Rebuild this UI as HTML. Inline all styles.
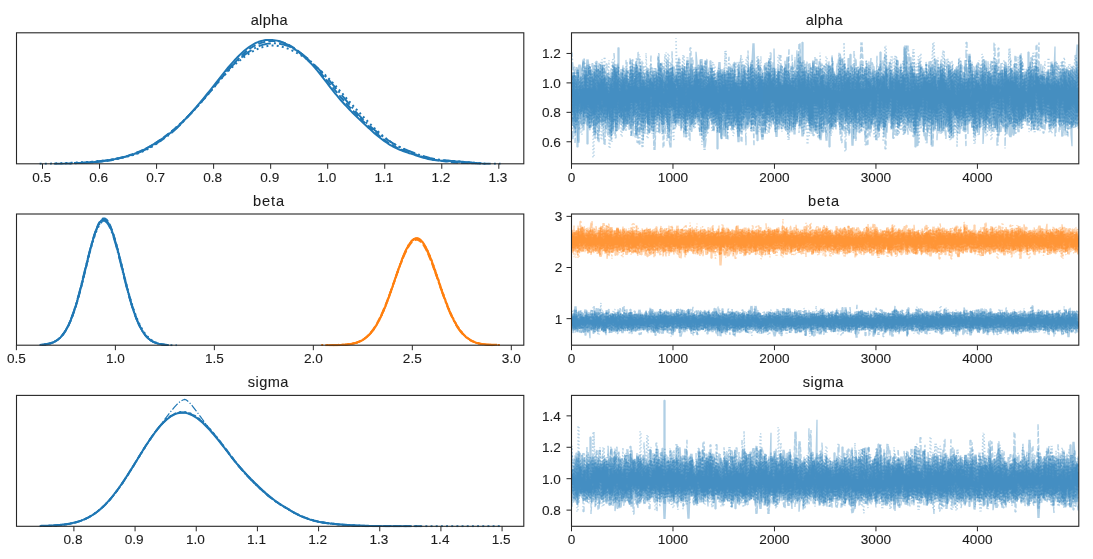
<!DOCTYPE html>
<html><head><meta charset="utf-8"><title>trace</title>
<style>html,body{margin:0;padding:0;background:#fff;}svg{display:block;}text{font-family:"Liberation Sans",sans-serif;font-size:13.6px;fill:#1c1c1c;stroke:#1c1c1c;stroke-width:0.1px;}</style></head><body>
<svg width="1093" height="559" viewBox="0 0 1093 559">
<rect width="1093" height="559" fill="#fff"/>
<defs>
<clipPath id="cl0"><rect x="16.5" y="32.8" width="507.3" height="132"/></clipPath>
<clipPath id="cr0"><rect x="571.5" y="32.8" width="507.9" height="131"/></clipPath>
<clipPath id="cl1"><rect x="16.5" y="214" width="507.3" height="132.2"/></clipPath>
<clipPath id="cr1"><rect x="571.5" y="214" width="507.9" height="131.2"/></clipPath>
<clipPath id="cl2"><rect x="16.5" y="395.4" width="507.3" height="131.9"/></clipPath>
<clipPath id="cr2"><rect x="571.5" y="395.4" width="507.9" height="130.9"/></clipPath>
</defs>
<polyline points="39.65,163.8 41.43,163.8 43.21,163.8 44.99,163.8 46.77,163.8 48.55,163.78 50.32,163.68 52.1,163.55 53.88,163.47 55.66,163.42 57.44,163.33 59.22,163.23 61,163.16 62.78,163.07 64.56,162.97 66.34,162.9 68.12,162.82 69.9,162.73 71.68,162.69 73.46,162.61 75.24,162.52 77.02,162.44 78.8,162.34 80.58,162.28 82.36,162.17 84.13,162.09 85.91,162 87.69,161.91 89.47,161.79 91.25,161.65 93.03,161.53 94.81,161.37 96.59,161.23 98.37,161.03 100.15,160.82 101.93,160.64 103.71,160.47 105.49,160.3 107.27,160.1 109.05,159.87 110.83,159.61 112.61,159.36 114.39,159.1 116.17,158.81 117.94,158.52 119.72,158.23 121.5,157.89 123.28,157.54 125.06,157.13 126.84,156.71 128.62,156.22 130.4,155.75 132.18,155.22 133.96,154.69 135.74,154.13 137.52,153.56 139.3,152.9 141.08,152.22 142.86,151.47 144.64,150.68 146.42,149.82 148.2,148.91 149.98,147.92 151.75,146.89 153.53,145.79 155.31,144.62 157.09,143.36 158.87,142.05 160.65,140.68 162.43,139.24 164.21,137.77 165.99,136.28 167.77,134.78 169.55,133.25 171.33,131.7 173.11,130.11 174.89,128.54 176.67,126.94 178.45,125.34 180.23,123.69 182.01,122.02 183.79,120.4 185.56,118.7 187.34,116.99 189.12,115.21 190.9,113.42 192.68,111.6 194.46,109.74 196.24,107.81 198.02,105.84 199.8,103.82 201.58,101.78 203.36,99.73 205.14,97.68 206.92,95.61 208.7,93.51 210.48,91.38 212.26,89.25 214.04,87.13 215.82,85.04 217.6,82.99 219.37,80.92 221.15,78.91 222.93,76.89 224.71,75 226.49,73.11 228.27,71.18 230.05,69.35 231.83,67.58 233.61,65.89 235.39,64.17 237.17,62.59 238.95,61.07 240.73,59.64 242.51,58.24 244.29,56.89 246.07,55.59 247.85,54.38 249.63,53.24 251.41,52.16 253.18,51.14 254.96,50.21 256.74,49.38 258.52,48.62 260.3,47.91 262.08,47.3 263.86,46.78 265.64,46.33 267.42,45.99 269.2,45.73 270.98,45.53 272.76,45.51 274.54,45.5 276.32,45.7 278.1,45.92 279.88,46.31 281.66,46.7 283.44,47.17 285.22,47.71 286.99,48.37 288.77,49.03 290.55,49.78 292.33,50.64 294.11,51.47 295.89,52.37 297.67,53.32 299.45,54.37 301.23,55.43 303.01,56.55 304.79,57.72 306.57,58.98 308.35,60.28 310.13,61.71 311.91,63.17 313.69,64.62 315.47,66.14 317.25,67.69 319.03,69.28 320.8,70.86 322.58,72.52 324.36,74.2 326.14,75.93 327.92,77.74 329.7,79.55 331.48,81.39 333.26,83.32 335.04,85.25 336.82,87.23 338.6,89.21 340.38,91.26 342.16,93.32 343.94,95.36 345.72,97.43 347.5,99.49 349.28,101.51 351.06,103.47 352.84,105.46 354.61,107.41 356.39,109.33 358.17,111.29 359.95,113.2 361.73,115.11 363.51,117 365.29,118.88 367.07,120.7 368.85,122.53 370.63,124.33 372.41,126.11 374.19,127.89 375.97,129.63 377.75,131.31 379.53,132.92 381.31,134.49 383.09,136.03 384.87,137.5 386.65,138.86 388.42,140.16 390.2,141.43 391.98,142.65 393.76,143.78 395.54,144.86 397.32,145.9 399.1,146.89 400.88,147.83 402.66,148.73 404.44,149.6 406.22,150.45 408,151.28 409.78,152.06 411.56,152.85 413.34,153.6 415.12,154.28 416.9,154.95 418.68,155.6 420.45,156.22 422.23,156.81 424.01,157.35 425.79,157.82 427.57,158.29 429.35,158.74 431.13,159.13 432.91,159.48 434.69,159.81 436.47,160.08 438.25,160.38 440.03,160.61 441.81,160.77 443.59,160.95 445.37,161.13 447.15,161.26 448.93,161.32 450.71,161.43 452.49,161.49 454.26,161.54 456.04,161.58 457.82,161.66 459.6,161.75 461.38,161.84 463.16,161.93 464.94,162.01 466.72,162.14 468.5,162.3 470.28,162.49 472.06,162.68 473.84,162.83 475.62,163.02 477.4,163.21 479.18,163.34 480.96,163.48 482.74,163.58 484.52,163.66 486.3,163.75 488.07,163.75 489.85,163.78 491.63,163.8 493.41,163.8 495.19,163.8 496.97,163.79 498.75,163.76 500.53,163.74" fill="none" stroke="#1f77b4" stroke-width="1.95" stroke-linejoin="round" stroke-dasharray="1.95 3.22" clip-path="url(#cl0)"/>
<polyline points="53.91,163.75 55.57,163.73 57.23,163.72 58.9,163.71 60.56,163.69 62.22,163.67 63.88,163.64 65.55,163.58 67.21,163.58 68.87,163.5 70.54,163.46 72.2,163.37 73.86,163.31 75.52,163.16 77.19,163.08 78.85,163.01 80.51,162.91 82.17,162.8 83.84,162.67 85.5,162.5 87.16,162.33 88.83,162.19 90.49,162.05 92.15,161.91 93.81,161.75 95.48,161.61 97.14,161.43 98.8,161.25 100.46,161.06 102.13,160.89 103.79,160.66 105.45,160.42 107.12,160.18 108.78,159.9 110.44,159.66 112.1,159.41 113.77,159.14 115.43,158.8 117.09,158.49 118.76,158.14 120.42,157.76 122.08,157.39 123.74,156.99 125.41,156.59 127.07,156.22 128.73,155.82 130.39,155.39 132.06,154.89 133.72,154.35 135.38,153.83 137.05,153.23 138.71,152.64 140.37,151.96 142.03,151.26 143.7,150.47 145.36,149.69 147.02,148.88 148.68,148.06 150.35,147.11 152.01,146.1 153.67,145.13 155.34,144.09 157,143.09 158.66,142.02 160.32,140.98 161.99,139.88 163.65,138.77 165.31,137.61 166.97,136.41 168.64,135.13 170.3,133.79 171.96,132.41 173.63,131.02 175.29,129.54 176.95,127.97 178.61,126.35 180.28,124.7 181.94,122.96 183.6,121.18 185.27,119.42 186.93,117.64 188.59,115.81 190.25,114 191.92,112.22 193.58,110.41 195.24,108.57 196.9,106.75 198.57,104.89 200.23,103.02 201.89,101.09 203.56,99.18 205.22,97.2 206.88,95.21 208.54,93.16 210.21,91.08 211.87,89 213.53,86.89 215.19,84.8 216.86,82.73 218.52,80.67 220.18,78.65 221.85,76.67 223.51,74.8 225.17,72.95 226.83,71.1 228.5,69.35 230.16,67.67 231.82,66.02 233.48,64.45 235.15,62.93 236.81,61.44 238.47,59.98 240.14,58.57 241.8,57.16 243.46,55.85 245.12,54.59 246.79,53.31 248.45,52.08 250.11,50.96 251.78,49.94 253.44,48.92 255.1,47.98 256.76,47.11 258.43,46.34 260.09,45.7 261.75,45.14 263.41,44.58 265.08,44.19 266.74,43.86 268.4,43.62 270.07,43.46 271.73,43.31 273.39,43.25 275.05,43.32 276.72,43.4 278.38,43.61 280.04,43.89 281.7,44.18 283.37,44.55 285.03,45.01 286.69,45.57 288.36,46.15 290.02,46.86 291.68,47.64 293.34,48.48 295.01,49.44 296.67,50.46 298.33,51.53 299.99,52.64 301.66,53.8 303.32,55.1 304.98,56.39 306.65,57.76 308.31,59.19 309.97,60.66 311.63,62.16 313.3,63.76 314.96,65.35 316.62,66.95 318.29,68.59 319.95,70.33 321.61,72.05 323.27,73.81 324.94,75.62 326.6,77.46 328.26,79.34 329.92,81.22 331.59,83.13 333.25,85.06 334.91,87.01 336.58,88.97 338.24,90.99 339.9,92.94 341.56,94.94 343.23,96.94 344.89,98.9 346.55,100.89 348.21,102.87 349.88,104.87 351.54,106.8 353.2,108.78 354.87,110.66 356.53,112.53 358.19,114.36 359.85,116.12 361.52,117.86 363.18,119.54 364.84,121.22 366.5,122.83 368.17,124.42 369.83,125.93 371.49,127.4 373.16,128.84 374.82,130.21 376.48,131.56 378.14,132.88 379.81,134.17 381.47,135.5 383.13,136.74 384.8,137.95 386.46,139.12 388.12,140.23 389.78,141.3 391.45,142.36 393.11,143.36 394.77,144.3 396.43,145.25 398.1,146.12 399.76,146.95 401.42,147.73 403.09,148.47 404.75,149.22 406.41,149.9 408.07,150.54 409.74,151.17 411.4,151.83 413.06,152.5 414.72,153.12 416.39,153.75 418.05,154.32 419.71,154.89 421.38,155.46 423.04,155.95 424.7,156.48 426.36,156.95 428.03,157.41 429.69,157.86 431.35,158.26 433.01,158.59 434.68,158.93 436.34,159.24 438,159.45 439.67,159.69 441.33,159.91 442.99,160.1 444.65,160.28 446.32,160.45 447.98,160.59 449.64,160.75 451.31,160.88 452.97,161.03 454.63,161.16 456.29,161.34 457.96,161.48 459.62,161.65 461.28,161.81 462.94,161.98 464.61,162.19 466.27,162.35 467.93,162.53 469.6,162.68 471.26,162.82 472.92,162.97 474.58,163.11 476.25,163.22 477.91,163.31 479.57,163.42 481.23,163.48 482.9,163.53 484.56,163.54" fill="none" stroke="#1f77b4" stroke-width="1.95" stroke-linejoin="round" stroke-dasharray="12.48 3.12 1.95 3.12" clip-path="url(#cl0)"/>
<polyline points="65.32,163.51 66.96,163.49 68.6,163.44 70.24,163.44 71.88,163.37 73.52,163.28 75.16,163.21 76.8,163.12 78.44,163.03 80.08,162.93 81.72,162.84 83.36,162.77 85,162.68 86.65,162.56 88.29,162.51 89.93,162.42 91.57,162.3 93.21,162.18 94.85,162.09 96.49,161.95 98.13,161.8 99.77,161.65 101.41,161.53 103.05,161.36 104.69,161.21 106.33,160.99 107.97,160.74 109.62,160.49 111.26,160.17 112.9,159.87 114.54,159.55 116.18,159.2 117.82,158.8 119.46,158.37 121.1,157.88 122.74,157.4 124.38,156.91 126.02,156.39 127.66,155.85 129.3,155.29 130.95,154.71 132.59,154.14 134.23,153.56 135.87,152.89 137.51,152.27 139.15,151.62 140.79,150.95 142.43,150.22 144.07,149.51 145.71,148.7 147.35,147.89 148.99,146.99 150.63,146.05 152.27,145.11 153.92,144.13 155.56,143.08 157.2,141.97 158.84,140.89 160.48,139.75 162.12,138.62 163.76,137.4 165.4,136.12 167.04,134.9 168.68,133.65 170.32,132.39 171.96,131.09 173.6,129.75 175.24,128.35 176.89,126.97 178.53,125.51 180.17,124.02 181.81,122.5 183.45,120.95 185.09,119.34 186.73,117.68 188.37,115.98 190.01,114.26 191.65,112.53 193.29,110.79 194.93,109.01 196.57,107.2 198.21,105.42 199.86,103.58 201.5,101.72 203.14,99.9 204.78,98.03 206.42,96.16 208.06,94.21 209.7,92.31 211.34,90.34 212.98,88.41 214.62,86.43 216.26,84.47 217.9,82.5 219.54,80.53 221.18,78.59 222.83,76.56 224.47,74.58 226.11,72.64 227.75,70.7 229.39,68.78 231.03,66.91 232.67,65 234.31,63.14 235.95,61.35 237.59,59.66 239.23,57.92 240.87,56.25 242.51,54.68 244.16,53.19 245.8,51.76 247.44,50.42 249.08,49.11 250.72,47.98 252.36,46.97 254,46.01 255.64,45.17 257.28,44.41 258.92,43.73 260.56,43.1 262.2,42.58 263.84,42.17 265.48,41.76 267.13,41.45 268.77,41.24 270.41,41.05 272.05,40.97 273.69,40.96 275.33,41.04 276.97,41.16 278.61,41.32 280.25,41.63 281.89,42.07 283.53,42.59 285.17,43.15 286.81,43.86 288.45,44.71 290.1,45.59 291.74,46.54 293.38,47.57 295.02,48.71 296.66,49.86 298.3,51.1 299.94,52.4 301.58,53.73 303.22,55.08 304.86,56.49 306.5,57.98 308.14,59.55 309.78,61.19 311.42,62.87 313.07,64.5 314.71,66.24 316.35,68.05 317.99,69.85 319.63,71.73 321.27,73.69 322.91,75.63 324.55,77.58 326.19,79.58 327.83,81.56 329.47,83.56 331.11,85.55 332.75,87.51 334.4,89.44 336.04,91.42 337.68,93.4 339.32,95.33 340.96,97.27 342.6,99.17 344.24,101.06 345.88,102.93 347.52,104.75 349.16,106.58 350.8,108.38 352.44,110.15 354.08,111.95 355.72,113.69 357.37,115.4 359.01,117.1 360.65,118.74 362.29,120.34 363.93,121.97 365.57,123.56 367.21,125.12 368.85,126.65 370.49,128.17 372.13,129.64 373.77,131.14 375.41,132.58 377.05,133.98 378.69,135.35 380.34,136.7 381.98,138.05 383.62,139.29 385.26,140.54 386.9,141.71 388.54,142.84 390.18,143.89 391.82,144.92 393.46,145.85 395.1,146.74 396.74,147.56 398.38,148.35 400.02,149.07 401.66,149.78 403.31,150.42 404.95,150.98 406.59,151.56 408.23,152.15 409.87,152.65 411.51,153.18 413.15,153.73 414.79,154.27 416.43,154.79 418.07,155.32 419.71,155.86 421.35,156.39 422.99,156.86 424.63,157.4 426.28,157.86 427.92,158.28 429.56,158.71 431.2,159.09 432.84,159.43 434.48,159.76 436.12,160.04 437.76,160.32 439.4,160.57 441.04,160.81 442.68,161.01 444.32,161.23 445.96,161.43 447.61,161.65 449.25,161.83 450.89,162.04 452.53,162.23 454.17,162.41 455.81,162.56 457.45,162.7 459.09,162.81 460.73,162.9 462.37,162.96 464.01,163.04 465.65,163.08 467.29,163.13 468.93,163.18 470.58,163.19 472.22,163.26 473.86,163.3 475.5,163.36 477.14,163.42 478.78,163.47 480.42,163.55 482.06,163.62 483.7,163.72 485.34,163.8 486.98,163.8 488.62,163.8 490.26,163.8" fill="none" stroke="#1f77b4" stroke-width="1.95" stroke-linejoin="round" stroke-dasharray="7.21 3.12" clip-path="url(#cl0)"/>
<polyline points="73.87,163.05 75.45,163.03 77.02,162.99 78.6,163 80.17,162.93 81.75,162.87 83.32,162.81 84.89,162.72 86.47,162.6 88.04,162.52 89.62,162.4 91.19,162.3 92.77,162.2 94.34,162.08 95.92,161.95 97.49,161.79 99.07,161.62 100.64,161.41 102.22,161.26 103.79,161.04 105.37,160.83 106.94,160.57 108.51,160.31 110.09,160.05 111.66,159.76 113.24,159.45 114.81,159.12 116.39,158.79 117.96,158.42 119.54,158.12 121.11,157.74 122.69,157.37 124.26,157 125.84,156.59 127.41,156.12 128.98,155.67 130.56,155.16 132.13,154.66 133.71,154.11 135.28,153.49 136.86,152.9 138.43,152.2 140.01,151.54 141.58,150.83 143.16,150.04 144.73,149.25 146.31,148.42 147.88,147.55 149.46,146.67 151.03,145.78 152.6,144.85 154.18,143.9 155.75,142.92 157.33,141.93 158.9,140.9 160.48,139.87 162.05,138.82 163.63,137.73 165.2,136.65 166.78,135.54 168.35,134.38 169.93,133.15 171.5,131.89 173.08,130.59 174.65,129.29 176.22,127.9 177.8,126.51 179.37,125.02 180.95,123.49 182.52,121.97 184.1,120.37 185.67,118.76 187.25,117.08 188.82,115.4 190.4,113.66 191.97,111.9 193.55,110.14 195.12,108.35 196.7,106.52 198.27,104.7 199.84,102.84 201.42,100.95 202.99,99.05 204.57,97.11 206.14,95.16 207.72,93.19 209.29,91.24 210.87,89.27 212.44,87.28 214.02,85.29 215.59,83.27 217.17,81.24 218.74,79.27 220.32,77.25 221.89,75.23 223.46,73.29 225.04,71.33 226.61,69.43 228.19,67.49 229.76,65.69 231.34,63.85 232.91,62.05 234.49,60.28 236.06,58.61 237.64,57.02 239.21,55.46 240.79,53.9 242.36,52.44 243.93,51.07 245.51,49.75 247.08,48.51 248.66,47.36 250.23,46.28 251.81,45.24 253.38,44.3 254.96,43.47 256.53,42.68 258.11,42.03 259.68,41.48 261.26,41.01 262.83,40.61 264.41,40.31 265.98,40.08 267.55,39.98 269.13,39.9 270.7,39.92 272.28,40.02 273.85,40.16 275.43,40.35 277,40.65 278.58,41.05 280.15,41.53 281.73,42.04 283.3,42.66 284.88,43.33 286.45,44.05 288.03,44.88 289.6,45.75 291.17,46.73 292.75,47.73 294.32,48.86 295.9,49.97 297.47,51.17 299.05,52.4 300.62,53.68 302.2,55.01 303.77,56.45 305.35,57.87 306.92,59.38 308.5,60.93 310.07,62.52 311.65,64.16 313.22,65.91 314.79,67.66 316.37,69.49 317.94,71.43 319.52,73.38 321.09,75.34 322.67,77.36 324.24,79.42 325.82,81.47 327.39,83.51 328.97,85.58 330.54,87.61 332.12,89.64 333.69,91.6 335.26,93.56 336.84,95.47 338.41,97.41 339.99,99.24 341.56,101.01 343.14,102.75 344.71,104.5 346.29,106.19 347.86,107.86 349.44,109.52 351.01,111.13 352.59,112.7 354.16,114.21 355.74,115.77 357.31,117.3 358.88,118.85 360.46,120.37 362.03,121.88 363.61,123.36 365.18,124.83 366.76,126.28 368.33,127.73 369.91,129.14 371.48,130.6 373.06,132.02 374.63,133.42 376.21,134.72 377.78,136.02 379.36,137.3 380.93,138.53 382.5,139.71 384.08,140.86 385.65,141.98 387.23,143.05 388.8,144.08 390.38,145.05 391.95,145.96 393.53,146.86 395.1,147.68 396.68,148.42 398.25,149.09 399.83,149.77 401.4,150.38 402.98,150.98 404.55,151.52 406.12,152.11 407.7,152.69 409.27,153.2 410.85,153.68 412.42,154.18 414,154.67 415.57,155.23 417.15,155.74 418.72,156.26 420.3,156.77 421.87,157.29 423.45,157.73 425.02,158.18 426.6,158.59 428.17,158.93 429.74,159.29 431.32,159.58 432.89,159.8 434.47,160 436.04,160.21 437.62,160.37 439.19,160.48 440.77,160.62 442.34,160.68 443.92,160.77 445.49,160.81 447.07,160.85 448.64,160.95 450.21,161.01 451.79,161.11 453.36,161.21 454.94,161.33 456.51,161.4 458.09,161.49 459.66,161.59 461.24,161.7 462.81,161.83 464.39,161.97 465.96,162.1 467.54,162.23 469.11,162.36 470.69,162.53 472.26,162.71 473.83,162.83 475.41,162.93 476.98,163.08 478.56,163.17 480.13,163.28 481.71,163.4" fill="none" stroke="#1f77b4" stroke-width="1.95" stroke-linejoin="round" clip-path="url(#cl0)"/>
<g opacity="0.35" fill="none" stroke="#1f77b4" stroke-linejoin="bevel" clip-path="url(#cr0)"><g transform="scale(0.1)"><path d="M5720 1190v-381l10-90v529l10 23v-552l10 57v495l10 56v-517l10 117v542l10 0v-777l10-46v448l10 49v-497l10 51v544l10 0v-543l10-85v686l10 0v-686l10 100v500l10-74v-419l10-126v845l10 0v-845l10 78v603l10 28v-631l10 92v502l10-109v-393l10 46v398l10 147v-553l10-102v655l10-152v-590l10 0v590l10 24v-530l10 0v530l10-123v-302l10-160v585l10 0v-585l10 183v392l10 0v-419l10-33v471l10-107v-310l10-82v463l10-113v-350l10-16v362l10 138v-441l10 24v602l10-205v-471l10 0v484l10-2v-539l10 0v520l10 117v-586l10 0v586l10-17v-815l10 0v815l10-123v-377l10-70v458l10-28v-430l10 55v524l10 0v-485l10-42v431l10 0v-499l10 3v525l10 0v-367l10-39v466l10-8v-524l10-70v506l10 53v-559l10-51v518l10-34v-450l10 0v432l10 249v-700l10 0v700l10-172v-442l10-54v477l10-2v-475l10 23v587l10-96v-357l10-57v619l10-128v-491l10-52v543l10-112v-449l10-9v446l10 88v-496l10 36v542l10 0v-542l10 33v384l10 103v-487l10 31v406l10 66v-540l10 39v343l10 43v-489l10 47v442l10-94v-534l10 0v747l10 6v-690l10 0v574l10 35v-512l10-6v516l10-8v-540l10 126v346l10 0v-448l10-128v651l10 0v-651l10 186v545l10-216v-382l10 0v500l10 0v-480l10-83v540l10 2v-542l10 40v502l10 66v-491l10-155v568l10 34v-602l10-52v587l10-18v-461l10 157v467l10-82v-543l10 0v543l10-15v-525l10 27v606l10 0v-489l10-221v536l10 54v-590l10 99v475l10-13v-333l10-151v629l10 0v-514l10-107v561l10 11v-546l10 24v445l10-38v-632l10 107v538l10 0v-369l10 2v412l10-123v-358l10-137v531l10 242v-773l10 150v658l10 0v-626l10-1v520l10 5v-527l10 0v527l10-166v-367l10 96v304l10 25v-579l10 0v579l10 41v-461l10 0v431l10 0v-457l10 68v307l10 94v-405l10-3v685l10 0v-773l10-95v609l10 98v-707l10 183v584l10 0v-628l10-46v550l10 102v-652l10 20v632l10-195v-437l10-29v480l10 0v-449l10 0v517l10 0v-444l10-125v562l10 39v-601l10 36v565l10-29v-442l10-178v583l10 34v-418l10 0v407l10 181v-563l10-240v803l10-218v-393l10 0v393l10 93v-468l10-42v510l10-2v-645l10 3v642l10-74v-437l10-50v546l10 0v-628l10 85v529l10-195v-334l10-118v609l10 28v-637l10-187v824l10-87v-737l10 316v512l10-124v-450l10 75v645l10 0v-808l10 0v660l10-109v-385l10 6v551l10 75v-640l10 79v561l10-226v-333l10-207v709l10-125v-584l10-1v596l10 0v-584l10-38v570l10-101v-304l10-141v515l10 32v-375l10-176v551l10 71v-760l10 353v407l10 125v-559l10-59v618l10-203v-451l10 0v528l10 0v-427l10 35v433l10 0v-426l10-10v419l10-44v-541l10 0v605l10 17v-636l10-102v520l10 76v-596l10 185v417l10 156v-522l10 0v504l10-44v-497l10 56v441l10 29v-581l10 61v520l10-75v-496l10-217v687l10 26v-678l10 32v693l10 0v-693l10 128v501l10 164v-940l10 0v940l10-41v-721l10 217v303l10-26v-292l10-5v409l10 0v-475l10 102v357l10 81v-429l10-63v516l10-53v-467l10-174v641l10 39v-547l10 13v557l10 0v-544l10-83v508l10 0v-508l10 31v548l10 144v-719l10 10v709l10-91v-618l10 41v585l10 0v-471l10 0v306l10 33v-372l10-77v503l10-24v-538l10-66v855l10 0v-600l10-216v612l10 0v-710l10 231v467l10 0v-507l10 0v475l10 75v-538l10 0v457l10 0v-454l10-77v566l10 0v-566l10 134v349l10 128v-702l10 0v702l10-157v-493l10 3v530l10 38v-490l10 61v365l10 106v-671l10 0v602l10-21v-623l10 0v625l10 288v-787l10 75v712l10-295v-392l10-104v558l10 0v-398l10-90v478l10 38v-516l10-31v547l10-32v-559l10 198v449l10-129v-423l10-18v488l10 0v-488l10-4v496l10 0v-443l10-92v481l10 13v-420l10-155v678l10 0v-482l10-22v538l10-165v-373l10-92v552l10 8v-474l10-10v484l10-43v-479l10 0v465l10 119v-580l10-60v640l10-139v-657l10 0v759l10 0v-513l10-14v509l10 0v-509l10 172v350l10-108v-494l10 27v626l10-172v-481l10 0v508l10-47v-429l10 0v568l10 11v-413l10-139v552l10-38v-514l10-70v583l10-66v-531l10-55v586l10 101v-457l10-23v480l10-58v-546l10-40v586l10-6v-434l10-34v468l10 21v-569l10-215v876l10-33v-843l10 377v421l10 0v-504l10 5v474l10 0v-652l10 0v711l10-156v-438l10 0v481l10 94v-526l10 0v728l10 0v-732l10 109v610l10 0v-687l10-1v435l10 3v-535l10 0v499l10 0v-391l10-58v528l10 69v-597l10 127v389l10-27v-431l10-67v604l10 0v-575l10 83v464l10-71v-492l10-62v789l10-331v-458l10 59v532l10 50v-539l10 2v537l10-177v-526l10 0v562l10 147v-664l10 209v455l10-163v-295l10-212v447l10 226v-666l10 0v666l10-37v-536l10 0v506l10 20v-488l10 6v377l10 158v-504l10-159v663l10-39v-624l10 63v561l10 103v-615l10-26v641l10-124v-529l10-30v448l10 0v-469l10-14v511l10 63v-523l10-122v739l10 0v-601l10-123v559l10 27v-415l10 96v319l10 108v-471l10-232v703l10-153v-550l10 203v358l10 89v-421l10-47v423l10 0v-567l10 0v567l10-49v-457l10 107v422l10 135v-559l10-54v613l10-90v-613l10 0v657l10-223v-264l10-43v421l10 72v-603l10 0v496l10 0v-453l10 0v720l10-165v-493l10-177v722l10-146v-576l10 120v474l10-56v-423l10 0v584l10 0v-567l10 0v545l10-116v-319l10 7v335l10 90v-491l10-136v627l10-43v-413l10 39v294l10 200v-546l10-82v628l10-240v-368l10-115v583l10 27v-547l10 158v405l10 9v-432l10-172v604l10 74v-678l10 120v558l10-109v-444l10 47v508l10 27v-546l10-140v686l10-67v-619l10 67v599l10 0v-626l10 106v399l10-36v-436l10 0v470l10 29v-568l10 19v554l10-78v-625l10 0v723l10 0v-536l10 86v362l10-12v-362l10-97v404l10 93v-502l10 70v462l10 0v-728l10 0v618l10 0v-519l10 80v485l10 51v-489l10 0v516l10 35v-595l10-48v609l10-52v-557l10 105v452l10 18v-470l10 30v461l10 5v-492l10-126v618l10-72v-466l10 155v277l10-46v-338l10 0v338l10 136v-515l10-9v373l10 74v-447l10 52v397l10 4v-324l10-205v642l10-52v-590l10 64v574l10 0v-564l10-249v796l10 0v-501l10 136v283l10-19v-352l10 18v399l10 45v-491l10 0v327l10 68v-480l10 0v489l10 49v-530l10 40v490l10-11v-479l10-71v550l10 9v-509l10 62v447l10-108v-375l10-62v654l10 123v-777l10 30v535l10-2v-490l10-66v543l10 34v-681l10-143v824l10-186v-638" stroke-width="13"/></g></g>
<g opacity="0.35" fill="none" stroke="#1f77b4" stroke-linejoin="bevel" clip-path="url(#cr0)"><g transform="scale(0.1)"><path d="M5720 1130v-386l10 4v526l10 0v-567l10 85v407l10 34v-441l10-94v546l10 0v-546l10 101v330l10 0v-330l10-38v583l10 0v-562l10-27v509l10-35v-474l10-75v477l10-2v-475l10 81v419l10 0v-382l10-158v597l10-127v-470l10 146v418l10 0v-453l10-43v864l10 0v-871l10-76v723l10 0v-723l10 104v464l10 204v-750l10 39v625l10-175v-512l10 0v774l10 0v-805l10 190v561l10-166v-589l10-21v638l10-46v-370l10-13v442l10 6v-468l10-155v881l10 0v-717l10-2v486l10 169v-823l10 0v695l10-156v-448l10-42v686l10 0v-678l10-20v675l10-123v-552l10 152v357l10 52v-419l10 7v583l10 0v-583l10-107v630l10 0v-630l10 53v514l10-115v-466l10 0v610l10-36v-526l10 88v438l10-120v-318l10-142v443l10-57v-386l10-69v631l10 20v-478l10-44v408l10 221v-694l10 0v694l10-137v-411l10-70v481l10-64v-581l10 159v457l10 300v-673l10-49v722l10-217v-604l10 0v484l10 92v-701l10 178v673l10 0v-666l10 86v358l10 58v-579l10 0v406l10 292v-664l10 0v664l10-80v-540l10-35v582l10-55v-461l10-28v607l10 0v-607l10 37v394l10 0v-450l10 0v476l10 65v-545l10-40v500l10 36v-536l10-117v653l10 29v-699l10 246v643l10-299v-576l10 0v610l10 47v-515l10 0v433l10 0v-450l10 50v647l10 51v-674l10 29v533l10-116v-800l10 227v541l10 60v-563l10-54v617l10-22v-595l10 208v424l10-80v-473l10-122v595l10 189v-784l10 237v547l10 31v-595l10-198v793l10-192v-601l10 151v450l10 27v-439l10 65v265l10 90v-395l10 3v444l10 55v-598l10 13v585l10-94v-498l10 0v521l10 0v-566l10 0v467l10-47v-352l10-44v485l10 288v-773l10-18v538l10 99v-658l10 0v658l10 74v-686l10 0v539l10-40v-420l10-23v381l10-21v-362l10-84v561l10 97v-665l10-28v519l10 95v-584l10 0v584l10 39v-504l10 0v564l10-89v-444l10-65v545l10-104v-422l10-2v409l10 78v-487l10 29v429l10 0v-404l10-296v735l10 41v-776l10 202v528l10 61v-589l10 53v444l10-28v-499l10 0v451l10 132v-573l10 22v644l10 0v-585l10-33v498l10 17v-630l10 0v688l10 0v-593l10 0v550l10-104v-334l10-26v525l10 0v-736l10 0v666l10-66v-541l10 83v401l10-28v-533l10 0v551l10-25v-407l10 74v372l10-29v-308l10-167v678l10-62v-616l10 63v529l10 81v-610l10 43v501l10-50v-451l10-182v608l10 0v-608l10 219v536l10 0v-581l10-172v594l10 23v-458l10 38v504l10-90v-396l10-10v461l10 0v-559l10 58v607l10 0v-683l10-79v674l10 53v-727l10 50v595l10-100v-400l10 0v496l10-98v-437l10 0v510l10 15v-518l10 106v473l10 0v-712l10 0v631l10 2v-490l10 0v525l10 97v-664l10 71v514l10 48v-612l10 0v612l10-96v-469l10-20v436l10 264v-700l10 59v641l10-243v-478l10 0v478l10 3v-456l10 0v592l10 0v-553l10-20v476l10 0v-476l10-71v552l10-86v-507l10 0v722l10-209v-519l10 62v621l10 0v-634l10 37v641l10 0v-669l10-18v605l10-10v-521l10-1v722l10 0v-731l10 0v647l10 0v-558l10-134v645l10-30v-498l10-150v575l10-136v-314l10-12v562l10 0v-530l10-118v621l10 100v-721l10 30v691l10-197v-656l10 164v463l10 175v-582l10-96v678l10-119v-559l10 11v448l10 25v-568l10 0v568l10-85v-351l10 0v444l10 194v-515l10-81v621l10-49v-427l10-134v422l10 102v-488l10 14v421l10-65v-399l10 1v417l10 26v-398l10-203v551l10 146v-697l10 82v615l10-177v-363l10-95v458l10-7v-691l10 320v399l10 73v-453l10-32v595l10 0v-678l10 68v389l10 136v-525l10 84v441l10-93v-365l10-152v513l10 153v-666l10 149v517l10-2v-515l10-90v605l10-64v-558l10 0v567l10-152v-319l10-47v542l10 0v-508l10-109v602l10 56v-502l10-111v548l10-71v-557l10 0v621l10-11v-442l10-128v570l10-83v-487l10 76v428l10 99v-527l10 5v441l10 198v-639l10 29v610l10 23v-566l10-64v339l10-20v-315l10-92v573l10-57v-516l10-12v528l10-107v-358l10-4v694l10-144v-585l10-231v815l10 0v-815l10 190v531l10-63v-341l10-153v532l10 0v-532l10-57v544l10 130v-674l10 14v660l10-8v-470l10-205v646l10-62v-584l10 31v606l10 146v-646l10-16v662l10-49v-613l10 1v625l10 0v-625l10-70v639l10 88v-727l10 143v584l10-174v-410l10-18v397l10 76v-473l10 13v477l10 0v-503l10 21v416l10 4v-348l10-320v712l10 101v-813l10 220v593l10-97v-568l10 0v710l10 0v-783l10 0v869l10-167v-732l10 0v545l10 84v-463l10-19v414l10 152v-566l10 28v538l10-54v-578l10 107v485l10 0v-488l10 54v580l10 0v-580l10-87v608l10-60v-667l10-147v710l10 35v-745l10 226v538l10 16v-504l10 18v471l10 25v-639l10 135v387l10 62v-517l10 0v573l10 0v-652l10-59v647l10 51v-698l10 217v426l10-51v-375l10-135v681l10 0v-681l10 89v620l10 107v-679l10-18v697l10-212v-485l10-69v724l10 0v-636l10 16v584l10 0v-584l10-38v770l10-332v-456l10-106v624l10-6v-618l10 50v529l10 105v-473l10 0v427l10 0v-455l10 40v420l10 0v-430l10-14v399l10 44v-473l10-150v623l10-55v-568l10 18v550l10 119v-669l10 110v559l10 153v-662l10 0v662l10-122v-604l10 0v404l10 22v-317l10-215v643l10-82v-525l10 0v525l10-15v-608l10 0v753l10 0v-534l10-26v474l10 153v-627l10-55v682l10-75v-554l10 25v377l10 0v-494l10 27v728l10 0v-786l10 0v509l10 87v-649l10 0v560l10 0v-485l10 0v457l10 60v-475l10 0v477l10 0v-444l10 2v555l10 0v-646l10 52v508l10 28v-603l10 0v612l10 0v-507l10 51v528l10 0v-528l10-276v727l10 0v-727l10 227v520l10 32v-582l10 0v606l10 0v-575l10-78v660l10-62v-598l10 1v597l10-31v-635l10 226v429l10-27v-578l10-42v711l10-7v-704l10 123v581l10-100v-487l10 0v473l10-76v-336l10 105v351l10-45v-490l10 0v648l10-201v-463l10 0v519l10 59v-559l10-148v685l10 110v-795l10 29v766l10-248v-518l10 138v350l10 269v-640l10 0v632l10 0v-551l10-2v525l10 0v-573l10 0v389l10 32v-409l10-104v619l10-6v-500l10 0v500l10-2v-642l10 0v509l10 212v-550l10-141v691l10 33v-724l10 173v362l10 141v-516l10 0v480l10 0v-575l10-46v525l10-99v-382l10 0v546l10 39v-468l10-168v636l10-65v-571l10 31v617l10 0v-700l10 40v654l10 0v-508l10 4v592l10-61v-608l10-44v518l10 109v-627l10 24v572l10-15v-557l10 18v578l10-183v-395l10-134v603l10 81v-684l10 100v584l10 13v-597" stroke-width="13" stroke-dasharray="13 21.45"/><path d="M5720 971v-219m10 381v-380m10 380v-328m10 367v-267m10 154v-168m10 239v-354m10 354v-218m10 149v-172m10 149v-184m10 264v-228m10 374v-380m10 285v-310m10 256v-228m10 202v-334m10 333v-327m10 341v-217m10 168v-172m10 197v-203m10 205v-279m10 309v-220m10 261v-261m10 252v-378m10 378v-408m10 518v-419m10 419v-373m10 224v-201m10 145v-248m10 313v-288m10 271v-255m10 255v-295m10 417v-421m10 421v-399m10 251v-294m10 358v-358m10 289v-232m10 319v-311m10 328v-266m10 266v-239m10 255v-334m10 235v-259m10 423v-485m10 371v-255m10 242v-303m10 263v-389m10 455v-455m10 392v-343m10 400v-357m10 339v-240m10 245v-220m10 261v-346m10 353v-335m10 266v-315m10 452v-457m10 329v-314m10 311v-220m10 220v-318m10 362v-345m10 302v-302m10 285v-240m10 173v-173m10 173v-298m10 352v-352m10 431v-345m10 209v-248m10 248v-267m10 277v-178m10 203v-193m10 225v-204m10 113v-278m10 401v-304m10 304v-266m10 248v-304m10 319v-327m10 227v-167m10 284v-284m10 376v-388m10 382v-355m10 241v-241m10 218v-312m10 190v-181m10 385v-343m10 238v-315m10 446v-446m10 346v-198m10 172v-234m10 232v-321m10 407v-283m10 225v-245m10 173v-260m10 370v-344m10 386v-438m10 316v-316m10 371v-273m10 238v-302m10 306v-306m10 391v-325m10 191v-278m10 321v-321m10 322v-273m10 279v-307m10 311v-372m10 361v-331m10 358v-328m10 410v-394m10 306v-325m10 198v-223m10 389v-339m10 385v-332m10 224v-224m10 224v-265m10 279v-215m10 179v-326m10 375v-314m10 460v-414m10 319v-355m10 328v-297m10 304v-249m10 249v-335m10 334v-312m10 174v-143m10 250v-236m10 284v-289m10 330v-403m10 403v-387m10 340v-416m10 416v-403m10 382v-348m10 252v-303m10 336v-243m10 259v-298m10 398v-293m10 291v-380m10 349v-432m10 487v-315m10 315v-341m10 263v-267m10 271v-283m10 258v-331m10 310v-284m10 323v-376m10 376v-432m10 412v-350m10 394v-309m10 314v-319m10 324v-342m10 342v-291m10 280v-210m10 308v-412m10 275v-248m10 177v-153m10 238v-299m10 325v-290m10 280v-280m10 178v-252m10 273v-299m10 387v-263m10 336v-410m10 303v-191m10 228v-309m10 229v-220m10 227v-226m10 281v-304m10 414v-406m10 292v-323m10 323v-309m10 414v-454m10 454v-358m10 283v-315m10 296v-244m10 226v-247m10 365v-519m10 518v-440m10 334v-266m10 148v-175m10 273v-305m10 277v-210m10 201v-240m10 254v-279m10 279v-236m10 241v-278m10 379v-392m10 304v-299m10 358v-311m10 219v-181m10 181v-199m10 246v-191m10 239v-333m10 339v-339m10 333v-379m10 324v-343m10 325v-295m10 295v-259m10 212v-212m10 318v-317m10 317v-375m10 384v-355m10 355v-424m10 347v-359m10 502v-502m10 290v-198m10 218v-223m10 223v-256m10 255v-285m10 380v-430m10 454v-296m10 296v-272m10 220v-448m10 499v-371m10 389v-328m10 353v-384m10 419v-387m10 287v-287m10 215v-317m10 400v-360m10 314v-288m10 266v-264m10 338v-299m10 281v-274m10 266v-351m10 375v-284m10 234v-237m10 266v-315m10 379v-369m10 354v-377m10 307v-265m10 258v-188m10 130v-239m10 308v-299m10 277v-407m10 407v-237m10 404v-463m10 268v-234m10 289v-314m10 402v-470m10 440v-293m10 190v-218m10 289v-387m10 490v-447m10 421v-314m10 298v-390m10 390v-366m10 357v-319m10 181v-257m10 259v-271m10 286v-262m10 249v-265m10 296v-221m10 287v-287m10 230v-479m10 479v-329m10 397v-382m10 369v-398m10 241v-266m10 369v-349m10 349v-349m10 304v-258m10 215v-179m10 251v-249m10 321v-265m10 435v-434m10 280v-261m10 242v-316m10 316v-335m10 353v-338m10 258v-312m10 358v-220m10 180v-233m10 184v-205m10 247v-164m10 180v-354m10 354v-273m10 287v-262m10 240v-341m10 382v-297m10 325v-334m10 335v-354m10 264v-298m10 289v-280m10 310v-267m10 323v-254m10 229v-296m10 265v-351m10 415v-365m10 394v-288m10 288v-357m10 303v-314m10 313v-413m10 413v-355m10 278v-217m10 258v-202m10 264v-264m10 228v-285m10 271v-215m10 284v-284m10 198v-335m10 366v-334m10 280v-256m10 265v-260m10 211v-200m10 182v-158m10 312v-287m10 235v-252m10 296v-386m10 432v-333m10 243v-230m10 155v-251m10 162v-148m10 292v-269m10 315v-351m10 286v-286m10 234v-198m10 264v-264m10 269v-335m10 326v-326m10 286v-382m10 431v-344m10 350v-220m10 171v-232m10 211v-243m10 205v-226m10 432v-432m10 405v-361m10 361v-259m10 230v-364m10 348v-295m10 184v-273m10 441v-424m10 424v-422m10 312v-229m10 304v-304m10 265v-272m10 231v-309m10 341v-311m10 324v-324m10 324v-194m10 163v-199m10 185v-279m10 350v-255m10 212v-244m10 259v-288m10 229v-186m10 228v-362m10 364v-364m10 487v-370m10 320v-384m10 410v-328m10 257v-279m10 410v-398m10 380v-338m10 176v-229m10 247v-251m10 154v-156m10 280v-334m10 346v-361m10 329v-285m10 205v-239m10 335v-335m10 349v-293m10 257v-259m10 307v-307m10 307v-351m10 319v-283m10 317v-375m10 410v-410m10 379v-412m10 412v-338m10 338v-333m10 236v-241m10 281v-403m10 403v-366m10 320v-306m10 301v-242m10 294v-294m10 282v-248m10 234v-234m10 311v-241m10 241v-285m10 361v-324m10 329v-317m10 265v-393m10 327v-297m10 334v-320m10 390v-390m10 364v-293m10 291v-225m10 207v-303m10 268v-289m10 344v-344m10 326v-509m10 442v-256m10 231v-237m10 354v-354m10 350v-354m10 330v-330m10 232v-165m10 157v-225m10 291v-336m10 364v-364m10 316v-205m10 205v-280m10 359v-450m10 450v-356m10 302v-243m10 321v-337m10 253v-305m10 218v-208m10 296v-294m10 327v-327m10 264v-305m10 314v-346m10 346v-353m10 373v-368m10 306v-242m10 317v-316m10 390v-408m10 393v-393m10 299v-334m10 353v-286m10 286v-339m10 218v-215m10 302v-261m10 140v-237m10 344v-202m10 154v-193m10 210v-349m10 349v-275m10 274v-254m10 316v-300m10 193v-203m10 358v-275m10 248v-333m10 193v-269m10 324v-357m10 462v-422m10 422v-390m10 296v-236m10 267v-299m10 283v-290m10 196v-185m10 298v-271m10 309v-309m10 342v-328m10 350v-350m10 350v-472m10 388v-409m10 389v-217m10 275v-280m10 346v-312m10 218v-351m10 420v-493m10 554v-359m10 323v-337m10 313v-430m10 327v-251m10 221v-121m10 194v-178m10 210v-279m10 263v-307m10 258v-308m10 308v-372m10 477v-307m10 286v-384m10 349v-412m10 470v-473m10 229v-229m10 284v-251m10 307v-281m10 337v-303m10 303v-263m10 336v-336m10 336v-415m10 217v-217m10 280v-191m10 224v-278m10 280v-262m10 234v-268m10 268v-340m10 329v-282m10 338v-279m10 386v-405m10 349v-318m10 318v-292m10 291v-309m10 304v-324m10 327v-314m10 228v-264m10 199v-199m10 377v-374m10 401v-327m10 196v-287m10 269v-324m10 295v-295m10 384v-331m10 373v-369m10 353v-331m10 319v-308m10 288v-285m10 285v-342m10 340v-286m10 286v-281m10 239v-182m10 200v-294m10 266v-181m10 215v-276m10 407v-390m10 381v-322m10 269v-269" stroke-width="13"/></g></g>
<g opacity="0.35" fill="none" stroke="#1f77b4" stroke-linejoin="bevel" clip-path="url(#cr0)"><g transform="scale(0.1)"><path d="M5720 1213v-326l10-144v470l10-16v-525l10 0v766l10-190v-498l10-35v498l10-20v-478l10 122v459l10-72v-426l10 0v339l10-16v-307l10 45v217l10 166v-405l10-98v503l10-97v-422l10 0v422l10 79v-396l10-168v553l10 65v-618l10 131v487l10-135v-507l10 0v507l10 152v-649l10 72v663l10 0v-663l10-20v541l10-6v-450l10-155v605l10-22v-583l10 105v529l10 0v-529l10-85v457l10 68v-525l10 68v457l10 116v-445l10-21v379l10 73v-452l10-54v329l10 233v-539l10-9v548l10-29v-470l10-177v659l10-171v-488l10 60v664l10 0v-642l10-81v567l10 0v-567l10 139v339l10 114v-451l10 16v435l10-16v-428l10-151v579l10-32v-440l10-13v461l10 101v-706l10 0v643l10-91v-378l10 6v474l10 0v-630l10-30v770l10-102v-668l10 175v493l10-52v-380l10-94v631l10 0v-781l10 0v836l10 0v-713l10 130v484l10 0v-714l10 114v522l10 69v-589l10-8v597l10-129v-468l10 81v539l10-179v-317l10-164v419l10 240v-659l10 75v584l10-46v-588l10 112v476l10-6v-559l10 0v559l10 212v-766l10 3v763l10-252v-490l10-3v493l10-97v-613l10 0v778l10-232v-400l10-50v518l10 77v-452l10 52v646l10 0v-810l10 71v405l10 11v-416l10-29v529l10 67v-596l10-9v697l10 81v-790l10 2v788l10-341v-621l10 207v564l10 0v-538l10 45v434l10 0v-469l10 27v388l10-28v-420l10 0v459l10 0v-516l10 76v444l10-2v-525l10-8v564l10 158v-680l10-29v620l10 29v-572l10 59v414l10-81v-376l10-38v430l10 145v-814l10 0v772l10-28v-645l10 0v645l10-7v-370l10-105v494l10 0v-543l10 0v454l10 49v-549l10 0v631l10 79v-661l10 44v617l10-88v-615l10 0v615l10-126v-290l10-206v496l10-14v-534l10 0v561l10 131v-566l10 30v536l10-130v-378l10 4v374l10-3v-470l10 8v625l10 0v-578l10 0v482l10 0v-499l10 0v544l10 64v-607l10 57v550l10-35v-590l10-20v610l10-158v-443l10 11v369l10 53v-446l10 144v374l10 190v-584l10 0v584l10-140v-523l10-61v566l10-66v-443l10 8v565l10 8v-424l10-241v665l10-129v-536l10 216v423l10-63v-404l10 0v416l10 140v-678l10 149v529l10-98v-626l10-92v870l10 0v-678l10 0v409l10 33v-498l10 0v480l10 18v-359l10 0v416l10 0v-736l10 281v401l10-32v-299l10-211v674l10 0v-717l10 80v517l10 263v-780l10 32v562l10-124v-365l10-36v347l10 23v-477l10 9v467l10 14v-481l10 157v411l10 149v-580l10-73v653l10-88v-637l10 34v603l10 19v-622l10 17v452l10-13v-315l10-91v600l10-170v-430l10 32v518l10-103v-462l10-36v570l10-139v-431l10 96v518l10 0v-475l10-81v505l10-153v-352l10-21v523l10-44v-455l10-90v452l10 47v-360l10-71v376l10 138v-446l10-177v623l10 9v-528l10 0v454l10 132v-564l10-248v812l10-112v-400l10 6v394l10 136v-665l10 0v614l10 0v-485l10 0v442l10 12v-493l10 0v493l10-109v-466l10-233v699l10-39v-660l10 226v501l10 7v-465l10 0v465l10 22v-462l10 3v566l10 0v-675l10 0v532l10 13v-489l10-46v614l10 70v-684l10 74v610l10 25v-635l10-90v743l10 0v-743l10 67v535l10 66v-601l10 95v506l10-205v-301l10-164v604l10 72v-578l10-75v653l10-91v-562l10 83v479l10 50v-529l10 22v485l10 183v-769l10 0v769l10-175v-572l10 1v571l10-49v-522l10 80v529l10 0v-526l10-143v598l10-53v-427l10 149v393l10 0v-495l10 0v362l10 36v-432l10 12v442l10 0v-614l10 127v727l10 0v-663l10 0v439l10-81v-458l10 0v622l10 0v-582l10 0v529l10 81v-557l10-35v634l10-234v-400l10 31v466l10-29v-408l10 0v465l10 141v-697l10 0v700l10 16v-655l10-87v469l10-19v-450l10 146v516l10 0v-651l10-252v886l10 0v-886l10 176v575l10 6v-505l10-3v775l10 0v-840l10 68v779l10 0v-670l10-99v677l10 0v-670l10 61v531l10-74v-447l10 0v434l10-23v-462l10 0v449l10 0v-297l10-307v623l10 122v-634l10 0v634l10-74v-490l10 26v455l10-29v-454l10-133v572l10 198v-770l10-56v941l10 0v-941l10 128v490l10 39v-466l10 20v472l10-127v-485l10 1v676l10-50v-481l10 0v429l10 0v-423l10-34v452l10 0v-480l10-117v656l10-57v-599l10 189v472l10-94v-378l10-79v502l10-39v-449l10 0v627l10 0v-582l10 3v383l10 10v-482l10-58v617l10 114v-687l10 0v434l10 84v-450l10-106v570l10 35v-605l10 174v431l10 114v-604l10 0v611l10 0v-598l10 89v382l10 46v-525l10-33v558l10-123v-413l10-78v509l10-49v-460l10 112v549l10 0v-556l10 0v438l10-28v-525l10 0v515l10 61v-423l10-146v569l10-29v-514l10 98v453l10 240v-721l10 0v721l10-312v-516l10-61v519l10 140v-476l10-42v683l10-332v-396l10 0v545l10 85v-607l10 80v563l10 0v-599l10-58v614l10-236v-378l10 100v422l10 59v-461l10-5v466l10-28v-462l10-76v675l10 0v-675l10 99v549l10-242v-496l10 170v305l10 24v-393l10-31v584l10 0v-584l10 12v634l10 0v-615l10-6v478l10 0v-435l10-101v587l10 19v-606l10 186v484l10 0v-608l10 63v477l10 216v-655l10-23v418l10-54v-364l10-254v700l10 0v-700l10 421v249l10 69v-531l10 2v529l10 6v-482l10-91v573l10 2v-575l10-74v649l10-61v-613l10 223v435l10 0v-473l10 87v313l10-36v-511l10-57v618l10 0v-618l10 82v528l10 15v-543l10 40v530l10 0v-517l10-10v560l10-69v-491l10-107v598l10 102v-700l10 52v648l10 19v-667l10 0v630l10 6v-705l10 65v640l10-137v-678l10 0v645l10 197v-487l10-140v627l10-163v-464l10 43v347l10 21v-310l10-174v484l10 174v-658l10 122v536l10-30v-508l10 0v508l10-22v-562l10 0v560l10-117v-409l10 78v506l10 0v-544l10-188v720l10 0v-720l10 204v433l10 132v-601l10 132v469l10-121v-667l10 0v667l10-51v-543l10 198v332l10 74v-406l10-19v425l10-28v-494l10 9v375l10 95v-435l10-61v496l10 37v-474l10-30v609l10-130v-479l10-4v433l10-46v-275l10 0v380l10 0v-744l10 0v606l10 49v-415l10-262v690l10 4v-372l10 4v532l10 9v-541l10 14v567l10 0v-609l10 120v465l10-181v-331l10-21v365l10 6v-365l10 27v456l10 0v-431l10 39v342l10-136v-444l10 24v555l10 0v-555l10-41v591l10 0v-591l10 23v455l10 138v-587l10 0v670l10 0v-634l10 53v449l10 186v-574l10 78v489l10-215v-483l10 0v642l10-97v-516l10 1v669l10 0v-669l10 87v506l10-1v-565l10 50v515l10-24v-505l10 0v472l10 6v-433l10 8v425l10-117v-374l10-52v481l10-94v-387" stroke-width="13" stroke-dasharray="48.1 20.8"/><path d="M5720 1191v-274m10 228v-292m10 226v-249m10 380v-460m10 463v-458m10 440v-440m10 401v-392m10 429v-334m10 333v-377m10 306v-307m10 268v-245m10 225v-194m10 269v-260m10 241v-357m10 357v-341m10 333v-333m10 421v-357m10 357v-420m10 435v-452m10 450v-405m10 286v-392m10 439v-493m10 521v-313m10 441v-528m10 425v-442m10 360v-360m10 424v-357m10 361v-367m10 367v-375m10 408v-447m10 391v-391m10 299v-252m10 306v-401m10 401v-317m10 323v-254m10 329v-354m10 394v-402m10 256v-300m10 378v-335m10 345v-337m10 403v-403m10 459v-610m10 366v-366m10 506v-461m10 461v-379m10 385v-426m10 426v-409m10 325v-323m10 337v-321m10 388v-335m10 335v-380m10 379v-440m10 396v-392m10 297v-297m10 476v-521m10 521v-521m10 406v-342m10 361v-346m10 386v-456m10 466v-466m10 497v-458m10 458v-361m10 279v-294m10 294v-321m10 398v-531m10 531v-531m10 501v-442m10 460v-318m10 390v-554m10 468v-427m10 427v-442m10 436v-452m10 428v-363m10 360v-317m10 278v-236m10 171v-262m10 509v-498m10 397v-407m10 407v-382m10 413v-352m10 321v-434m10 366v-402m10 633v-630m10 567v-524m10 466v-459m10 434v-433m10 347v-330m10 403v-501m10 368v-368m10 439v-393m10 399v-358m10 529v-466m10 292v-212m10 188v-316m10 336v-367m10 445v-328m10 328v-463m10 501v-501m10 501v-500m10 374v-374m10 320v-393m10 403v-344m10 348v-313m10 313v-301m10 378v-388m10 383v-370m10 333v-347m10 400v-413m10 413v-440m10 401v-372m10 372v-428m10 469v-525m10 556v-463m10 483v-457m10 457v-411m10 342v-342m10 239v-263m10 278v-321m10 473v-653m10 653v-653m10 580v-456m10 516v-370m10 294v-294m10 294v-317m10 323v-430m10 408v-413m10 409v-409m10 484v-346m10 428v-538m10 370v-283m10 337v-365m10 403v-403m10 332v-224m10 222v-330m10 326v-519m10 513v-513m10 550v-411m10 340v-306m10 307v-298m10 350v-279m10 280v-391m10 406v-345m10 320v-332m10 396v-335m10 284v-280m10 328v-467m10 543v-468m10 319v-322m10 446v-430m10 430v-536m10 416v-406m10 356v-237m10 216v-345m10 422v-299m10 449v-449m10 421v-403m10 372v-459m10 459v-496m10 411v-403m10 503v-466m10 528v-415m10 357v-556m10 447v-392m10 450v-330m10 331v-370m10 276v-266m10 515v-514m10 514v-474m10 300v-481m10 402v-447m10 461v-299m10 275v-336m10 408v-376m10 301v-344m10 434v-286m10 278v-310m10 336v-336m10 336v-292m10 240v-240m10 209v-378m10 432v-449m10 376v-376m10 471v-463m10 438v-386m10 353v-267m10 225v-315m10 348v-357m10 357v-357m10 367v-373m10 387v-312m10 386v-398m10 302v-257m10 215v-353m10 401v-380m10 410v-330m10 329v-359m10 339v-258m10 287v-339m10 331v-403m10 440v-413m10 403v-438m10 322v-362m10 402v-402m10 432v-345m10 457v-365m10 338v-417m10 283v-283m10 339v-397m10 397v-396m10 318v-309m10 352v-295m10 255v-289m10 345v-297m10 359v-359m10 359v-349m10 249v-345m10 529v-488m10 488v-521m10 426v-338m10 341v-359m10 342v-402m10 438v-438m10 438v-342m10 253v-227m10 354v-428m10 363v-396m10 359v-359m10 359v-461m10 424v-339m10 319v-256m10 346v-419m10 360v-332m10 399v-418m10 491v-491m10 491v-493m10 355v-333m10 383v-455m10 512v-553m10 592v-506m10 474v-474m10 474v-495m10 618v-705m10 590v-303m10 244v-410m10 431v-431m10 431v-360m10 224v-236m10 338v-442m10 506v-495m10 426v-335m10 335v-368m10 358v-337m10 371v-371m10 325v-242m10 342v-383m10 341v-522m10 525v-459m10 411v-413m10 413v-413m10 430v-409m10 523v-523m10 350v-375m10 382v-382m10 426v-246m10 228v-333m10 321v-341m10 266v-297m10 434v-352m10 352v-393m10 474v-474m10 462v-479m10 352v-356m10 345v-345m10 331v-360m10 497v-497m10 487v-414m10 474v-474m10 505v-525m10 326v-353m10 353v-353m10 404v-357m10 432v-433m10 439v-371m10 512v-665m10 668v-631m10 365v-393m10 340v-340m10 397v-301m10 354v-328m10 283v-283m10 321v-312m10 282v-282m10 303v-361m10 376v-476m10 560v-589m10 589v-480m10 487v-475m10 349v-375m10 514v-531m10 380v-346m10 363v-317m10 341v-316m10 261v-367m10 408v-408m10 408v-259m10 272v-415m10 415v-428m10 421v-428m10 481v-415m10 386v-329m10 329v-431m10 345v-431m10 658v-528m10 540v-581m10 581v-668m10 470v-352m10 372v-370m10 409v-434m10 319v-470m10 604v-417m10 352v-352m10 385v-417m10 404v-404m10 404v-427m10 390v-433m10 482v-482m10 382v-479m10 479v-298m10 297v-297m10 366v-326m10 305v-388m10 332v-332m10 300v-275m10 343v-272m10 301v-383m10 393v-482m10 559v-462m10 314v-295m10 352v-379m10 415v-450m10 464v-461m10 417v-295m10 350v-420m10 558v-527m10 453v-418m10 296v-296m10 306v-373m10 373v-424m10 339v-290m10 290v-290m10 299v-314m10 397v-364m10 383v-414m10 421v-426m10 396v-396m10 358v-303m10 330v-336m10 379v-394m10 368v-398m10 437v-409m10 409v-435m10 471v-471m10 373v-284m10 225v-468m10 530v-380m10 473v-420m10 232v-354m10 519v-433m10 438v-518m10 603v-524m10 517v-520m10 311v-381m10 348v-311m10 431v-369m10 340v-329m10 419v-419m10 401v-399m10 438v-547m10 636v-636m10 394v-304m10 276v-279m10 282v-230m10 241v-287m10 317v-406m10 406v-425m10 592v-565m10 456v-368m10 374v-470m10 440v-380m10 380v-380m10 450v-388m10 420v-393m10 336v-424m10 424v-386m10 268v-225m10 245v-265m10 271v-271m10 318v-396m10 414v-414m10 414v-191m10 173v-382m10 352v-352m10 415v-310m10 340v-503m10 503v-482m10 467v-509m10 319v-378m10 604v-369m10 369v-406m10 326v-273m10 182v-376m10 493v-537m10 537v-420m10 372v-414m10 478v-488m10 472v-462m10 459v-431m10 335v-360m10 432v-331m10 376v-440m10 468v-475m10 443v-503m10 334v-334m10 477v-426m10 544v-423m10 357v-357m10 289v-372m10 337v-337m10 300v-159m10 235v-409m10 380v-392m10 347v-329m10 329v-257m10 275v-460m10 522v-522m10 522v-406m10 391v-406m10 484v-448m10 322v-367m10 374v-322m10 314v-314m10 340v-338m10 473v-496m10 496v-523m10 450v-450m10 369v-347m10 373v-373m10 425v-305m10 298v-341m10 305v-537m10 537v-394m10 347v-282m10 281v-281m10 368v-390m10 233v-267m10 300v-294m10 364v-353m10 353v-396m10 394v-361m10 414v-449m10 399v-343m10 337v-407m10 349v-219m10 237v-238m10 204v-315m10 295v-295m10 316v-284m10 340v-487m10 487v-330m10 472v-426m10 458v-458m10 467v-465m10 334v-396m10 362v-276m10 275v-277m10 256v-325m10 365v-314m10 396v-394m10 305v-236m10 222v-251m10 190v-235m10 244v-355m10 476v-420m10 432v-432m10 432v-565m10 436v-359m10 454v-454m10 518v-518m10 461v-443m10 382v-263m10 509v-509m10 239v-219m10 215v-368m10 427v-454m10 493v-398m10 421v-370m10 448v-407m10 285v-278m10 278v-397m10 483v-460m10 460v-460m10 326v-315m10 427v-398m10 296v-304m10 277v-309m10 327v-402m10 363v-363" stroke-width="13"/></g></g>
<g opacity="0.35" fill="none" stroke="#1f77b4" stroke-linejoin="bevel" clip-path="url(#cr0)"><g transform="scale(0.1)"><path d="M5720 1392v-867l10 137v730l10-45v-591l10 0v574l10-84v-570l10 0v460l10 292v-733l10 249v484l10-207v-450l10 5v365l10-21v-392l10-143v502l10 84v-586l10 30v500l10 20v-461l10-26v603l10 0v-603l10 127v498l10 0v-606l10 18v494l10 56v-499l10 37v485l10-83v-457l10 0v431l10-34v-459l10 38v567l10 161v-728l10 42v686l10-287v-427l10 0v445l10-104v-372l10-3v599l10 177v-776l10 180v596l10-262v-548l10 0v675l10 40v-492l10-98v590l10 11v-481l10-205v686l10-27v-659l10-43v702l10-160v-648l10 142v506l10 88v-594l10 101v493l10-198v-372l10-24v459l10 53v-400l10-94v410l10 94v-504l10 10v381l10 202v-583l10 47v536l10-28v-514l10 43v443l10-47v-475l10 5v495l10-64v-560l10 148v629l10-52v-570l10-31v656l10-211v-360l10-155v450l10 69v-539l10 0v488l10 150v-729l10 0v916l10 0v-736l10-51v561l10 0v-603l10 0v619l10-14v-386l10-15v379l10-103v-309l10 0v389l10 72v-547l10 61v488l10 0v-477l10-213v599l10 36v-519l10 24v544l10 0v-508l10-49v486l10-68v-418l10 88v395l10 0v-395l10-123v503l10 48v-551l10-23v574l10 143v-717l10 217v500l10-136v-383l10 0v526l10-134v-419l10-98v386l10 297v-683l10 77v606l10-153v-604l10 22v441l10 11v-452l10 166v296l10 98v-362l10-37v434l10 0v-505l10 0v502l10 0v-550l10 0v580l10-91v-344l10-86v532l10 0v-567l10 25v446l10 1v-443l10-82v510l10 209v-602l10-157v510l10 133v-501l10-23v669l10 0v-675l10-99v612l10-6v-606l10 149v397l10-26v-371l10-113v484l10 14v-498l10 120v371l10 95v-554l10 0v554l10 65v-721l10 0v721l10-82v-498l10-80v515l10 324v-839l10-56v895l10-103v-792l10 162v576l10 0v-579l10-87v500l10 3v-366l10-146v542l10 28v-570l10 131v511l10 0v-600l10 68v455l10 22v-477l10 80v319l10 34v-527l10 0v471l10 173v-603l10 0v663l10-10v-631l10 0v406l10 149v-502l10-64v486l10 53v-539l10 7v479l10 174v-711l10-117v688l10 0v-614l10 0v609l10-88v-392l10 0v439l10 4v-589l10 0v544l10 44v-384l10-70v458l10 68v-636l10 0v636l10 26v-431l10-159v574l10-289v-356l10 0v572l10 0v-501l10 0v436l10 302v-665l10-77v529l10 0v-529l10-44v545l10 0v-545l10 17v609l10-120v-489l10 84v407l10-1v-418l10-17v445l10 156v-624l10 84v540l10-140v-466l10 0v466l10 70v-586l10-12v468l10 0v-450l10 136v369l10 0v-433l10 0v559l10-63v-534l10 31v456l10-84v-403l10-126v623l10 0v-697l10 0v702l10-29v-410l10 0v410l10-97v-393l10 0v605l10 0v-533l10 0v440l10 70v-603l10 0v603l10-57v-681l10 0v651l10 0v-550l10 148v433l10-146v-303l10-108v459l10 166v-668l10 128v576l10 0v-609l10-13v427l10 109v-449l10-159v608l10-130v-578l10 176v336l10 284v-645l10-127v772l10-171v-353l10-108v512l10-96v-416l10 13v339l10 199v-472l10-31v503l10-102v-536l10 0v579l10-26v-453l10-61v511l10-118v-393l10 104v434l10 11v-446l10-23v510l10 0v-570l10 0v578l10-84v-464l10 0v568l10 0v-611l10-100v639l10 129v-746l10 0v746l10-68v-560l10 37v634l10 0v-522l10-96v546l10-35v-543l10 20v368l10 158v-618l10 0v618l10 53v-505l10 27v405l10-27v-415l10-160v575l10 57v-632l10 51v581l10-52v-662l10 79v639l10 0v-581l10 67v455l10 0v-452l10-145v492l10 0v-492l10-108v572l10 248v-820l10 58v586l10 24v-610l10 250v469l10 0v-671l10 0v879l10 0v-804l10-27v513l10 0v-513l10 80v569l10 0v-601l10-75v570l10 0v-570l10 124v422l10-31v-659l10 83v607l10 83v-690l10 186v542l10-142v-442l10-43v626l10-94v-532l10-52v621l10 0v-621l10 114v525l10-110v-402l10-82v681l10 0v-672l10-77v673l10 0v-430l10-105v444l10 0v-444l10-186v679l10 0v-629l10 25v527l10 0v-511l10 131v493l10 115v-696l10 0v696l10-29v-653l10 126v527l10-90v-644l10-34v628l10 0v-417l10-79v506l10 55v-551l10-29v551l10-72v-512l10 51v461l10-49v-284l10 28v231l10 0v-344l10-83v469l10 123v-592l10 72v615l10 0v-607l10 19v520l10 40v-640l10 24v616l10-10v-636l10 0v547l10 0v-464l10-125v468l10 83v-492l10 0v435l10 13v-704l10 0v718l10 0v-577l10-155v756l10 13v-769l10 92v733l10 35v-458l10-197v655l10-2v-653l10 219v485l10 0v-753l10 157v555l10 0v-484l10-102v458l10 0v-455l10-135v525l10 0v-525l10 78v600l10-36v-444l10-109v401l10 267v-668l10 62v606l10 69v-806l10 165v641l10-208v-433l10-175v608l10-42v-566l10 0v561l10 79v-608l10 0v608l10-70v-510l10 41v566l10 0v-442l10 37v323l10 68v-466l10-30v559l10 0v-633l10-104v688l10-159v-436l10 36v400l10 187v-587l10-131v718l10 87v-677l10-73v565l10-33v-532l10-30v657l10 0v-657l10 70v670l10-72v-598l10 39v451l10-25v-426l10 33v401l10 36v-463l10 10v453l10-21v-418l10 61v460l10-6v-501l10-59v579l10-124v-307l10-138v453l10 0v-511l10 22v573l10 34v-870l10 0v764l10 156v-587l10-200v537l10 68v-605l10 166v439l10-25v-496l10 0v576l10 92v-643l10 64v508l10 0v-456l10-64v559l10 75v-634l10 147v487l10-87v-566l10 145v436l10-61v-435l10-146v605l10-26v-579l10 59v579l10 11v-444l10 0v293l10 85v-609l10 124v499l10 0v-499l10 27v281l10 28v-323l10 0v323l10 129v-772l10 0v843l10 0v-643l10 0v833l10 0v-662l10-74v493l10-77v-416l10 55v452l10-88v-416l10 93v458l10 0v-596l10 42v759l10-344v-415l10-68v446l10 84v-530l10 37v493l10 54v-535l10-109v644l10-180v-312l10 57v395l10 25v-586l10 32v661l10 0v-616l10 0v540l10-114v-378l10 105v344l10 25v-430l10-179v609l10-41v-566l10 0v566l10-33v-418l10 33v413l10-84v-329l10-79v454l10 69v-523l10-12v535l10-25v-531l10-104v635l10 99v-734l10 184v496l10 48v-614l10 54v477l10 7v-601l10 60v625l10 0v-625l10 72v481l10-42v-400l10-52v418l10-4v-414l10-79v493l10 21v-428l10 79v349l10 50v-375l10-81v456l10-4v-509l10 0v620l10 0v-597l10 0v522l10-16v-486l10-54v561l10-33v-556l10 142v564l10-63v-499l10-4v368l10-4v-408l10 55v353l10 51v-499l10-24v523l10 37v-644l10 0v615l10 7v-449l10-87v657l10-173v-476l10 0v533l10 0v-431l10-111v542l10 0v-542l10 132v365l10 74v-614l10 0v614l10 4v-558l10-34v592l10-56v-368l10-239v607l10 64v-572" stroke-width="13" stroke-dasharray="83.2 20.8 13 20.8"/><path d="M5720 1094v-214m10 216v-318m10 552v-552m10 468v-488m10 318v-317m10 377v-441m10 710v-591m10 591v-450m10 212v-358m10 311v-311m10 268v-301m10 304v-322m10 396v-402m10 353v-353m10 363v-343m10 465v-563m10 511v-410m10 410v-404m10 362v-362m10 362v-407m10 443v-326m10 234v-268m10 302v-348m10 348v-391m10 344v-346m10 519v-538m10 552v-491m10 434v-434m10 331v-365m10 399v-377m10 244v-244m10 373v-435m10 577v-577m10 490v-305m10 305v-467m10 584v-557m10 569v-445m10 463v-446m10 330v-328m10 282v-382m10 542v-577m10 516v-440m10 272v-465m10 461v-418m10 502v-439m10 439v-354m10 177v-219m10 283v-293m10 356v-337m10 303v-404m10 388v-348m10 342v-293m10 466v-411m10 411v-430m10 409v-480m10 418v-262m10 269v-382m10 382v-356m10 322v-360m10 514v-515m10 418v-418m10 529v-477m10 297v-297m10 237v-280m10 317v-468m10 464v-363m10 356v-356m10 366v-318m10 335v-345m10 337v-449m10 504v-504m10 548v-380m10 380v-352m10 303v-333m10 249v-273m10 328v-327m10 410v-506m10 534v-465m10 315v-315m10 354v-374m10 396v-459m10 531v-435m10 403v-381m10 321v-321m10 269v-327m10 388v-369m10 369v-360m10 357v-370m10 327v-325m10 375v-348m10 377v-377m10 402v-316m10 316v-374m10 387v-387m10 370v-354m10 237v-361m10 431v-438m10 515v-422m10 211v-282m10 313v-296m10 310v-291m10 333v-246m10 347v-347m10 364v-378m10 378v-340m10 315v-297m10 297v-408m10 452v-452m10 376v-324m10 416v-464m10 344v-400m10 430v-391m10 407v-305m10 176v-313m10 428v-194m10 119v-318m10 422v-422m10 476v-491m10 437v-460m10 501v-538m10 532v-532m10 456v-330m10 278v-271m10 234v-320m10 268v-256m10 292v-254m10 362v-374m10 323v-323m10 373v-500m10 500v-500m10 512v-313m10 203v-367m10 481v-337m10 558v-618m10 336v-348m10 495v-436m10 436v-446m10 324v-376m10 413v-346m10 349v-422m10 422v-418m10 476v-409m10 390v-420m10 420v-389m10 403v-403m10 303v-250m10 272v-412m10 394v-392m10 421v-421m10 633v-586m10 389v-414m10 370v-370m10 495v-410m10 286v-338m10 398v-392m10 392v-405m10 357v-407m10 451v-476m10 533v-503m10 415v-415m10 386v-359m10 412v-412m10 351v-362m10 338v-279m10 346v-274m10 318v-370m10 386v-386m10 413v-550m10 559v-335m10 335v-506m10 215v-276m10 326v-326m10 474v-449m10 417v-417m10 443v-301m10 370v-370m10 370v-465m10 442v-471m10 471v-496m10 391v-391m10 425v-369m10 408v-389m10 328v-343m10 343v-343m10 414v-365m10 374v-337m10 183v-278m10 388v-403m10 403v-403m10 367v-312m10 321v-383m10 441v-340m10 340v-394m10 472v-478m10 431v-343m10 270v-312m10 291v-378m10 392v-370m10 400v-543m10 553v-369m10 369v-369m10 393v-361m10 259v-259m10 302v-268m10 351v-424m10 268v-268m10 361v-428m10 504v-504m10 453v-397m10 399v-531m10 531v-484m10 395v-267m10 245v-272m10 294v-310m10 351v-459m10 625v-508m10 415v-368m10 224v-336m10 438v-307m10 337v-419m10 332v-390m10 295v-278m10 462v-332m10 332v-504m10 458v-321m10 272v-257m10 255v-381m10 301v-280m10 480v-429m10 337v-336m10 347v-385m10 418v-447m10 444v-405m10 323v-415m10 367v-325m10 420v-366m10 337v-343m10 445v-341m10 364v-499m10 499v-499m10 422v-382m10 484v-506m10 506v-506m10 377v-461m10 464v-322m10 458v-560m10 447v-410m10 344v-238m10 424v-396m10 368v-472m10 391v-417m10 358v-344m10 426v-437m10 479v-408m10 408v-348m10 337v-344m10 344v-403m10 376v-384m10 301v-340m10 340v-340m10 328v-448m10 583v-479m10 460v-460m10 460v-385m10 375v-418m10 238v-351m10 424v-352m10 287v-275m10 336v-311m10 311v-357m10 447v-447m10 465v-297m10 297v-420m10 457v-532m10 469v-405m10 405v-493m10 493v-394m10 388v-388m10 424v-446m10 380v-412m10 471v-388m10 383v-383m10 332v-386m10 411v-394m10 425v-429m10 512v-470m10 301v-335m10 431v-473m10 473v-436m10 337v-337m10 351v-427m10 340v-269m10 346v-332m10 388v-385m10 378v-375m10 501v-501m10 501v-410m10 284v-382m10 382v-332m10 412v-455m10 455v-349m10 268v-501m10 509v-397m10 405v-316m10 316v-468m10 594v-594m10 594v-583m10 589v-464m10 273v-234m10 325v-392m10 392v-392m10 413v-466m10 476v-485m10 367v-367m10 363v-403m10 408v-262m10 262v-234m10 181v-158m10 162v-280m10 221v-251m10 404v-363m10 574v-574m10 543v-535m10 423v-410m10 410v-444m10 444v-467m10 305v-338m10 497v-452m10 452v-360m10 252v-380m10 387v-387m10 395v-405m10 392v-643m10 687v-687m10 680v-504m10 504v-409m10 454v-438m10 451v-327m10 383v-368m10 257v-447m10 446v-446m10 591v-422m10 233v-400m10 551v-497m10 497v-422m10 339v-436m10 375v-375m10 307v-327m10 329v-329m10 511v-466m10 445v-366m10 203v-297m10 456v-456m10 456v-403m10 401v-541m10 519v-376m10 376v-398m10 381v-382m10 294v-478m10 551v-496m10 543v-477m10 457v-518m10 438v-402m10 509v-470m10 470v-377m10 353v-282m10 262v-262m10 354v-472m10 486v-510m10 483v-568m10 419v-396m10 356v-335m10 505v-490m10 533v-533m10 466v-436m10 403v-459m10 427v-436m10 528v-528m10 508v-471m10 537v-595m10 538v-473m10 397v-354m10 334v-309m10 318v-351m10 303v-350m10 397v-383m10 329v-268m10 454v-366m10 217v-297m10 335v-390m10 390v-268m10 241v-365m10 372v-419m10 436v-423m10 524v-414m10 267v-444m10 444v-345m10 273v-257m10 323v-292m10 322v-358m10 311v-367m10 482v-444m10 471v-502m10 490v-476m10 428v-370m10 391v-356m10 351v-351m10 376v-326m10 366v-379m10 391v-391m10 323v-353m10 375v-471m10 453v-366m10 318v-414m10 537v-369m10 229v-272m10 272v-354m10 444v-489m10 306v-226m10 209v-252m10 274v-274m10 293v-285m10 361v-356m10 356v-281m10 396v-582m10 582v-574m10 535v-357m10 247v-253m10 262v-272m10 367v-426m10 319v-325m10 452v-361m10 361v-421m10 390v-390m10 292v-358m10 347v-347m10 347v-326m10 292v-352m10 412v-401m10 371v-396m10 357v-294m10 408v-333m10 371v-381m10 291v-291m10 437v-504m10 359v-359m10 388v-303m10 374v-340m10 340v-391m10 329v-345m10 359v-359m10 359v-357m10 233v-233m10 358v-385m10 297v-237m10 219v-267m10 273v-273m10 361v-442m10 442v-317m10 272v-339m10 475v-574m10 532v-405m10 350v-415m10 415v-392m10 313v-336m10 566v-521m10 521v-551m10 462v-451m10 394v-343m10 315v-368m10 361v-325m10 344v-395m10 404v-328m10 328v-295m10 328v-305m10 305v-381m10 396v-460m10 460v-460m10 518v-486m10 391v-358m10 404v-404m10 415v-390m10 390v-518m10 540v-424m10 424v-339m10 247v-299m10 234v-271m10 273v-232m10 316v-278m10 196v-359m10 507v-404m10 335v-365m10 368v-368m10 441v-517m10 437v-437m10 465v-359m10 314v-247m10 301v-455m10 455v-473m10 419v-261m10 318v-472m10 383v-391m10 511v-496m10 405v-405m10 405v-270m10 345v-461m10 502v-502" stroke-width="13"/></g></g>
<polyline points="39.56,344.92 40.25,344.89 40.94,344.84 41.63,344.8 42.32,344.74 43.01,344.68 43.7,344.61 44.39,344.53 45.08,344.44 45.77,344.34 46.46,344.23 47.14,344.1 47.83,343.96 48.52,343.81 49.21,343.64 49.9,343.46 50.59,343.25 51.28,343.03 51.97,342.79 52.66,342.52 53.35,342.23 54.04,341.92 54.73,341.57 55.42,341.2 56.11,340.81 56.8,340.37 57.49,339.88 58.17,339.35 58.86,338.79 59.55,338.19 60.24,337.53 60.93,336.84 61.62,336.08 62.31,335.28 63,334.43 63.69,333.51 64.38,332.53 65.07,331.48 65.76,330.36 66.45,329.19 67.14,327.93 67.83,326.61 68.52,325.21 69.2,323.74 69.89,322.2 70.58,320.59 71.27,318.88 71.96,317.11 72.65,315.24 73.34,313.3 74.03,311.3 74.72,309.21 75.41,307.05 76.1,304.83 76.79,302.53 77.48,300.16 78.17,297.73 78.86,295.23 79.55,292.69 80.23,290.1 80.92,287.48 81.61,284.79 82.3,282.1 82.99,279.38 83.68,276.63 84.37,273.87 85.06,271.09 85.75,268.29 86.44,265.51 87.13,262.76 87.82,260.03 88.51,257.35 89.2,254.67 89.89,252.08 90.58,249.53 91.26,247.05 91.95,244.62 92.64,242.25 93.33,240 94.02,237.87 94.71,235.8 95.4,233.85 96.09,232 96.78,230.26 97.47,228.68 98.16,227.22 98.85,225.87 99.54,224.71 100.23,223.69 100.92,222.82 101.61,222.12 102.29,221.52 102.98,221.11 103.67,220.87 104.36,220.78 105.05,220.89 105.74,221.15 106.43,221.59 107.12,222.2 107.81,222.99 108.5,223.95 109.19,225.03 109.88,226.27 110.57,227.67 111.26,229.25 111.95,230.96 112.64,232.81 113.32,234.74 114.01,236.81 114.7,238.99 115.39,241.29 116.08,243.65 116.77,246.11 117.46,248.66 118.15,251.28 118.84,253.96 119.53,256.69 120.22,259.46 120.91,262.24 121.6,265.03 122.29,267.84 122.98,270.66 123.67,273.46 124.35,276.23 125.04,279 125.73,281.73 126.42,284.43 127.11,287.08 127.8,289.7 128.49,292.27 129.18,294.78 129.87,297.23 130.56,299.61 131.25,301.91 131.94,304.18 132.63,306.37 133.32,308.48 134.01,310.52 134.7,312.5 135.38,314.39 136.07,316.22 136.76,317.96 137.45,319.64 138.14,321.24 138.83,322.77 139.52,324.22 140.21,325.62 140.9,326.95 141.59,328.2 142.28,329.39 142.97,330.51 143.66,331.58 144.35,332.59 145.04,333.54 145.73,334.43 146.41,335.26 147.1,336.06 147.79,336.8 148.48,337.49 149.17,338.14 149.86,338.74 150.55,339.3 151.24,339.82 151.93,340.3 152.62,340.75 153.31,341.16 154,341.55 154.69,341.91 155.38,342.23 156.07,342.53 156.76,342.82 157.45,343.08 158.13,343.32 158.82,343.53 159.51,343.73 160.2,343.91 160.89,344.08 161.58,344.22 162.27,344.34 162.96,344.46 163.65,344.58 164.34,344.68 165.03,344.77 165.72,344.85 166.41,344.93 167.1,344.99 167.79,345.05 168.48,345.1 169.16,345.15 169.85,345.19 170.54,345.2 171.23,345.2 171.92,345.2 172.61,345.2 173.3,345.2 173.99,345.2 174.68,345.2 175.37,345.2 176.06,345.2 176.75,345.2" fill="none" stroke="#1f77b4" stroke-width="1.95" stroke-linejoin="round" stroke-dasharray="1.95 3.22" clip-path="url(#cl1)"/>
<polyline points="42.13,344.83 42.77,344.77 43.41,344.71 44.04,344.64 44.68,344.56 45.32,344.48 45.95,344.39 46.59,344.29 47.23,344.18 47.86,344.06 48.5,343.92 49.14,343.77 49.77,343.6 50.41,343.42 51.05,343.22 51.68,343.01 52.32,342.77 52.96,342.52 53.59,342.24 54.23,341.93 54.87,341.59 55.5,341.23 56.14,340.85 56.78,340.43 57.41,339.97 58.05,339.49 58.69,338.96 59.32,338.39 59.96,337.78 60.6,337.13 61.23,336.43 61.87,335.68 62.51,334.89 63.14,334.05 63.78,333.15 64.42,332.21 65.05,331.21 65.69,330.15 66.33,329.03 66.96,327.86 67.6,326.62 68.24,325.33 68.87,323.96 69.51,322.54 70.15,321.04 70.78,319.49 71.42,317.86 72.06,316.18 72.69,314.43 73.33,312.61 73.97,310.71 74.6,308.76 75.24,306.74 75.88,304.67 76.51,302.51 77.15,300.32 77.79,298.06 78.42,295.75 79.06,293.38 79.7,290.98 80.33,288.53 80.97,286.05 81.61,283.54 82.24,281 82.88,278.43 83.52,275.83 84.15,273.21 84.79,270.6 85.43,267.98 86.06,265.4 86.7,262.8 87.34,260.22 87.97,257.65 88.61,255.13 89.25,252.66 89.88,250.25 90.52,247.86 91.16,245.57 91.79,243.37 92.43,241.22 93.07,239.13 93.7,237.13 94.34,235.23 94.98,233.43 95.61,231.74 96.25,230.14 96.89,228.65 97.52,227.26 98.16,226.03 98.8,224.89 99.43,223.89 100.07,223.03 100.71,222.3 101.34,221.71 101.98,221.26 102.62,220.99 103.25,220.78 103.89,220.76 104.53,220.91 105.16,221.17 105.8,221.58 106.44,222.12 107.07,222.82 107.71,223.65 108.35,224.59 108.98,225.69 109.62,226.93 110.26,228.31 110.89,229.76 111.53,231.37 112.17,233.04 112.8,234.84 113.44,236.75 114.08,238.77 114.71,240.87 115.35,243.07 115.99,245.32 116.62,247.63 117.26,249.99 117.9,252.42 118.53,254.89 119.17,257.39 119.81,259.91 120.44,262.47 121.08,265.07 121.72,267.65 122.35,270.23 122.99,272.78 123.63,275.36 124.26,277.93 124.9,280.47 125.54,282.97 126.17,285.45 126.81,287.91 127.45,290.33 128.08,292.71 128.72,295.03 129.36,297.3 129.99,299.52 130.63,301.69 131.27,303.82 131.9,305.88 132.54,307.87 133.18,309.82 133.81,311.69 134.45,313.51 135.09,315.27 135.72,316.97 136.36,318.6 137,320.17 137.63,321.68 138.27,323.11 138.91,324.5 139.54,325.81 140.18,327.06 140.82,328.25 141.45,329.38 142.09,330.47 142.73,331.49 143.36,332.46 144,333.39 144.64,334.25 145.27,335.06 145.91,335.83 146.55,336.55 147.18,337.23 147.82,337.86 148.46,338.45 149.09,339 149.73,339.52 150.37,340 151,340.46 151.64,340.88 152.28,341.26 152.91,341.61 153.55,341.93 154.19,342.23 154.82,342.52 155.46,342.78 156.1,343.03 156.73,343.25 157.37,343.45 158.01,343.63 158.64,343.79 159.28,343.95 159.92,344.1 160.55,344.23 161.19,344.35 161.83,344.46 162.46,344.56 163.1,344.64 163.74,344.72 164.37,344.79 165.01,344.86 165.65,344.91 166.28,344.96 166.92,345.01 167.56,345.05 168.19,345.08 168.83,345.1" fill="none" stroke="#1f77b4" stroke-width="1.95" stroke-linejoin="round" stroke-dasharray="12.48 3.12 1.95 3.12" clip-path="url(#cl1)"/>
<polyline points="44.11,344.4 44.73,344.32 45.35,344.23 45.96,344.14 46.58,344.04 47.2,343.92 47.81,343.8 48.43,343.68 49.05,343.54 49.67,343.38 50.28,343.22 50.9,343.04 51.52,342.84 52.13,342.62 52.75,342.39 53.37,342.15 53.98,341.87 54.6,341.57 55.22,341.26 55.83,340.92 56.45,340.55 57.07,340.15 57.68,339.71 58.3,339.24 58.92,338.74 59.53,338.21 60.15,337.63 60.77,337.03 61.38,336.38 62,335.69 62.62,334.95 63.23,334.17 63.85,333.34 64.47,332.46 65.08,331.53 65.7,330.55 66.32,329.52 66.93,328.43 67.55,327.28 68.17,326.07 68.78,324.81 69.4,323.5 70.02,322.11 70.64,320.67 71.25,319.17 71.87,317.6 72.49,315.97 73.1,314.28 73.72,312.52 74.34,310.72 74.95,308.85 75.57,306.92 76.19,304.93 76.8,302.89 77.42,300.79 78.04,298.64 78.65,296.45 79.27,294.21 79.89,291.93 80.5,289.55 81.12,287.17 81.74,284.73 82.35,282.27 82.97,279.78 83.59,277.27 84.2,274.73 84.82,272.17 85.44,269.61 86.05,267.04 86.67,264.48 87.29,261.92 87.9,259.38 88.52,256.85 89.14,254.32 89.75,251.85 90.37,249.41 90.99,247.03 91.6,244.69 92.22,242.42 92.84,240.23 93.46,238.07 94.07,235.99 94.69,234.01 95.31,232.11 95.92,230.35 96.54,228.64 97.16,227.06 97.77,225.61 98.39,224.28 99.01,223.05 99.62,221.97 100.24,221.03 100.86,220.23 101.47,219.55 102.09,219.04 102.71,218.69 103.32,218.45 103.94,218.39 104.56,218.43 105.17,218.66 105.79,219.01 106.41,219.48 107.02,220.14 107.64,220.94 108.26,221.87 108.87,222.9 109.49,224.12 110.11,225.44 110.72,226.93 111.34,228.49 111.96,230.17 112.57,231.95 113.19,233.83 113.81,235.82 114.43,237.88 115.04,240.04 115.66,242.25 116.28,244.52 116.89,246.84 117.51,249.24 118.13,251.68 118.74,254.17 119.36,256.67 119.98,259.19 120.59,261.73 121.21,264.26 121.83,266.82 122.44,269.37 123.06,271.91 123.68,274.47 124.29,276.99 124.91,279.49 125.53,282 126.14,284.44 126.76,286.86 127.38,289.26 127.99,291.6 128.61,293.9 129.23,296.15 129.84,298.37 130.46,300.55 131.08,302.65 131.69,304.69 132.31,306.69 132.93,308.63 133.54,310.52 134.16,312.36 134.78,314.12 135.39,315.81 136.01,317.45 136.63,319.04 137.25,320.55 137.86,322.01 138.48,323.4 139.1,324.74 139.71,326.01 140.33,327.23 140.95,328.41 141.56,329.52 142.18,330.57 142.8,331.57 143.41,332.52 144.03,333.41 144.65,334.25 145.26,335.04 145.88,335.79 146.5,336.5 147.11,337.16 147.73,337.78 148.35,338.36 148.96,338.89 149.58,339.4 150.2,339.88 150.81,340.32 151.43,340.73 152.05,341.1 152.66,341.44 153.28,341.78 153.9,342.07 154.51,342.34 155.13,342.6 155.75,342.85 156.36,343.06 156.98,343.25 157.6,343.44 158.21,343.6 158.83,343.76 159.45,343.91 160.07,344.03 160.68,344.14 161.3,344.24 161.92,344.33 162.53,344.42 163.15,344.49 163.77,344.57 164.38,344.63 165,344.7 165.62,344.76 166.23,344.81 166.85,344.85" fill="none" stroke="#1f77b4" stroke-width="1.95" stroke-linejoin="round" stroke-dasharray="7.21 3.12" clip-path="url(#cl1)"/>
<polyline points="41.14,344.76 41.77,344.71 42.39,344.66 43.01,344.59 43.63,344.52 44.25,344.44 44.88,344.36 45.5,344.27 46.12,344.16 46.74,344.06 47.36,343.94 47.98,343.82 48.61,343.67 49.23,343.52 49.85,343.36 50.47,343.19 51.09,342.99 51.71,342.78 52.34,342.56 52.96,342.31 53.58,342.05 54.2,341.76 54.82,341.45 55.44,341.11 56.07,340.76 56.69,340.37 57.31,339.95 57.93,339.51 58.55,339.02 59.18,338.51 59.8,337.95 60.42,337.35 61.04,336.71 61.66,336.04 62.28,335.3 62.91,334.52 63.53,333.71 64.15,332.83 64.77,331.91 65.39,330.93 66.01,329.9 66.64,328.81 67.26,327.67 67.88,326.47 68.5,325.2 69.12,323.88 69.74,322.49 70.37,321.03 70.99,319.52 71.61,317.94 72.23,316.31 72.85,314.61 73.48,312.86 74.1,311.03 74.72,309.16 75.34,307.23 75.96,305.23 76.58,303.17 77.21,301.06 77.83,298.9 78.45,296.68 79.07,294.43 79.69,292.12 80.31,289.77 80.94,287.36 81.56,284.93 82.18,282.46 82.8,279.97 83.42,277.47 84.04,274.93 84.67,272.36 85.29,269.82 85.91,267.26 86.53,264.67 87.15,262.13 87.78,259.6 88.4,257.09 89.02,254.57 89.64,252.12 90.26,249.73 90.88,247.36 91.51,245.02 92.13,242.74 92.75,240.54 93.37,238.42 93.99,236.36 94.61,234.39 95.24,232.55 95.86,230.77 96.48,229.12 97.1,227.57 97.72,226.15 98.34,224.84 98.97,223.72 99.59,222.67 100.21,221.78 100.83,221.03 101.45,220.38 102.07,219.9 102.7,219.57 103.32,219.34 103.94,219.29 104.56,219.41 105.18,219.63 105.81,220.02 106.43,220.53 107.05,221.2 107.67,221.99 108.29,222.92 108.91,223.98 109.54,225.19 110.16,226.5 110.78,227.93 111.4,229.49 112.02,231.1 112.64,232.84 113.27,234.68 113.89,236.6 114.51,238.59 115.13,240.7 115.75,242.85 116.37,245.07 117,247.37 117.62,249.66 118.24,252.04 118.86,254.47 119.48,256.96 120.11,259.44 120.73,261.94 121.35,264.49 121.97,267.04 122.59,269.6 123.21,272.18 123.84,274.73 124.46,277.27 125.08,279.78 125.7,282.29 126.32,284.77 126.94,287.21 127.57,289.64 128.19,291.99 128.81,294.32 129.43,296.61 130.05,298.86 130.67,301.05 131.3,303.19 131.92,305.27 132.54,307.28 133.16,309.24 133.78,311.15 134.41,313 135.03,314.76 135.65,316.46 136.27,318.11 136.89,319.7 137.51,321.23 138.14,322.68 138.76,324.07 139.38,325.39 140,326.65 140.62,327.86 141.24,329 141.87,330.11 142.49,331.14 143.11,332.12 143.73,333.04 144.35,333.92 144.97,334.75 145.6,335.52 146.22,336.25 146.84,336.94 147.46,337.59 148.08,338.19 148.7,338.75 149.33,339.26 149.95,339.74 150.57,340.19 151.19,340.61 151.81,341 152.44,341.36 153.06,341.68 153.68,341.99 154.3,342.28 154.92,342.52 155.54,342.76 156.17,342.99 156.79,343.18 157.41,343.37 158.03,343.55 158.65,343.71 159.27,343.84 159.9,343.96 160.52,344.07 161.14,344.18 161.76,344.27 162.38,344.36 163,344.45 163.63,344.52 164.25,344.59 164.87,344.64" fill="none" stroke="#1f77b4" stroke-width="1.95" stroke-linejoin="round" clip-path="url(#cl1)"/>
<polyline points="321.26,344.91 322.08,344.91 322.9,344.91 323.72,344.9 324.54,344.89 325.36,344.89 326.17,344.9 326.99,344.89 327.81,344.89 328.63,344.89 329.45,344.89 330.27,344.89 331.09,344.89 331.91,344.9 332.73,344.9 333.55,344.9 334.37,344.9 335.19,344.88 336.01,344.88 336.83,344.87 337.65,344.85 338.47,344.83 339.29,344.81 340.1,344.78 340.92,344.74 341.74,344.71 342.56,344.67 343.38,344.62 344.2,344.56 345.02,344.5 345.84,344.44 346.66,344.36 347.48,344.29 348.3,344.19 349.12,344.07 349.94,343.95 350.76,343.82 351.58,343.66 352.4,343.5 353.22,343.33 354.03,343.14 354.85,342.93 355.67,342.7 356.49,342.45 357.31,342.18 358.13,341.89 358.95,341.56 359.77,341.22 360.59,340.85 361.41,340.44 362.23,340 363.05,339.53 363.87,339.02 364.69,338.48 365.51,337.9 366.33,337.26 367.15,336.59 367.96,335.86 368.78,335.09 369.6,334.27 370.42,333.39 371.24,332.45 372.06,331.47 372.88,330.42 373.7,329.31 374.52,328.14 375.34,326.91 376.16,325.6 376.98,324.22 377.8,322.79 378.62,321.29 379.44,319.73 380.26,318.11 381.08,316.41 381.89,314.65 382.71,312.82 383.53,310.94 384.35,308.99 385.17,306.98 385.99,304.92 386.81,302.84 387.63,300.68 388.45,298.49 389.27,296.27 390.09,293.98 390.91,291.68 391.73,289.35 392.55,286.97 393.37,284.59 394.19,282.21 395.01,279.86 395.82,277.48 396.64,275.12 397.46,272.76 398.28,270.44 399.1,268.14 399.92,265.86 400.74,263.62 401.56,261.44 402.38,259.32 403.2,257.28 404.02,255.3 404.84,253.4 405.66,251.6 406.48,249.89 407.3,248.27 408.12,246.74 408.94,245.34 409.75,244.05 410.57,242.93 411.39,241.88 412.21,240.99 413.03,240.24 413.85,239.61 414.67,239.17 415.49,238.87 416.31,238.69 417.13,238.69 417.95,238.8 418.77,239.06 419.59,239.47 420.41,240.04 421.23,240.76 422.05,241.62 422.87,242.58 423.68,243.73 424.5,245 425.32,246.39 426.14,247.9 426.96,249.49 427.78,251.21 428.6,253.04 429.42,254.93 430.24,256.96 431.06,259.04 431.88,261.17 432.7,263.38 433.52,265.66 434.34,267.93 435.16,270.24 435.98,272.62 436.8,275.01 437.61,277.43 438.43,279.85 439.25,282.27 440.07,284.69 440.89,287.11 441.71,289.5 442.53,291.85 443.35,294.17 444.17,296.47 444.99,298.73 445.81,300.94 446.63,303.11 447.45,305.21 448.27,307.28 449.09,309.28 449.91,311.22 450.73,313.1 451.54,314.93 452.36,316.68 453.18,318.37 454,319.99 454.82,321.54 455.64,323.05 456.46,324.48 457.28,325.84 458.1,327.14 458.92,328.38 459.74,329.55 460.56,330.67 461.38,331.72 462.2,332.71 463.02,333.66 463.84,334.52 464.66,335.34 465.47,336.12 466.29,336.83 467.11,337.51 467.93,338.15 468.75,338.74 469.57,339.28 470.39,339.78 471.21,340.26 472.03,340.7 472.85,341.11 473.67,341.48 474.49,341.83 475.31,342.15 476.13,342.43 476.95,342.7 477.77,342.95 478.59,343.16 479.4,343.37 480.22,343.55 481.04,343.72 481.86,343.86 482.68,344 483.5,344.12 484.32,344.23 485.14,344.33 485.96,344.43 486.78,344.52 487.6,344.59 488.42,344.66 489.24,344.72 490.06,344.77 490.88,344.82 491.7,344.87 492.52,344.91 493.33,344.94 494.15,344.98 494.97,345 495.79,345.02 496.61,345.04 497.43,345.06 498.25,345.08 499.07,345.08 499.89,345.1 500.71,345.12" fill="none" stroke="#ff7f0e" stroke-width="1.95" stroke-linejoin="round" stroke-dasharray="1.95 3.22" clip-path="url(#cl1)"/>
<polyline points="329.18,345.2 329.92,345.2 330.66,345.2 331.4,345.2 332.14,345.2 332.88,345.2 333.62,345.2 334.37,345.2 335.11,345.2 335.85,345.2 336.59,345.19 337.33,345.17 338.07,345.14 338.81,345.12 339.55,345.07 340.3,345.04 341.04,345 341.78,344.95 342.52,344.91 343.26,344.86 344,344.81 344.74,344.74 345.48,344.67 346.22,344.59 346.97,344.5 347.71,344.41 348.45,344.32 349.19,344.21 349.93,344.1 350.67,343.97 351.41,343.83 352.15,343.68 352.9,343.52 353.64,343.34 354.38,343.15 355.12,342.95 355.86,342.72 356.6,342.48 357.34,342.22 358.08,341.95 358.83,341.65 359.57,341.33 360.31,340.99 361.05,340.63 361.79,340.23 362.53,339.79 363.27,339.33 364.01,338.84 364.76,338.32 365.5,337.77 366.24,337.17 366.98,336.56 367.72,335.9 368.46,335.2 369.2,334.46 369.94,333.68 370.69,332.85 371.43,331.98 372.17,331.06 372.91,330.1 373.65,329.08 374.39,328.03 375.13,326.9 375.87,325.74 376.61,324.52 377.36,323.25 378.1,321.93 378.84,320.55 379.58,319.11 380.32,317.62 381.06,316.09 381.8,314.5 382.54,312.85 383.29,311.15 384.03,309.4 384.77,307.6 385.51,305.76 386.25,303.87 386.99,301.94 387.73,299.96 388.47,297.95 389.22,295.91 389.96,293.84 390.7,291.74 391.44,289.59 392.18,287.46 392.92,285.29 393.66,283.09 394.4,280.92 395.15,278.73 395.89,276.52 396.63,274.32 397.37,272.16 398.11,270.03 398.85,267.92 399.59,265.82 400.33,263.77 401.08,261.74 401.82,259.78 402.56,257.89 403.3,256.03 404.04,254.27 404.78,252.55 405.52,250.89 406.26,249.33 407,247.85 407.75,246.48 408.49,245.19 409.23,244.01 409.97,242.94 410.71,241.98 411.45,241.16 412.19,240.42 412.93,239.75 413.68,239.23 414.42,238.85 415.16,238.6 415.9,238.48 416.64,238.45 417.38,238.53 418.12,238.78 418.86,239.14 419.61,239.62 420.35,240.25 421.09,240.95 421.83,241.78 422.57,242.71 423.31,243.78 424.05,244.97 424.79,246.24 425.54,247.6 426.28,249.05 427.02,250.6 427.76,252.24 428.5,253.93 429.24,255.72 429.98,257.56 430.72,259.46 431.47,261.45 432.21,263.49 432.95,265.57 433.69,267.65 434.43,269.77 435.17,271.92 435.91,274.12 436.65,276.29 437.39,278.49 438.14,280.69 438.88,282.87 439.62,285.06 440.36,287.22 441.1,289.37 441.84,291.53 442.58,293.65 443.32,295.73 444.07,297.78 444.81,299.81 445.55,301.8 446.29,303.75 447.03,305.66 447.77,307.52 448.51,309.34 449.25,311.11 450,312.82 450.74,314.49 451.48,316.09 452.22,317.66 452.96,319.17 453.7,320.63 454.44,322.02 455.18,323.38 455.93,324.68 456.67,325.93 457.41,327.12 458.15,328.27 458.89,329.34 459.63,330.38 460.37,331.35 461.11,332.29 461.86,333.19 462.6,334.02 463.34,334.83 464.08,335.58 464.82,336.28 465.56,336.95 466.3,337.58 467.04,338.16 467.78,338.7 468.53,339.21 469.27,339.69 470.01,340.13 470.75,340.55 471.49,340.93 472.23,341.28 472.97,341.61 473.71,341.91 474.46,342.19 475.2,342.44 475.94,342.68 476.68,342.9 477.42,343.1 478.16,343.28 478.9,343.45 479.64,343.6 480.39,343.74 481.13,343.87 481.87,343.98 482.61,344.09 483.35,344.19 484.09,344.27 484.83,344.36 485.57,344.43 486.32,344.51 487.06,344.57 487.8,344.64 488.54,344.69 489.28,344.74 490.02,344.79 490.76,344.83 491.5,344.87" fill="none" stroke="#ff7f0e" stroke-width="1.95" stroke-linejoin="round" stroke-dasharray="12.48 3.12 1.95 3.12" clip-path="url(#cl1)"/>
<polyline points="333.14,345.2 333.87,345.2 334.6,345.2 335.33,345.2 336.06,345.2 336.8,345.2 337.53,345.2 338.26,345.2 338.99,345.19 339.73,345.16 340.46,345.12 341.19,345.08 341.92,345.05 342.65,344.99 343.39,344.94 344.12,344.88 344.85,344.82 345.58,344.76 346.32,344.69 347.05,344.61 347.78,344.52 348.51,344.41 349.24,344.3 349.98,344.19 350.71,344.06 351.44,343.92 352.17,343.78 352.9,343.62 353.64,343.43 354.37,343.25 355.1,343.04 355.83,342.82 356.57,342.58 357.3,342.31 358.03,342.04 358.76,341.74 359.49,341.41 360.23,341.07 360.96,340.7 361.69,340.3 362.42,339.88 363.16,339.43 363.89,338.94 364.62,338.42 365.35,337.86 366.08,337.26 366.82,336.63 367.55,335.95 368.28,335.24 369.01,334.5 369.75,333.71 370.48,332.88 371.21,331.99 371.94,331.06 372.67,330.08 373.41,329.04 374.14,327.96 374.87,326.84 375.6,325.66 376.33,324.44 377.07,323.16 377.8,321.82 378.53,320.45 379.26,319.02 380,317.55 380.73,316.01 381.46,314.43 382.19,312.82 382.92,311.16 383.66,309.46 384.39,307.72 385.12,305.93 385.85,304.1 386.59,302.24 387.32,300.34 388.05,298.42 388.78,296.48 389.51,294.52 390.25,292.52 390.98,290.52 391.71,288.48 392.44,286.44 393.17,284.39 393.91,282.33 394.64,280.27 395.37,278.22 396.1,276.17 396.84,274.14 397.57,272.12 398.3,270.12 399.03,268.15 399.76,266.2 400.5,264.27 401.23,262.38 401.96,260.52 402.69,258.72 403.43,256.97 404.16,255.3 404.89,253.67 405.62,252.08 406.35,250.59 407.09,249.17 407.82,247.85 408.55,246.62 409.28,245.49 410.01,244.44 410.75,243.49 411.48,242.61 412.21,241.88 412.94,241.22 413.68,240.68 414.41,240.26 415.14,239.96 415.87,239.78 416.6,239.77 417.34,239.85 418.07,240.06 418.8,240.36 419.53,240.8 420.27,241.37 421,242.03 421.73,242.79 422.46,243.66 423.19,244.65 423.93,245.75 424.66,246.96 425.39,248.26 426.12,249.63 426.86,251.1 427.59,252.66 428.32,254.29 429.05,256.01 429.78,257.77 430.52,259.58 431.25,261.43 431.98,263.36 432.71,265.33 433.44,267.33 434.18,269.35 434.91,271.4 435.64,273.46 436.37,275.55 437.11,277.64 437.84,279.75 438.57,281.84 439.3,283.94 440.03,286.02 440.77,288.1 441.5,290.19 442.23,292.23 442.96,294.24 443.7,296.23 444.43,298.2 445.16,300.14 445.89,302.05 446.62,303.9 447.36,305.74 448.09,307.53 448.82,309.29 449.55,311 450.28,312.66 451.02,314.26 451.75,315.83 452.48,317.33 453.21,318.8 453.95,320.21 454.68,321.58 455.41,322.9 456.14,324.16 456.87,325.39 457.61,326.56 458.34,327.69 459.07,328.76 459.8,329.77 460.54,330.73 461.27,331.66 462,332.56 462.73,333.4 463.46,334.2 464.2,334.96 464.93,335.67 465.66,336.34 466.39,336.99 467.13,337.59 467.86,338.15 468.59,338.68 469.32,339.19 470.05,339.67 470.79,340.11 471.52,340.53 472.25,340.93 472.98,341.3 473.71,341.65 474.45,341.97 475.18,342.27 475.91,342.55 476.64,342.8 477.38,343.05 478.11,343.27 478.84,343.48 479.57,343.67 480.3,343.85 481.04,344 481.77,344.15 482.5,344.29 483.23,344.42 483.97,344.53 484.7,344.64 485.43,344.73 486.16,344.81 486.89,344.88 487.63,344.96 488.36,345.02 489.09,345.06 489.82,345.11 490.55,345.15 491.29,345.18 492.02,345.2 492.75,345.2 493.48,345.2" fill="none" stroke="#ff7f0e" stroke-width="1.95" stroke-linejoin="round" stroke-dasharray="7.21 3.12" clip-path="url(#cl1)"/>
<polyline points="325.22,345.2 326,345.2 326.79,345.2 327.58,345.2 328.36,345.2 329.15,345.2 329.94,345.2 330.72,345.2 331.51,345.2 332.3,345.2 333.08,345.19 333.87,345.16 334.65,345.13 335.44,345.09 336.23,345.05 337.01,345.02 337.8,344.99 338.59,344.95 339.37,344.92 340.16,344.89 340.95,344.85 341.73,344.81 342.52,344.78 343.31,344.73 344.09,344.69 344.88,344.63 345.66,344.59 346.45,344.52 347.24,344.45 348.02,344.37 348.81,344.28 349.6,344.19 350.38,344.08 351.17,343.97 351.96,343.85 352.74,343.71 353.53,343.55 354.32,343.37 355.1,343.18 355.89,342.96 356.67,342.73 357.46,342.48 358.25,342.2 359.03,341.89 359.82,341.56 360.61,341.21 361.39,340.82 362.18,340.39 362.97,339.92 363.75,339.42 364.54,338.9 365.32,338.32 366.11,337.72 366.9,337.07 367.68,336.37 368.47,335.63 369.26,334.84 370.04,333.99 370.83,333.1 371.62,332.15 372.4,331.16 373.19,330.1 373.98,329 374.76,327.83 375.55,326.61 376.33,325.33 377.12,323.98 377.91,322.59 378.69,321.11 379.48,319.6 380.27,318.02 381.05,316.39 381.84,314.68 382.63,312.92 383.41,311.1 384.2,309.22 384.99,307.29 385.77,305.31 386.56,303.3 387.34,301.24 388.13,299.11 388.92,296.97 389.7,294.77 390.49,292.55 391.28,290.3 392.06,288.01 392.85,285.74 393.64,283.44 394.42,281.13 395.21,278.79 396,276.46 396.78,274.16 397.57,271.87 398.35,269.61 399.14,267.39 399.93,265.19 400.71,263.02 401.5,260.93 402.29,258.84 403.07,256.85 403.86,254.92 404.65,253.09 405.43,251.33 406.22,249.66 407,248.08 407.79,246.6 408.58,245.23 409.36,243.95 410.15,242.82 410.94,241.8 411.72,240.9 412.51,240.1 413.3,239.46 414.08,238.97 414.87,238.58 415.66,238.33 416.44,238.18 417.23,238.21 418.01,238.41 418.8,238.7 419.59,239.13 420.37,239.72 421.16,240.45 421.95,241.31 422.73,242.28 423.52,243.39 424.31,244.6 425.09,245.91 425.88,247.36 426.67,248.93 427.45,250.58 428.24,252.31 429.02,254.14 429.81,256.05 430.6,258.05 431.38,260.08 432.17,262.2 432.96,264.37 433.74,266.59 434.53,268.82 435.32,271.11 436.1,273.4 436.89,275.73 437.68,278.07 438.46,280.43 439.25,282.79 440.03,285.14 440.82,287.47 441.61,289.77 442.39,292.06 443.18,294.29 443.97,296.51 444.75,298.71 445.54,300.86 446.33,302.95 447.11,305 447.9,307 448.68,308.97 449.47,310.86 450.26,312.7 451.04,314.48 451.83,316.19 452.62,317.85 453.4,319.44 454.19,320.97 454.98,322.45 455.76,323.86 456.55,325.21 457.34,326.49 458.12,327.72 458.91,328.88 459.69,329.98 460.48,331.03 461.27,332.03 462.05,332.96 462.84,333.85 463.63,334.69 464.41,335.47 465.2,336.22 465.99,336.93 466.77,337.57 467.56,338.19 468.35,338.76 469.13,339.29 469.92,339.8 470.7,340.26 471.49,340.69 472.28,341.09 473.06,341.46 473.85,341.8 474.64,342.12 475.42,342.4 476.21,342.66 477,342.89 477.78,343.11 478.57,343.3 479.36,343.49 480.14,343.65 480.93,343.79 481.71,343.93 482.5,344.04 483.29,344.14 484.07,344.23 484.86,344.31 485.65,344.38 486.43,344.44 487.22,344.5 488.01,344.55 488.79,344.6 489.58,344.63 490.37,344.66 491.15,344.68 491.94,344.71 492.72,344.74 493.51,344.76 494.3,344.78 495.08,344.8 495.87,344.82 496.66,344.84 497.44,344.87" fill="none" stroke="#ff7f0e" stroke-width="1.95" stroke-linejoin="round" clip-path="url(#cl1)"/>
<g opacity="0.35" fill="none" stroke="#1f77b4" stroke-linejoin="bevel" clip-path="url(#cr1)"><g transform="scale(0.1)"><path d="M5720 3305v-146l10 0v171l10-34v-156l10 24v109l10 13v-136l10 0v162l10 0v-191l10 0v155l10 9v-151l10-32v183l10-7v-123l10 4v154l10 13v-141l10-32v199l10 0v-187l10-61v190l10 37v-197l10-9v160l10 97v-257l10 11v164l10 0v-164l10 22v175l10 0v-182l10-48v179l10-29v-167l10 0v162l10 65v-225l10 0v199l10-5v-113l10-27v150l10 0v-150l10 3v156l10 13v-177l10 14v177l10 0v-172l10-53v170l10 12v-182l10-12v194l10 13v-159l10 26v159l10 0v-170l10-17v153l10 23v-178l10 23v155l10 9v-176l10 0v176l10-50v-149l10 41v144l10-5v-139l10-27v146l10-6v-129l10 0v136l10 14v-146l10 6v140l10-28v-96l10-82v181l10 19v-131l10-37v168l10 20v-188l10 3v185l10-25v-141l10 0v143l10-45v-84l10-17v172l10-16v-150l10-6v156l10-16v-140l10-46v186l10-3v-183l10 51v125l10 7v-129l10 0v143l10-6v-120l10-26v152l10 3v-190l10 58v148l10 0v-131l10-35v146l10 1v-195l10 0v195l10-19v-167l10 32v91l10 97v-176l10 14v162l10-25v-142l10 0v159l10 0v-203l10 0v213l10 0v-239l10 73v126l10 9v-129l10-28v157l10-10v-156l10 0v131l10 0v-115l10-41v213l10 5v-160l10-39v174l10 0v-151l10-57v216l10 1v-163l10 38v125l10-30v-131l10 0v119l10 25v-155l10-5v131l10 9v-140l10 22v121l10 6v-142l10 4v138l10 2v-183l10 0v183l10 38v-217l10 12v205l10-59v-134l10 41v117l10-6v-186l10 0v186l10 0v-127l10 16v144l10-20v-133l10 0v133l10 7v-165l10 39v126l10-8v-110l10-79v194l10-27v-167l10 19v134l10 27v-161l10 18v153l10-34v-119l10 33v128l10-41v-149l10-9v181l10-51v-104l10 14v148l10-5v-131l10-57v188l10 17v-160l10 0v142l10-24v-126l10-20v165l10-21v-172l10-3v192l10 59v-251l10 68v183l10 24v-203l10-10v139l10 35v-195l10 23v172l10 8v-240l10 0v202l10 10v-153l10 0v131l10 0v-148l10 40v138l10 0v-141l10-24v128l10 21v-149l10 9v140l10-14v-160l10 0v200l10-5v-139l10-56v195l10-63v-132l10 7v181l10 0v-187l10 6v152l10 15v-140l10-10v150l10-27v-123l10-18v141l10 11v-152l10 30v122l10 46v-163l10-16v181l10 0v-164l10-46v160l10-13v-147l10-55v200l10 8v-208l10 98v110l10 4v-87l10-125v246l10 0v-246l10 59v207l10 0v-207l10 21v146l10 3v-149l10 11v138l10-24v-95l10-5v101l10 63v-181l10 32v136l10 7v-174l10-30v188l10 9v-197l10 0v163l10 0v-163l10 21v147l10 0v-138l10 27v123l10 0v-150l10-21v180l10 0v-164l10 11v156l10 1v-195l10 0v195l10-22v-142l10 1v209l10 0v-179l10-64v195l10-21v-174l10 4v179l10 12v-191l10 17v174l10-33v-141l10 12v143l10-6v-177l10 58v126l10 0v-167l10 0v129l10 25v-149l10-13v166l10 50v-223l10 0v223l10-60v-110l10-15v164l10 10v-174l10 4v110l10 15v-123l10 13v130l10 0v-183l10-4v158l10 22v-180l10 38v130l10 5v-146l10 0v120l10 0v-126l10 0v176l10 52v-208l10-15v164l10-12v-152l10 4v144l10 7v-151l10 30v135l10 0v-135l10-11v123l10 22v-201l10 0v189l10 0v-151l10 0v159l10 0v-137l10 17v139l10 0v-190l10 23v121l10-9v-129l10 0v145l10 15v-145l10-31v176l10-26v-154l10 0v195l10 8v-148l10-19v167l10-44v-139l10-47v201l10 0v-133l10 0v133l10 4v-138l10-52v190l10-28v-187l10 0v228l10-18v-130l10-8v156l10-49v-121l10-17v143l10 61v-204l10 5v199l10-32v-167l10 24v143l10-2v-128l10-1v109l10 1v-110l10 9v147l10-56v-116l10 0v155l10-26v-157l10 0v153l10 14v-145l10-36v193l10 0v-193l10 26v175l10-26v-149l10-8v172l10-37v-135l10 37v108l10 13v-121l10 1v120l10-12v-108l10-6v125l10 0v-86l10-9v95l10 70v-230l10-5v235l10-91v-121l10-1v143l10 27v-170l10-1v171l10-25v-146l10 16v143l10 0v-151l10 12v114l10 3v-117l10-26v199l10 0v-202l10 17v172l10-35v-145l10 0v148l10 75v-184l10 7v109l10 0v-174l10 0v165l10-5v-142l10-72v257l10-17v-171l10-13v184l10-19v-165l10 9v201l10-28v-161l10 13v134l10-12v-176l10 63v150l10 0v-156l10 7v123l10-13v-114l10-63v274l10-72v-215l10 0v164l10 55v-145l10-12v157l10-9v-152l10-10v162l10-7v-155l10 3v136l10-6v-163l10 0v172l10 10v-153l10-39v192l10 39v-231l10 52v184l10 0v-184l10 2v150l10 15v-192l10 0v165l10 14v-177l10 0v159l10-10v-145l10 8v137l10 27v-115l10-31v146l10-14v-153l10 0v150l10 0v-106l10-1v90l10 31v-165l10 0v165l10 4v-165l10 17v164l10-15v-149l10 20v162l10 0v-158l10-29v134l10-10v-169l10 0v180l10 23v-166l10 0v145l10-34v-108l10 0v154l10 0v-147l10 15v143l10 16v-187l10 45v142l10-40v-107l10-26v132l10 91v-238l10 0v192l10-17v-171l10-4v173l10 0v-173l10-11v160l10-16v-113l10 0v130l10 0v-149l10 0v135l10 19v-136l10-49v185l10-9v-114l10 15v110l10 69v-169l10-75v244l10-40v-204l10 57v147l10-31v-153l10 0v155l10-15v-128l10 18v127l10 34v-195l10 11v184l10-17v-166l10 3v127l10-3v-150l10 0v178l10-17v-167l10 14v153l10 14v-139l10 22v117l10 30v-187l10 0v187l10-6v-225l10 0v172l10 14v-108l10-33v197l10-36v-161l10 25v136l10 21v-163l10-16v182l10 0v-178l10 21v150l10 0v-208l10 41v163l10 4v-167l10-25v174l10-13v-161l10 10v198l10 0v-198l10 25v158l10 0v-171l10 3v171l10-28v-143l10-21v137l10 49v-190l10 44v146l10 11v-182l10-17v174l10 24v-175l10-5v180l10-41v-124l10-7v129l10 7v-172l10 0v179l10-12v-145l10 0v172l10 0v-110l10-19v86l10 48v-176l10 0v176l10-6v-166l10 24v155l10 9v-198l10 0v145l10-14v-201l10 0v244l10-13v-148l10-20v196l10 0v-174l10 0v132l10 0v-177l10 0v171l10 0v-120l10-39v170l10 0v-170l10 40v117l10 4v-121l10-10v143l10 0v-96l10-81v170l10 42v-212l10 43v169l10-17v-157l10 1v137l10 5v-181l10 53v168l10-25v-163l10-5v160l10 0v-152l10-29v173l10 30v-203l10 37v158l10 0v-125l10-21v145l10 0v-145l10-38v168l10 0v-168l10 41v144l10 0v-213l10 50v130l10 94v-241l10-12v253l10-102v-91l10-32v147l10 28v-133l10-75v208l10-28v-180l10 5v175l10-21v-154l10-7v208l10 0v-208" stroke-width="13"/></g></g>
<g opacity="0.35" fill="none" stroke="#1f77b4" stroke-linejoin="bevel" clip-path="url(#cr1)"><g transform="scale(0.1)"><path d="M5720 3257v-128l10-32v173l10 28v-201l10 0v233l10 0v-224l10 0v185l10-2v-103l10 1v84l10 44v-164l10-10v128l10 22v-167l10 19v148l10-2v-169l10 0v181l10-11v-153l10 12v138l10-21v-115l10-9v131l10 0v-133l10 0v148l10 0v-184l10-29v206l10-6v-146l10-17v208l10 0v-208l10 18v164l10 50v-194l10-23v217l10-20v-203l10-93v251l10 28v-103l10-11v100l10 8v-108l10-28v149l10 0v-199l10 37v133l10-16v-156l10 0v174l10 0v-148l10-10v173l10 2v-191l10 2v159l10 32v-211l10 0v211l10-15v-148l10-23v188l10 0v-171l10 16v102l10 12v-124l10 0v168l10-17v-132l10-13v135l10 28v-208l10 0v208l10-52v-118l10 19v136l10 13v-149l10-10v189l10 0v-226l10 0v175l10 5v-143l10 33v110l10-1v-109l10-43v137l10 0v-137l10 5v158l10 0v-158l10 1v142l10-6v-136l10 17v110l10 10v-133l10 0v116l10-3v-93l10 0v117l10 0v-172l10 22v191l10 0v-161l10-9v157l10-47v-110l10 32v69l10-14v-91l10-24v189l10 0v-184l10-4v140l10 24v-154l10 0v154l10-2v-141l10-14v153l10 0v-177l10-7v177l10-26v-156l10 32v134l10 31v-167l10-7v167l10-12v-169l10 0v207l10-26v-176l10 0v225l10 0v-196l10-23v243l10-95v-148l10 0v155l10-14v-126l10-18v122l10 43v-165l10-32v197l10-9v-188l10 22v166l10 17v-159l10 4v139l10 0v-142l10 17v125l10 6v-148l10-2v150l10-21v-121l10 0v138l10 0v-147l10 0v147l10 12v-124l10-9v133l10-16v-131l10-7v135l10 56v-176l10-46v212l10 4v-216l10 24v221l10-65v-143l10 11v154l10 0v-154l10-17v117l10 38v-155l10-12v167l10 1v-146l10-28v202l10 0v-202l10 20v142l10 37v-207l10 0v195l10 0v-170l10 27v116l10 41v-149l10-26v175l10-17v-178l10-16v184l10-26v-158l10 40v123l10 44v-157l10-21v178l10-16v-197l10 58v89l10 1v-90l10-24v135l10 24v-149l10 12v137l10 28v-166l10 0v166l10-15v-218l10 0v162l10 50v-178l10 13v164l10 0v-219l10 80v193l10 0v-232l10 0v187l10 1v-208l10 0v218l10 0v-194l10 0v154l10 24v-164l10 23v141l10-9v-167l10-7v174l10-9v-181l10 0v166l10 43v-171l10 0v168l10 23v-234l10 42v192l10-26v-144l10-17v205l10 0v-225l10 0v183l10-14v-161l10 17v135l10 0v-148l10 0v177l10 16v-231l10 29v202l10-12v-136l10-32v137l10 14v-151l10-31v182l10-13v-108l10-5v138l10 0v-179l10 19v157l10 33v-202l10-12v214l10-19v-228l10 0v200l10-36v-140l10 52v89l10 0v-140l10 11v150l10 0v-150l10-8v133l10 32v-148l10-13v161l10 7v-168l10 39v164l10 0v-187l10 29v112l10-15v-115l10-7v122l10 61v-234l10 0v234l10-48v-159l10 0v192l10 0v-173l10-32v182l10 13v-195l10 51v118l10 10v-127l10-13v152l10 0v-152l10-35v172l10 3v-175l10-15v196l10 27v-206l10 46v160l10-38v-173l10 0v185l10 0v-217l10 0v202l10 0v-186l10 75v74l10 34v-125l10 22v111l10 75v-209l10-22v171l10 12v-183l10-1v184l10 19v-186l10-17v147l10 0v-222l10 76v163l10 9v-166l10-5v171l10 25v-196l10-51v247l10-29v-218l10 20v173l10 0v-190l10 23v176l10 0v-146l10 33v102l10-2v-155l10 0v151l10 12v-136l10-24v193l10-36v-157l10 17v170l10 2v-141l10-21v141l10-1v-140l10 13v147l10 33v-233l10 0v165l10 16v-123l10-12v199l10 0v-227l10 0v200l10-56v-139l10 0v156l10-15v-139l10 6v133l10 15v-133l10 11v122l10-4v-111l10-36v166l10 9v-165l10 11v135l10 0v-132l10-2v109l10 35v-159l10-23v182l10-19v-172l10 29v194l10-56v-108l10-42v139l10 0v-134l10 0v156l10 12v-171l10 0v171l10-8v-177l10 9v146l10 24v-170l10 46v124l10 26v-160l10-22v182l10-12v-164l10 0v151l10 0v-140l10-26v143l10 36v-161l10 0v161l10 42v-212l10-18v230l10-73v-145l10 57v129l10-33v-147l10 22v82l10 41v-136l10-19v186l10 0v-178l10-1v166l10 0v-172l10 24v137l10-23v-125l10 0v181l10-10v-185l10 0v167l10-10v-182l10 0v180l10-30v-149l10 10v162l10 39v-201l10 24v141l10-9v-160l10 13v156l10 25v-181l10-27v191l10 0v-147l10 0v156l10 0v-174l10 0v231l10 0v-196l10-45v147l10-1v-87l10-2v102l10 26v-152l10-8v160l10 36v-185l10 9v100l10 61v-249l10 0v236l10-22v-159l10 31v128l10 20v-179l10-43v176l10 54v-230l10 39v178l10 0v-146l10-36v137l10 18v-142l10 0v168l10 11v-183l10 34v149l10 26v-175l10-14v157l10 0v-168l10-34v191l10 0v-191l10 61v170l10-58v-160l10 0v191l10-35v-129l10 10v131l10 0v-224l10 0v223l10 63v-188l10-21v209l10-24v-174l10 5v112l10 8v-161l10-16v199l10 0v-199l10 14v168l10 30v-183l10 0v133l10 24v-113l10 4v109l10-8v-128l10-35v148l10 80v-238l10 0v215l10-24v-134l10-10v144l10 5v-149l10-22v156l10 13v-169l10 22v147l10-43v-131l10 0v164l10 28v-204l10 0v149l10 18v-153l10 21v96l10 69v-165l10 19v146l10-12v-189l10 0v189l10-3v-120l10-8v90l10 21v-122l10-62v191l10 53v-244l10 22v222l10-42v-195l10 0v168l10 0v-137l10 0v142l10 22v-158l10-22v188l10 0v-161l10 0v130l10-2v-124l10 11v120l10 40v-179l10 25v116l10 21v-137l10 15v122l10 3v-168l10-13v167l10 0v-150l10 1v146l10 15v-185l10-19v162l10 27v-189l10 41v148l10-22v-167l10 60v132l10 26v-199l10 24v156l10-6v-162l10-8v122l10 107v-229l10 45v116l10 1v-116l10-26v178l10 0v-190l10 0v155l10 0v-187l10 21v160l10-12v-137l10 5v209l10 0v-219l10 0v192l10 0v-168l10-20v201l10 0v-201l10-10v153l10 0v-185l10 81v150l10 0v-169l10 15v99l10 7v-131l10 0v162l10 0v-182l10-53v234l10 0v-218l10 0v231l10-16v-146l10-18v164l10 30v-199l10 0v199l10-19v-167l10-17v184l10-6v-178l10 10v168l10-42v-126l10 11v135l10 55v-190l10-17v207l10-61v-150l10 0v151l10 26v-164l10 0v137l10 0v-95l10-17v152l10 0v-168l10 0v159l10-23v-136l10 2v143l10 10v-170l10 0v167l10 13v-197l10 0v190l10 0v-169l10-7v153l10 61v-214l10 29v185l10-9v-266l10 85v181l10 2v-183l10-8v184l10 0v-182l10-10v158l10 25v-185l10 11v168l10-1v-195l10-9v204l10-5v-197l10 0v157l10 19v-142l10 54v95l10-25v-70" stroke-width="13" stroke-dasharray="13 21.45"/><path d="M5720 3250v-69m10 85v-121m10 126v-126m10 153v-136m10 129v-132m10 102v-102m10 106v-69m10 69v-69m10 71v-80m10 57v-71m10 78v-108m10 118v-82m10 58v-56m10 107v-90m10 84v-132m10 87v-63m10 63v-56m10 62v-86m10 86v-46m10 45v-42m10 56v-57m10 71v-143m10 118v-96m10 126v-85m10 104v-137m10 111v-111m10 85v-69m10 104v-98m10 98v-121m10 105v-83m10 85v-46m10 45v-59m10 81v-81m10 95v-79m10 79v-133m10 108v-107m10 76v-82m10 88v-74m10 72v-72m10 68v-83m10 92v-92m10 70v-72m10 117v-133m10 148v-148m10 130v-105m10 105v-111m10 131v-77m10 36v-93m10 96v-99m10 134v-101m10 96v-78m10 44v-78m10 77v-49m10 61v-66m10 63v-63m10 69v-63m10 90v-122m10 106v-106m10 85v-87m10 94v-100m10 100v-102m10 133v-100m10 79v-82m10 60v-63m10 70v-82m10 95v-79m10 61v-60m10 55v-74m10 95v-90m10 85v-93m10 87v-91m10 85v-69m10 77v-69m10 74v-51m10 32v-94m10 122v-80m10 121v-131m10 88v-101m10 78v-75m10 75v-49m10 45v-52m10 52v-73m10 68v-68m10 67v-58m10 102v-110m10 110v-118m10 91v-92m10 92v-63m10 44v-70m10 82v-111m10 99v-99m10 103v-69m10 100v-109m10 95v-101m10 95v-106m10 138v-136m10 130v-110m10 97v-110m10 91v-65m10 86v-98m10 73v-101m10 126v-106m10 81v-87m10 72v-60m10 62v-50m10 74v-101m10 90v-90m10 98v-76m10 102v-96m10 86v-83m10 52v-69m10 86v-74m10 74v-57m10 42v-73m10 78v-66m10 89v-97m10 101v-101m10 83v-83m10 114v-84m10 89v-83m10 69v-110m10 75v-83m10 120v-102m10 110v-110m10 109v-101m10 84v-90m10 81v-81m10 114v-108m10 80v-69m10 47v-61m10 61v-61m10 51v-65m10 112v-109m10 109v-94m10 69v-70m10 61v-67m10 112v-145m10 135v-138m10 138v-111m10 101v-84m10 66v-73m10 125v-127m10 119v-111m10 103v-102m10 66v-66m10 74v-77m10 126v-116m10 113v-141m10 102v-109m10 86v-54m10 54v-38m10 58v-98m10 94v-87m10 86v-67m10 67v-79m10 113v-100m10 67v-108m10 85v-64m10 74v-59m10 68v-47m10 53v-71m10 78v-69m10 65v-115m10 135v-135m10 126v-93m10 108v-82m10 79v-95m10 65v-104m10 103v-64m10 86v-82m10 85v-106m10 106v-123m10 120v-145m10 112v-56m10 120v-109m10 80v-105m10 93v-119m10 154v-123m10 107v-94m10 81v-73m10 50v-83m10 60v-60m10 64v-35m10 70v-92m10 75v-91m10 96v-86m10 112v-102m10 77v-65m10 101v-86m10 86v-78m10 51v-81m10 86v-86m10 65v-59m10 75v-75m10 120v-126m10 126v-116m10 67v-95m10 95v-97m10 72v-92m10 118v-101m10 73v-74m10 81v-46m10 59v-89m10 100v-103m10 104v-88m10 75v-75m10 75v-84m10 105v-108m10 85v-85m10 91v-47m10 76v-104m10 104v-88m10 68v-79m10 73v-86m10 108v-101m10 94v-90m10 78v-113m10 124v-86m10 69v-86m10 93v-104m10 129v-118m10 94v-76m10 89v-64m10 59v-83m10 73v-78m10 78v-88m10 83v-77m10 77v-96m10 109v-83m10 83v-77m10 64v-112m10 129v-91m10 118v-116m10 56v-56m10 80v-81m10 56v-55m10 67v-67m10 73v-70m10 115v-122m10 121v-137m10 92v-90m10 99v-100m10 85v-84m10 84v-85m10 79v-106m10 124v-87m10 109v-117m10 117v-113m10 100v-98m10 115v-104m10 90v-127m10 128v-121m10 123v-123m10 94v-73m10 82v-72m10 82v-82m10 82v-80m10 70v-108m10 110v-78m10 101v-104m10 49v-85m10 125v-103m10 109v-84m10 68v-97m10 85v-85m10 89v-70m10 84v-96m10 103v-76m10 64v-70m10 71v-65m10 108v-123m10 67v-69m10 80v-94m10 101v-88m10 93v-93m10 93v-105m10 105v-100m10 118v-111m10 67v-61m10 75v-102m10 144v-137m10 108v-91m10 86v-73m10 72v-86m10 115v-127m10 136v-125m10 56v-96m10 145v-101m10 79v-72m10 62v-87m10 94v-94m10 94v-66m10 64v-86m10 114v-114m10 93v-87m10 79v-75m10 74v-74m10 99v-92m10 92v-100m10 125v-147m10 136v-110m10 110v-116m10 89v-82m10 82v-79m10 87v-89m10 98v-112m10 75v-79m10 92v-87m10 92v-103m10 122v-72m10 24v-62m10 62v-62m10 75v-82m10 123v-136m10 115v-85m10 94v-103m10 104v-103m10 86v-70m10 67v-91m10 145v-118m10 107v-135m10 112v-123m10 123v-113m10 94v-99m10 95v-64m10 55v-73m10 109v-141m10 129v-108m10 84v-77m10 74v-105m10 126v-86m10 86v-86m10 86v-87m10 52v-65m10 108v-107m10 108v-79m10 95v-92m10 53v-66m10 59v-59m10 85v-80m10 85v-98m10 72v-92m10 93v-86m10 88v-68m10 99v-99m10 99v-120m10 91v-62m10 44v-68m10 137v-137m10 75v-59m10 109v-160m10 160v-134m10 98v-85m10 86v-86m10 81v-78m10 104v-104m10 129v-128m10 100v-73m10 71v-94m10 94v-112m10 114v-115m10 110v-130m10 104v-115m10 145v-82m10 69v-109m10 115v-93m10 85v-73m10 89v-82m10 48v-85m10 102v-104m10 107v-96m10 101v-105m10 109v-109m10 103v-98m10 90v-102m10 111v-128m10 133v-133m10 130v-107m10 98v-98m10 95v-82m10 87v-51m10 39v-63m10 68v-68m10 71v-86m10 72v-86m10 80v-75m10 104v-93m10 92v-74m10 88v-109m10 77v-85m10 100v-90m10 90v-66m10 49v-49m10 72v-98m10 115v-108m10 68v-102m10 100v-73m10 57v-56m10 96v-93m10 114v-74m10 74v-131m10 131v-110m10 80v-68m10 66v-66m10 77v-97m10 86v-70m10 102v-157m10 135v-91m10 80v-80m10 71v-61m10 81v-82m10 85v-97m10 105v-71m10 76v-96m10 92v-104m10 91v-93m10 87v-87m10 57v-58m10 110v-98m10 89v-89m10 94v-90m10 79v-69m10 61v-68m10 71v-87m10 92v-92m10 77v-69m10 63v-92m10 88v-88m10 127v-123m10 106v-94m10 91v-93m10 116v-88m10 98v-105m10 97v-109m10 75v-68m10 48v-81m10 113v-94m10 94v-87m10 70v-66m10 93v-102m10 88v-71m10 89v-87m10 91v-84m10 72v-98m10 77v-111m10 135v-87m10 93v-110m10 93v-99m10 111v-102m10 102v-100m10 97v-97m10 87v-87m10 95v-98m10 108v-88m10 75v-76m10 64v-63m10 40v-57m10 63v-77m10 130v-141m10 142v-109m10 103v-125m10 95v-109m10 121v-85m10 85v-113m10 104v-87m10 110v-106m10 122v-140m10 140v-121m10 85v-96m10 98v-73m10 52v-52m10 62v-64m10 101v-122m10 122v-123m10 87v-99m10 105v-105m10 116v-108m10 90v-64m10 75v-71m10 97v-97m10 116v-144m10 104v-104m10 77v-56m10 87v-87m10 109v-85m10 64v-84m10 84v-109m10 125v-145m10 127v-99m10 99v-99m10 80v-92m10 106v-85m10 59v-53m10 114v-109m10 109v-96m10 50v-88m10 79v-66m10 72v-73m10 121v-152m10 120v-83m10 79v-83m10 90v-112m10 91v-88m10 88v-80m10 89v-74m10 81v-51m10 51v-39" stroke-width="13"/></g></g>
<g opacity="0.35" fill="none" stroke="#1f77b4" stroke-linejoin="bevel" clip-path="url(#cr1)"><g transform="scale(0.1)"><path d="M5720 3284v-102l10-50v178l10 0v-178l10-34v182l10 30v-212l10 91v105l10-29v-127l10 46v102l10-11v-127l10 0v127l10 54v-167l10 3v116l10 0v-108l10 10v89l10-24v-116l10 0v147l10-7v-108l10 0v148l10-16v-153l10-43v196l10-18v-178l10 67v129l10 27v-263l10 121v142l10-32v-160l10 23v156l10 0v-183l10 0v142l10-11v-166l10 46v140l10 29v-172l10-21v201l10 0v-175l10-6v140l10 78v-219l10-3v146l10 18v-164l10 27v174l10-56v-118l10-22v158l10 2v-159l10 0v123l10 10v-141l10 0v141l10-4v-89l10 0v160l10 0v-245l10 0v217l10 0v-156l10-23v173l10-9v-164l10-67v225l10 0v-225l10 33v208l10 4v-183l10 7v176l10-33v-103l10-45v137l10 16v-143l10-15v173l10 47v-220l10 33v162l10-66v-138l10-1v162l10 0v-132l10 0v121l10 45v-154l10 17v173l10 4v-199l10 0v199l10-51v-151l10 29v123l10 0v-156l10 13v122l10 10v-178l10 64v129l10-22v-129l10 2v113l10 2v-140l10 0v201l10 0v-231l10 0v185l10 55v-160l10-51v227l10 0v-166l10-38v173l10 0v-173l10 8v130l10-24v-169l10 0v183l10-1v-111l10-53v189l10 2v-191l10 43v148l10-8v-136l10 0v136l10-21v-114l10 15v83l10 6v-119l10 0v147l10 60v-203l10-20v223l10-38v-173l10-6v179l10-27v-152l10-41v192l10-16v-176l10 57v186l10 0v-199l10-15v156l10 23v-196l10 0v168l10 0v-134l10 10v110l10 32v-154l10-35v169l10 0v-176l10 0v175l10 22v-183l10-20v221l10 0v-131l10-53v169l10 0v-169l10 19v124l10 11v-122l10 6v180l10 0v-168l10-28v112l10 1v-153l10 0v153l10 37v-151l10-15v166l10-36v-87l10-22v123l10 31v-169l10 7v145l10 13v-184l10 0v192l10 0v-178l10-2v160l10 27v-208l10 0v146l10 0v-138l10 27v104l10 4v-135l10 17v156l10 17v-240l10 0v240l10-20v-131l10 0v140l10 33v-204l10-17v221l10-36v-105l10-58v179l10 0v-170l10-14v178l10-10v-198l10 8v190l10 53v-228l10 7v150l10 0v-155l10 0v232l10 0v-209l10 0v175l10 0v-136l10-30v171l10 0v-160l10-20v161l10 24v-185l10 24v161l10-20v-210l10 0v210l10-22v-133l10-6v139l10 39v-178l10 2v151l10-37v-114l10-54v177l10 8v-185l10 25v160l10 26v-169l10 20v106l10 7v-155l10 0v162l10 0v-137l10 15v104l10 13v-134l10 0v152l10 0v-160l10 44v163l10-75v-113l10-5v129l10-32v-127l10 20v171l10-1v-154l10 9v106l10 4v-117l10-10v139l10 0v-127l10 0v138l10 18v-189l10 0v189l10 54v-239l10 29v210l10-45v-165l10-67v232l10-66v-166l10 22v176l10 12v-159l10-24v195l10 0v-195l10 7v161l10 4v-122l10-44v169l10 0v-157l10 0v110l10 11v-135l10-41v198l10-2v-196l10 78v118l10 2v-120l10-11v101l10 44v-145l10-29v210l10 0v-189l10-9v118l10 39v-141l10 9v132l10-17v-173l10 0v170l10 45v-153l10-18v171l10-27v-144l10 22v183l10 21v-226l10 0v122l10 17v-174l10 0v209l10 0v-193l10 46v122l10 54v-214l10-14v185l10-34v-151l10 45v100l10 3v-125l10 0v148l10 12v-165l10 0v132l10-3v-147l10 29v210l10-73v-193l10 61v132l10 29v-158l10 4v118l10 6v-116l10 0v116l10-17v-134l10 10v154l10-1v-154l10 0v154l10-6v-138l10 0v167l10 0v-160l10-36v204l10-54v-163l10 0v170l10 0v-112l10 0v122l10-18v-121l10-11v155l10 14v-170l10-12v182l10 1v-168l10-66v234l10 1v-235l10 91v144l10 1v-125l10-10v135l10 10v-152l10-30v191l10-32v-159l10 13v142l10 0v-142l10-1v137l10 91v-258l10 22v236l10-44v-192l10 0v156l10 5v-187l10 0v187l10 3v-164l10-26v155l10 10v-165l10 22v143l10-34v-105l10-8v141l10 25v-198l10 64v134l10-11v-123l10-30v153l10 5v-172l10 0v172l10 2v-180l10 35v177l10 0v-248l10 33v167l10-26v-102l10 3v136l10 0v-192l10 0v181l10 21v-177l10 5v239l10 0v-239l10-5v193l10 0v-158l10 9v120l10 0v-126l10-16v147l10 15v-162l10-8v176l10 54v-224l10-31v255l10-86v-178l10 0v197l10 1v-197l10 0v210l10 0v-162l10 0v98l10 64v-166l10-41v207l10-74v-90l10 0v161l10 0v-157l10 10v144l10-41v-121l10 31v137l10-34v-153l10 0v168l10 1v-140l10-2v142l10 10v-148l10-2v150l10-57v-113l10-5v188l10 0v-163l10 1v106l10 14v-133l10 18v126l10 19v-145l10-3v148l10-8v-135l10-34v169l10-2v-167l10 19v148l10-13v-150l10 12v199l10-45v-154l10-6v145l10-2v-133l10 14v111l10 20v-146l10-16v162l10 5v-153l10-23v176l10-18v-160l10 0v161l10 0v-148l10 26v120l10 55v-197l10 0v201l10 0v-196l10 18v133l10-7v-128l10-20v148l10 30v-178l10 14v164l10-53v-111l10 1v128l10 6v-161l10 23v138l10 25v-189l10 0v210l10 0v-200l10 0v158l10 0v-133l10 20v180l10 0v-169l10-56v178l10-38v-153l10 0v173l10-22v-132l10 9v198l10 0v-237l10 0v217l10-52v-115l10 39v138l10 0v-164l10-7v147l10 0v-198l10 0v209l10 0v-211l10 0v176l10 2v-141l10 13v105l10 19v-100l10-58v187l10 0v-166l10 0v160l10 0v-188l10-36v175l10 27v-202l10 11v197l10 31v-228l10-7v235l10-33v-202l10 22v243l10 0v-203l10-32v126l10 34v-163l10 10v156l10 33v-168l10 0v144l10 59v-210l10 0v180l10 0v-185l10 0v210l10 0v-208l10 27v103l10 70v-198l10-9v207l10-25v-182l10 28v121l10-12v-130l10-18v148l10 14v-202l10 0v210l10 14v-172l10 0v172l10-32v-140l10 5v153l10 45v-220l10 0v220l10-50v-166l10 0v140l10 68v-166l10 0v107l10 43v-141l10-8v149l10-35v-114l10-11v129l10-1v-125l10 2v159l10 0v-197l10 0v155l10-17v-87l10-34v141l10 40v-181l10 21v160l10-41v-108l10-42v196l10 0v-181l10 0v170l10-17v-137l10 31v106l10-20v-91l10-51v138l10 34v-172l10-11v201l10 0v-138l10-36v143l10-19v-134l10 17v150l10 0v-154l10-15v169l10 0v-169l10-30v154l10 92v-218l10 0v218l10-66v-142l10 33v109l10 1v-178l10 0v178l10 80v-233l10 33v174l10-10v-203l10 15v158l10-4v-165l10 0v132l10 16v-113l10 0v134l10 50v-204l10-23v227l10-54v-165l10 29v136l10 29v-215l10 38v177l10-65v-123l10-28v186l10 0v-186l10 61v152l10 0v-203l10 0v164l10 6v-141l10-16v157l10 20v-177l10 37v120l10-16v-69" stroke-width="13" stroke-dasharray="48.1 20.8"/><path d="M5720 3273v-80m10 87v-126m10 148v-148m10 125v-127m10 142v-142m10 113v-74m10 60v-67m10 80v-72m10 83v-85m10 85v-113m10 120v-117m10 107v-99m10 99v-94m10 70v-63m10 52v-93m10 108v-108m10 120v-97m10 105v-91m10 78v-96m10 100v-121m10 121v-92m10 123v-126m10 147v-148m10 124v-106m10 89v-113m10 141v-131m10 107v-124m10 110v-89m10 69v-106m10 123v-105m10 122v-108m10 133v-163m10 163v-133m10 97v-80m10 61v-74m10 92v-133m10 145v-125m10 155v-138m10 104v-100m10 97v-117m10 139v-152m10 107v-107m10 118v-108m10 97v-97m10 96v-71m10 89v-85m10 114v-146m10 146v-146m10 132v-121m10 130v-141m10 141v-149m10 141v-141m10 121v-166m10 187v-158m10 179v-150m10 123v-105m10 96v-80m10 62v-95m10 121v-121m10 125v-156m10 193v-193m10 156v-125m10 96v-104m10 125v-159m10 159v-105m10 91v-104m10 110v-80m10 124v-126m10 110v-120m10 115v-124m10 123v-123m10 134v-119m10 101v-121m10 102v-102m10 124v-139m10 144v-114m10 93v-113m10 100v-79m10 76v-87m10 108v-98m10 153v-221m10 166v-166m10 178v-100m10 155v-170m10 99v-77m10 101v-88m10 104v-143m10 100v-95m10 81v-89m10 84v-84m10 110v-102m10 108v-117m10 142v-180m10 152v-99m10 111v-111m10 111v-125m10 103v-78m10 59v-60m10 74v-96m10 99v-107m10 138v-130m10 152v-152m10 152v-155m10 123v-141m10 145v-128m10 124v-154m10 137v-137m10 181v-144m10 144v-144m10 113v-140m10 130v-155m10 128v-101m10 122v-112m10 109v-106m10 132v-132m10 96v-91m10 113v-168m10 167v-160m10 167v-118m10 134v-174m10 134v-67m10 102v-153m10 131v-125m10 123v-104m10 110v-87m10 106v-96m10 97v-101m10 62v-91m10 91v-117m10 125v-67m10 67v-84m10 79v-79m10 87v-74m10 79v-101m10 115v-130m10 130v-109m10 119v-119m10 132v-170m10 127v-116m10 117v-117m10 117v-95m10 88v-136m10 136v-92m10 76v-73m10 84v-114m10 147v-145m10 145v-174m10 180v-124m10 111v-94m10 114v-127m10 129v-140m10 100v-131m10 139v-75m10 79v-129m10 164v-161m10 133v-133m10 133v-150m10 138v-145m10 162v-147m10 119v-115m10 115v-127m10 157v-150m10 152v-133m10 139v-108m10 87v-79m10 79v-106m10 131v-130m10 130v-129m10 139v-139m10 130v-107m10 94v-123m10 118v-133m10 106v-93m10 101v-84m10 126v-109m10 74v-115m10 108v-100m10 102v-137m10 146v-139m10 141v-134m10 134v-130m10 119v-96m10 99v-106m10 113v-151m10 117v-94m10 112v-92m10 100v-89m10 97v-85m10 85v-88m10 98v-102m10 82v-93m10 93v-111m10 92v-107m10 170v-152m10 105v-101m10 101v-92m10 100v-84m10 87v-116m10 116v-107m10 107v-107m10 131v-116m10 101v-152m10 167v-130m10 130v-130m10 125v-131m10 131v-131m10 96v-110m10 104v-124m10 163v-127m10 145v-145m10 104v-79m10 98v-117m10 117v-97m10 100v-134m10 98v-100m10 86v-81m10 89v-90m10 102v-136m10 146v-123m10 129v-82m10 82v-112m10 86v-97m10 142v-132m10 132v-121m10 114v-140m10 101v-101m10 141v-135m10 131v-115m10 100v-112m10 106v-102m10 115v-115m10 93v-93m10 95v-91m10 163v-145m10 165v-187m10 97v-105m10 109v-109m10 129v-163m10 173v-154m10 143v-100m10 122v-139m10 120v-136m10 95v-90m10 90v-76m10 96v-100m10 117v-116m10 101v-81m10 81v-112m10 78v-84m10 115v-106m10 119v-123m10 111v-109m10 123v-105m10 81v-84m10 101v-101m10 101v-94m10 80v-98m10 90v-90m10 112v-128m10 147v-117m10 99v-116m10 116v-116m10 140v-117m10 102v-147m10 139v-147m10 150v-105m10 105v-105m10 99v-86m10 74v-61m10 75v-91m10 114v-148m10 135v-135m10 153v-116m10 116v-158m10 141v-117m10 110v-108m10 108v-74m10 89v-107m10 104v-111m10 83v-90m10 108v-93m10 93v-98m10 97v-104m10 100v-119m10 166v-176m10 192v-184m10 123v-108m10 118v-126m10 126v-122m10 116v-135m10 115v-75m10 75v-118m10 140v-107m10 106v-136m10 104v-86m10 90v-114m10 145v-107m10 108v-93m10 93v-93m10 96v-119m10 119v-152m10 150v-150m10 140v-80m10 59v-87m10 115v-129m10 103v-100m10 82v-81m10 125v-109m10 109v-147m10 130v-130m10 164v-122m10 126v-138m10 147v-161m10 161v-151m10 137v-124m10 102v-98m10 108v-116m10 116v-117m10 135v-135m10 141v-164m10 224v-216m10 140v-148m10 125v-156m10 169v-108m10 127v-125m10 94v-93m10 92v-97m10 76v-88m10 145v-149m10 149v-156m10 87v-66m10 63v-77m10 153v-153m10 112v-99m10 90v-96m10 125v-99m10 69v-101m10 118v-118m10 118v-109m10 117v-108m10 132v-132m10 90v-106m10 90v-92m10 86v-91m10 128v-121m10 90v-90m10 104v-105m10 108v-85m10 91v-82m10 103v-120m10 120v-123m10 128v-165m10 133v-87m10 111v-125m10 94v-110m10 136v-136m10 137v-131m10 127v-131m10 125v-119m10 107v-85m10 85v-103m10 103v-115m10 133v-133m10 134v-146m10 126v-138m10 158v-157m10 157v-121m10 111v-96m10 96v-118m10 161v-171m10 171v-153m10 98v-86m10 78v-78m10 105v-119m10 119v-110m10 96v-96m10 93v-100m10 119v-101m10 103v-116m10 96v-94m10 105v-105m10 145v-172m10 146v-146m10 146v-138m10 120v-103m10 162v-132m10 90v-90m10 90v-121m10 92v-111m10 128v-134m10 124v-123m10 201v-188m10 188v-226m10 159v-134m10 108v-81m10 105v-70m10 68v-89m10 106v-115m10 139v-160m10 160v-169m10 126v-126m10 125v-120m10 141v-138m10 116v-79m10 95v-95m10 89v-114m10 117v-117m10 127v-113m10 113v-163m10 125v-125m10 144v-103m10 124v-109m10 108v-103m10 103v-119m10 114v-144m10 150v-159m10 159v-112m10 65v-93m10 115v-140m10 153v-134m10 118v-101m10 122v-129m10 136v-136m10 93v-101m10 127v-131m10 115v-113m10 121v-121m10 103v-83m10 102v-103m10 148v-173m10 162v-143m10 93v-90m10 90v-69m10 82v-127m10 127v-145m10 162v-150m10 169v-153m10 153v-133m10 93v-112m10 133v-138m10 138v-145m10 148v-165m10 163v-163m10 137v-79m10 110v-97m10 62v-76m10 106v-106m10 106v-111m10 96v-83m10 83v-114m10 89v-69m10 131v-131m10 131v-164m10 127v-132m10 105v-72m10 87v-103m10 144v-144m10 122v-106m10 102v-95m10 91v-100m10 143v-143m10 116v-127m10 120v-97m10 97v-88m10 77v-79m10 75v-113m10 108v-108m10 124v-146m10 127v-67m10 75v-101m10 101v-107m10 117v-106m10 114v-112m10 127v-144m10 144v-118m10 80v-134m10 201v-158m10 158v-180m10 135v-116m10 114v-90m10 87v-135m10 102v-107m10 207v-188m10 136v-121m10 133v-138m10 131v-150m10 122v-123m10 98v-92m10 115v-94m10 123v-123m10 133v-142m10 125v-154m10 149v-144m10 159v-119m10 147v-163m10 163v-164m10 90v-111m10 122v-123m10 133v-124m10 127v-88m10 98v-107m10 77v-77m10 77v-75m10 74v-104m10 117v-116m10 121v-90m10 90v-57" stroke-width="13"/></g></g>
<g opacity="0.35" fill="none" stroke="#1f77b4" stroke-linejoin="bevel" clip-path="url(#cr1)"><g transform="scale(0.1)"><path d="M5720 3286v-127l10 5v122l10-1v-124l10-98v232l10 0v-232l10 105v101l10 61v-167l10-57v167l10 57v-224l10 17v207l10-43v-167l10 15v176l10 13v-189l10-41v230l10-46v-184l10 48v171l10 0v-171l10 18v117l10 10v-122l10 22v100l10 10v-166l10 18v148l10 4v-143l10-36v179l10-27v-152l10 22v124l10 22v-116l10-5v133l10-44v-102l10 2v96l10 51v-207l10 39v184l10-27v-129l10-34v172l10 0v-201l10 36v135l10 11v-117l10-6v123l10 45v-144l10-39v115l10 61v-176l10-9v173l10 0v-131l10 0v110l10 16v-167l10-20v187l10-9v-179l10 45v135l10-12v-204l10 29v187l10 34v-177l10-14v191l10-54v-151l10 0v136l10 16v-147l10 7v140l10 27v-155l10-14v164l10 0v-205l10 0v222l10 0v-159l10 0v141l10 5v-157l10 0v173l10 0v-169l10-14v142l10 0v-142l10 17v112l10 30v-167l10 10v135l10-1v-147l10 52v102l10 25v-162l10-16v146l10-9v-110l10-10v120l10 10v-130l10-37v178l10 0v-210l10 0v193l10 34v-145l10 13v132l10-33v-112l10-49v170l10 9v-166l10 5v179l10 0v-179l10 30v122l10 0v-144l10-14v163l10 55v-186l10-9v195l10-40v-155l10-40v195l10-15v-180l10 11v169l10 4v-173l10 18v155l10-25v-109l10-28v130l10 16v-109l10 10v171l10-54v-151l10-23v136l10 28v-164l10 31v133l10-31v-56l10-70v144l10 100v-271l10 0v271l10-40v-163l10-4v140l10 0v-167l10-1v149l10 18v-167l10 15v164l10-12v-172l10-20v192l10-5v-146l10-17v203l10 0v-203l10-62v282l10 0v-199l10-4v164l10-48v-116l10 4v150l10 3v-130l10-24v156l10 0v-156l10-34v186l10-20v-166l10 33v143l10 0v-183l10 0v175l10-1v-161l10 0v217l10 0v-219l10 0v127l10 5v-99l10 0v84l10 68v-152l10-10v155l10 10v-169l10 10v159l10-40v-152l10 14v164l10-5v-159l10 18v96l10 119v-210l10-5v215l10-51v-177l10-2v180l10 13v-193l10 25v168l10 27v-207l10 0v177l10-31v-122l10-4v121l10 16v-178l10-10v153l10 16v-169l10 6v177l10 0v-177l10 11v234l10-74v-160l10 37v105l10 7v-145l10 0v155l10-5v-160l10 5v149l10 1v-150l10 5v146l10 15v-161l10 15v169l10 0v-193l10 0v135l10 9v-126l10 0v148l10 1v-126l10-14v125l10-15v-116l10 33v117l10 7v-214l10 0v216l10 4v-136l10-53v168l10 0v-171l10 0v196l10 0v-196l10 31v141l10 45v-186l10 19v167l10-54v-105l10-15v117l10 6v-141l10 4v159l10 0v-141l10-44v179l10-47v-132l10 50v141l10-27v-144l10 0v140l10 15v-183l10 0v183l10 15v-162l10 8v153l10 0v-173l10 30v167l10 0v-175l10-57v190l10-3v-90l10-120v223l10 0v-223l10 100v116l10-28v-126l10-61v175l10 22v-197l10 27v195l10 24v-157l10 5v152l10-30v-160l10 37v103l10 12v-131l10-66v203l10-8v-144l10-7v156l10 29v-208l10-1v209l10 2v-170l10-11v181l10-55v-96l10-5v94l10 31v-126l10-20v207l10 0v-207l10 44v112l10 0v-139l10 0v120l10 4v-106l10-41v175l10-40v-135l10-16v222l10 18v-224l10 31v193l10-63v-127l10-40v202l10 0v-220l10 0v223l10 0v-187l10-9v117l10 12v-129l10-48v187l10 75v-256l10 67v135l10 23v-159l10 0v159l10-30v-114l10-43v156l10 0v-118l10 0v139l10-1v-167l10 9v140l10 0v-103l10-65v161l10-33v-128l10-9v179l10 0v-179l10 32v168l10 0v-168l10-16v158l10-20v-138l10 2v192l10 0v-210l10 27v176l10 0v-231l10 68v113l10 21v-134l10 0v163l10-22v-231l10 97v134l10-15v-133l10 0v155l10-44v-114l10-32v218l10 0v-187l10-101v234l10-23v-101l10-43v155l10-33v-122l10 17v132l10 32v-190l10 51v139l10 9v-143l10-5v199l10 0v-210l10 0v146l10-30v-110l10 0v205l10 0v-212l10-40v191l10 0v-120l10-12v198l10 0v-198l10-31v205l10-64v-141l10 6v137l10 9v-146l10 5v124l10-3v-118l10-3v178l10 0v-224l10 22v159l10 0v-126l10 6v142l10 0v-141l10 0v140l10-9v-139l10-22v148l10 0v-148l10 27v93l10 44v-152l10 0v166l10-14v-164l10-40v188l10 49v-237l10 33v172l10-34v-138l10 20v199l10-55v-136l10-10v134l10 2v-136l10-5v152l10 10v-139l10-1v149l10 0v-166l10 18v188l10 0v-253l10 72v118l10 11v-158l10 6v152l10 18v-170l10 27v143l10-34v-106l10-33v139l10-31v-128l10 71v121l10 34v-257l10 0v257l10-73v-118l10-17v150l10 7v-145l10-7v164l10 17v-178l10 27v161l10 0v-155l10-71v188l10 10v-164l10 13v151l10-22v-168l10 0v160l10 33v-155l10 1v146l10 0v-142l10 12v120l10 35v-212l10 0v212l10-4v-204l10-4v177l10-2v-175l10 11v172l10 0v-130l10-10v117l10 0v-152l10-45v196l10 16v-212l10 78v147l10 12v-191l10 0v191l10-23v-131l10-20v149l10 0v-114l10-61v168l10 0v-113l10-47v143l10 38v-174l10 8v154l10 0v-180l10 46v154l10 0v-185l10 31v126l10-2v-133l10 3v130l10-15v-192l10 27v184l10 0v-122l10-33v157l10 10v-167l10-13v180l10-4v-176l10-7v155l10 20v-175l10 46v129l10-17v-112l10-58v188l10 4v-192l10 26v159l10 0v-187l10 0v195l10 9v-158l10-13v168l10-15v-153l10-15v219l10 0v-202l10 0v157l10 30v-173l10-7v188l10 0v-188l10-12v158l10 18v-176l10 1v175l10-52v-144l10 53v134l10 0v-147l10 0v117l10 20v-123l10-10v120l10 2v-151l10 37v115l10 1v-113l10-23v154l10-27v-130l10-3v149l10 18v-166l10 35v121l10 14v-135l10 1v134l10-18v-135l10 16v119l10 26v-159l10 0v159l10-2v-153l10 0v190l10-53v-166l10-25v175l10 59v-208l10 0v208l10 7v-189l10-16v110l10 70v-180l10 21v176l10-25v-185l10 0v184l10-16v-195l10 0v208l10 2v-148l10 0v148l10-21v-165l10 0v165l10 8v-178l10 0v175l10 5v-136l10-59v195l10 34v-212l10 30v153l10-18v-96l10-32v90l10 2v-128l10 0v142l10 35v-140l10-54v194l10-4v-190l10 0v190l10 1v-191l10 58v152l10 0v-161l10 0v149l10-30v-121l10-6v119l10 12v-152l10 63v122l10-17v-151l10 0v184l10 0v-167l10 16v123l10 7v-167l10-4v152l10-5v-147l10-32v179l10 3v-182l10 28v151l10 19v-148l10 14v121l10 7v-110l10-89v170l10 19v-189l10 52v138l10 0v-98l10-96v222l10-40v-192l10 19v194l10-36v-125l10 0v132l10 22v-135l10-22v200l10 0v-216l10 0v168l10 3v-143" stroke-width="13" stroke-dasharray="83.2 20.8 13 20.8"/><path d="M5720 3276v-111m10 120v-120m10 102v-94m10 90v-139m10 139v-178m10 158v-75m10 109v-109m10 103v-138m10 142v-133m10 137v-128m10 128v-156m10 186v-143m10 128v-137m10 163v-154m10 104v-125m10 146v-146m10 146v-137m10 117v-99m10 104v-104m10 111v-91m10 79v-122m10 122v-112m10 119v-109m10 101v-112m10 105v-119m10 110v-94m10 127v-103m10 106v-116m10 80v-91m10 83v-83m10 109v-135m10 157v-132m10 124v-110m10 122v-140m10 102v-95m10 106v-106m10 108v-101m10 100v-105m10 135v-100m10 55v-91m10 111v-118m10 136v-145m10 145v-110m10 100v-97m10 97v-142m10 138v-143m10 148v-168m10 178v-126m10 112v-172m10 172v-99m10 129v-152m10 152v-158m10 98v-112m10 118v-127m10 142v-82m10 82v-123m10 151v-134m10 104v-122m10 95v-121m10 164v-164m10 184v-136m10 103v-98m10 124v-148m10 158v-152m10 152v-139m10 78v-78m10 77v-94m10 110v-99m10 106v-106m10 95v-106m10 110v-125m10 139v-99m10 101v-102m10 58v-93m10 115v-83m10 59v-83m10 117v-122m10 122v-152m10 161v-170m10 149v-99m10 129v-96m10 94v-109m10 91v-96m10 99v-148m10 157v-141m10 157v-114m10 114v-138m10 98v-90m10 80v-92m10 123v-117m10 125v-125m10 149v-155m10 116v-110m10 121v-121m10 87v-67m10 65v-80m10 117v-132m10 132v-127m10 107v-95m10 90v-93m10 93v-92m10 126v-106m10 103v-129m10 87v-106m10 130v-107m10 107v-87m10 63v-48m10 39v-64m10 113v-173m10 187v-139m10 97v-86m10 127v-136m10 122v-136m10 127v-142m10 155v-149m10 160v-121m10 85v-85m10 85v-136m10 144v-114m10 85v-96m10 148v-148m10 148v-164m10 133v-105m10 73v-73m10 88v-94m10 148v-144m10 144v-102m10 107v-119m10 117v-149m10 143v-133m10 76v-90m10 126v-97m10 97v-154m10 158v-135m10 135v-117m10 124v-118m10 75v-83m10 84v-84m10 84v-73m10 64v-64m10 127v-129m10 124v-146m10 159v-136m10 98v-95m10 94v-93m10 106v-108m10 116v-140m10 95v-90m10 163v-130m10 131v-131m10 105v-124m10 145v-145m10 103v-126m10 126v-97m10 150v-159m10 141v-135m10 99v-78m10 90v-109m10 115v-143m10 118v-137m10 147v-80m10 106v-120m10 120v-138m10 132v-146m10 129v-107m10 96v-92m10 97v-100m10 100v-123m10 134v-136m10 130v-137m10 133v-133m10 144v-140m10 141v-131m10 146v-103m10 83v-115m10 97v-128m10 131v-104m10 113v-114m10 136v-121m10 92v-108m10 105v-107m10 134v-101m10 112v-151m10 151v-151m10 130v-95m10 95v-104m10 114v-144m10 144v-139m10 164v-150m10 124v-124m10 129v-137m10 137v-116m10 103v-101m10 94v-94m10 97v-113m10 123v-134m10 150v-126m10 121v-153m10 101v-98m10 140v-107m10 92v-85m10 84v-116m10 116v-140m10 136v-128m10 160v-131m10 103v-108m10 108v-108m10 93v-85m10 123v-123m10 120v-130m10 108v-61m10 94v-173m10 174v-174m10 140v-85m10 81v-106m10 94v-110m10 114v-94m10 116v-99m10 126v-126m10 126v-125m10 97v-106m10 95v-86m10 86v-92m10 115v-131m10 109v-110m10 120v-134m10 149v-173m10 186v-161m10 161v-140m10 120v-120m10 83v-60m10 65v-81m10 104v-109m10 113v-114m10 133v-115m10 115v-101m10 75v-101m10 103v-94m10 91v-82m10 82v-103m10 83v-107m10 107v-90m10 112v-112m10 112v-100m10 98v-82m10 111v-144m10 100v-123m10 120v-95m10 111v-111m10 98v-105m10 110v-100m10 118v-179m10 202v-157m10 128v-106m10 128v-128m10 128v-105m10 99v-101m10 101v-101m10 96v-105m10 135v-136m10 108v-130m10 119v-110m10 118v-86m10 86v-142m10 100v-100m10 124v-115m10 97v-96m10 106v-102m10 138v-141m10 130v-144m10 128v-129m10 134v-106m10 83v-89m10 118v-122m10 122v-136m10 102v-79m10 127v-127m10 129v-127m10 97v-104m10 105v-87m10 92v-103m10 103v-117m10 90v-90m10 125v-134m10 138v-120m10 100v-100m10 88v-79m10 88v-115m10 91v-91m10 94v-104m10 130v-132m10 158v-128m10 140v-135m10 138v-128m10 109v-137m10 137v-130m10 99v-99m10 99v-91m10 94v-92m10 92v-113m10 136v-102m10 102v-112m10 169v-153m10 83v-118m10 115v-115m10 124v-91m10 93v-114m10 96v-77m10 83v-116m10 139v-140m10 163v-190m10 158v-125m10 125v-119m10 141v-124m10 124v-124m10 115v-128m10 109v-109m10 112v-134m10 105v-89m10 90v-87m10 111v-110m10 133v-114m10 98v-112m10 112v-165m10 180v-141m10 141v-124m10 83v-128m10 163v-132m10 127v-127m10 114v-104m10 111v-119m10 127v-112m10 112v-95m10 80v-84m10 75v-102m10 101v-100m10 110v-110m10 99v-86m10 112v-134m10 106v-107m10 104v-104m10 92v-69m10 80v-64m10 65v-63m10 37v-87m10 149v-97m10 97v-156m10 140v-140m10 135v-81m10 99v-136m10 138v-138m10 99v-99m10 153v-153m10 174v-120m10 108v-109m10 77v-161m10 186v-129m10 129v-126m10 97v-139m10 132v-132m10 142v-124m10 124v-120m10 132v-120m10 102v-95m10 126v-163m10 163v-185m10 172v-140m10 74v-107m10 156v-149m10 164v-128m10 125v-117m10 104v-106m10 106v-116m10 114v-149m10 135v-97m10 129v-118m10 136v-178m10 150v-119m10 119v-119m10 115v-115m10 115v-82m10 80v-126m10 119v-96m10 88v-121m10 137v-137m10 152v-144m10 145v-91m10 83v-98m10 69v-96m10 99v-88m10 106v-107m10 107v-107m10 99v-165m10 165v-133m10 135v-82m10 82v-119m10 138v-148m10 133v-133m10 133v-124m10 111v-126m10 132v-128m10 135v-112m10 99v-99m10 99v-99m10 126v-162m10 136v-120m10 111v-99m10 131v-126m10 140v-140m10 100v-99m10 99v-90m10 115v-145m10 148v-137m10 137v-90m10 97v-134m10 125v-138m10 177v-167m10 124v-110m10 99v-131m10 113v-113m10 108v-118m10 161v-122m10 122v-114m10 60v-86m10 115v-100m10 88v-91m10 110v-120m10 109v-81m10 95v-94m10 95v-129m10 94v-101m10 127v-130m10 154v-142m10 124v-85m10 105v-122m10 122v-116m10 100v-97m10 107v-116m10 124v-136m10 136v-134m10 128v-127m10 149v-149m10 120v-100m10 87v-132m10 152v-132m10 132v-133m10 185v-170m10 52v-52m10 79v-89m10 159v-150m10 141v-122m10 101v-163m10 163v-162m10 169v-168m10 140v-81m10 60v-64m10 75v-82m10 109v-120m10 120v-124m10 109v-108m10 131v-121m10 110v-162m10 170v-160m10 160v-107m10 81v-56m10 35v-54m10 37v-102m10 120v-109m10 152v-108m10 82v-151m10 158v-78m10 83v-156m10 163v-102m10 117v-122m10 107v-118m10 128v-120m10 93v-94m10 94v-94m10 77v-101m10 147v-103m10 100v-120m10 125v-136m10 136v-114m10 96v-101m10 122v-156m10 131v-135m10 133v-137m10 124v-140m10 147v-109m10 109v-113m10 135v-126m10 110v-87m10 87v-87m10 79v-103m10 121v-137m10 140v-129m10 103v-69m10 84v-158m10 156v-180m10 180v-107m10 94v-94m10 94v-92m10 99v-100m10 122v-135m10 130v-152m10 141v-117m10 130v-141" stroke-width="13"/></g></g>
<g opacity="0.35" fill="none" stroke="#ff7f0e" stroke-linejoin="bevel" clip-path="url(#cr1)"><g transform="scale(0.1)"><path d="M5720 2491v-145l10-6v127l10 7v-156l10 11v145l10-13v-154l10 0v148l10 32v-232l10 104v162l10 0v-151l10-106v238l10 17v-255l10 35v220l10-32v-139l10 11v97l10 31v-151l10-34v200l10-7v-145l10-33v198l10 0v-221l10-69v324l10-46v-160l10-53v211l10 15v-238l10 40v186l10 9v-252l10 71v181l10-106v-100l10 0v210l10 51v-290l10 0v290l10-32v-223l10 0v191l10 0v-158l10-43v212l10 0v-259l10 0v332l10-72v-217l10 0v262l10-35v-246l10 0v217l10 31v-226l10 2v224l10-71v-153l10 16v233l10-2v-219l10-56v275l10-6v-269l10 61v147l10 26v-211l10 0v211l10 9v-144l10-86v230l10-37v-193l10 20v180l10 59v-207l10-26v233l10-25v-208l10 24v184l10-12v-211l10 23v174l10 37v-220l10 0v215l10-7v-211l10-6v217l10 4v-221l10 17v158l10 24v-180l10-10v183l10 51v-212l10-16v228l10-4v-207l10-6v185l10 0v-185l10-31v252l10 0v-250l10-25v188l10 38v-172l10-22v217l10 0v-241l10 46v157l10 4v-159l10 9v150l10-12v-131l10-15v144l10-1v-155l10 20v149l10 24v-173l10 2v161l10-12v-156l10 19v131l10 17v-163l10-38v201l10 11v-212l10-19v225l10 55v-280l10 58v120l10 0v-157l10 0v208l10-21v-132l10-16v175l10 0v-175l10 1v146l10 55v-191l10-18v179l10 0v-141l10-69v156l10 33v-201l10 0v201l10-1v-169l10-34v179l10 15v-194l10 36v158l10 45v-198l10 13v185l10-47v-174l10-1v160l10 49v-209l10-5v175l10 4v-179l10 16v190l10 5v-245l10 31v229l10 0v-236l10 46v139l10 0v-139l10 12v181l10-26v-196l10 14v193l10-36v-184l10 37v160l10 33v-184l10-12v132l10 20v-182l10 0v174l10 73v-228l10 2v226l10-51v-191l10 0v207l10-22v-181l10 9v262l10 0v-250l10 4v152l10-32v-107l10 0v130l10 0v-166l10 0v128l10 30v-148l10-4v152l10 185v-320l10-16v336l10-154v-182l10-41v183l10 19v-202l10 13v167l10 0v-148l10-32v276l10 8v-284l10 52v232l10-36v-203l10 0v203l10-49v-178l10 0v266l10-92v-117l10-28v187l10-29v-220l10 0v198l10 0v-122l10-50v170l10 77v-247l10 31v216l10-32v-217l10 34v153l10-12v-184l10 0v269l10 0v-215l10-21v154l10 0v-157l10-12v187l10 18v-205l10 30v153l10 46v-218l10 0v218l10-24v-162l10-26v189l10 0v-163l10-9v137l10-14v-154l10 0v207l10-27v-206l10 0v233l10 39v-182l10-44v226l10-44v-197l10 0v198l10 5v-159l10-2v149l10 0v-193l10 0v235l10-51v-185l10 29v166l10 13v-180l10-37v228l10 12v-240l10 10v178l10 7v-185l10-26v200l10-4v-197l10 0v183l10 42v-177l10-4v185l10 0v-245l10 50v160l10 40v-205l10-20v225l10-68v-157l10 9v160l10 36v-196l10 17v179l10 45v-224l10 0v224l10-70v-154l10 59v95l10-2v-109l10 0v123l10-14v-154l10-26v195l10 31v-226l10 62v177l10 0v-177l10-9v123l10 31v-197l10 36v161l10-13v-211l10 0v211l10 15v-226l10 87v139l10 29v-187l10-28v215l10-25v-190l10 48v112l10 77v-169l10-20v189l10-65v-124l10-55v188l10 24v-212l10 14v192l10-5v-187l10-28v202l10 24v-226l10 37v151l10-26v-125l10-35v189l10 6v-214l10 8v205l10 0v-205l10 13v201l10 21v-199l10-11v210l10-36v-174l10 46v118l10 1v-132l10 0v159l10 0v-151l10-34v178l10 0v-222l10 0v227l10 51v-206l10 0v206l10-50v-162l10 6v156l10-23v-118l10-69v240l10 0v-240l10-10v262l10 5v-227l10 0v227l10-14v-261l10 0v259l10 0v-239l10 0v148l10 26v-173l10-13v213l10 20v-233l10 40v193l10 17v-211l10-39v199l10 31v-230l10 20v208l10-38v-145l10 0v145l10 42v-189l10 0v174l10 60v-206l10 13v132l10 9v-159l10-69v246l10 0v-244l10 0v238l10 20v-198l10-66v264l10-52v-142l10-6v153l10 0v-237l10 0v244l10-40v-160l10 6v233l10 8v-190l10 0v190l10-17v-177l10 20v157l10-49v-147l10-14v227l10 0v-227l10-1v176l10 0v-155l10-58v163l10 90v-253l10 71v182l10-33v-181l10 0v242l10-102v-163l10 45v188l10 0v-188l10-18v183l10-9v-122l10-24v146l10 12v-175l10-33v208l10 27v-235l10 43v210l10 0v-248l10 28v206l10-46v-154l10-5v159l10 19v-178l10 8v158l10-34v-160l10-16v184l10 3v-187l10 73v135l10 23v-125l10-22v163l10 0v-192l10-24v217l10 0v-195l10-31v187l10-21v-164l10 28v154l10 16v-153l10 16v166l10 0v-220l10 0v175l10 30v-183l10 0v151l10 54v-198l10-26v224l10-21v-200l10 0v200l10 42v-212l10-30v242l10-56v-167l10-32v198l10-16v-171l10-6v177l10-2v-137l10-52v232l10-46v-219l10 35v208l10 0v-149l10-38v219l10 0v-249l10-15v243l10 3v-246l10 23v247l10 0v-188l10-46v178l10 21v-193l10 3v154l10 51v-237l10 0v184l10 10v-116l10-22v151l10-32v-122l10 0v154l10 0v-158l10-12v142l10-9v-133l10-39v236l10-11v-225l10 47v178l10-55v-123l10 18v182l10-36v-146l10-79v236l10 0v-236l10-23v196l10 7v-143l10 0v143l10 25v-168l10 0v215l10 0v-180l10-35v177l10 22v-259l10 0v283l10-24v-126l10-49v154l10-3v-151l10-20v210l10-6v-204l10 17v153l10 0v-167l10 23v219l10-93v-144l10 0v168l10 4v-184l10 0v197l10 0v-201l10 0v197l10 36v-189l10-34v174l10-37v-131l10-49v240l10 0v-179l10 0v144l10 8v-144l10-36v180l10-10v-132l10-43v213l10-38v-175l10 4v155l10 59v-214l10 4v212l10 31v-247l10-8v255l10-50v-205l10 34v181l10 28v-238l10 37v182l10 4v-186l10 14v137l10-8v-178l10 0v201l10 0v-168l10-31v193l10-11v-182l10-27v182l10 48v-230l10 8v222l10 5v-227l10 58v175l10 0v-190l10-2v160l10-5v-241l10 36v192l10-12v-136l10 18v177l10-25v-158l10-28v187l10-17v-170l10 3v171l10 0v-176l10 0v204l10 0v-178l10 20v117l10 23v-194l10 0v202l10 3v-212l10-34v259l10 0v-259l10 49v197l10-19v-195l10 0v187l10 52v-180l10 0v180l10-58v-179l10-52v262l10 0v-183l10 37v173l10 0v-194l10-17v201l10-44v-157l10 42v168l10 0v-173l10 0v184l10 0v-241l10 0v182l10 0v-176l10 45v139l10-28v-93l10-43v115l10 49v-164l10-18v200l10-37v-163l10 45v141l10 25v-228l10 0v172l10 86v-194l10-7v201l10-31v-175l10-18v149l10-11v-167l10 0v201l10-35v-161l10-11v210l10 0v-172l10 15v124l10 83v-167" stroke-width="13"/></g></g>
<g opacity="0.35" fill="none" stroke="#ff7f0e" stroke-linejoin="bevel" clip-path="url(#cr1)"><g transform="scale(0.1)"><path d="M5720 2517v-176l10 1v175l10 55v-242l10-10v253l10 0v-253l10 15v140l10 104v-263l10 0v263l10-109v-149l10 0v150l10 15v-170l10 0v190l10-26v-156l10 29v134l10-14v-102l10-30v128l10 59v-254l10 60v194l10-61v-189l10 46v148l10 9v-132l10-17v169l10 29v-198l10-44v195l10 0v-150l10 0v137l10 0v-154l10-40v198l10 26v-224l10 24v200l10 0v-243l10 80v181l10 0v-179l10-14v174l10 31v-210l10-63v290l10 0v-290l10 26v217l10 0v-149l10-36v158l10 115v-273l10 13v196l10 0v-160l10-45v160l10 9v-169l10 8v164l10-5v-161l10-25v227l10 0v-205l10 31v189l10 30v-219l10-28v247l10-88v-159l10 18v141l10 40v-181l10 0v181l10-11v-225l10 0v225l10-5v-185l10-3v224l10 0v-294l10-25v274l10 15v-289l10 103v186l10-20v-153l10 3v148l10 0v-207l10 0v254l10-31v-207l10 0v198l10 0v-170l10 0v170l10 0v-137l10-76v198l10 1v-199l10 6v226l10-27v-185l10-16v218l10 43v-261l10 45v216l10-55v-154l10-27v212l10 0v-212l10-4v177l10 17v-192l10 16v175l10-38v-103l10-2v107l10 0v-154l10 0v233l10-102v-109l10 25v135l10-21v-137l10 12v145l10-21v-144l10-58v258l10 0v-222l10 25v194l10-4v-202l10-68v270l10-3v-267l10 38v198l10 13v-211l10 79v156l10 0v-237l10 20v243l10 0v-210l10-6v191l10-21v-183l10 0v183l10-1v-164l10 20v144l10-45v-204l10 0v215l10 51v-188l10 15v173l10 7v-218l10 2v207l10-28v-267l10 107v131l10 4v-170l10 18v169l10-25v-174l10 0v164l10-9v-125l10-80v253l10 16v-214l10 68v146l10-16v-163l10-53v268l10-60v-208l10-5v185l10 11v-146l10-22v187l10-23v-139l10 36v128l10 0v-171l10 42v129l10 29v-177l10-19v174l10 23v-187l10-12v199l10-14v-185l10 14v251l10 0v-271l10 21v150l10 8v-192l10 0v181l10 74v-189l10-50v239l10-54v-185l10 23v147l10 37v-183l10 19v96l10 0v-115l10-19v215l10-43v-172l10 22v150l10 4v-136l10-18v203l10-41v-181l10 0v193l10 46v-260l10 0v152l10 10v-120l10 24v97l10 66v-213l10 0v157l10-6v-175l10 22v207l10 0v-219l10 0v225l10 0v-201l10-12v177l10 13v-190l10 13v209l10-59v-155l10-37v231l10 23v-215l10 13v202l10-53v-175l10 13v107l10 89v-209l10-11v242l10 0v-289l10 61v193l10-12v-164l10-35v225l10 0v-225l10 51v145l10 8v-197l10 28v208l10-13v-195l10-40v272l10-80v-137l10 0v132l10 0v-189l10 38v192l10 56v-226l10-6v170l10-16v-189l10 0v181l10-8v-165l10-19v192l10 68v-260l10 46v214l10-109v-149l10 2v181l10-31v-150l10 20v167l10 0v-149l10-147v269l10 18v-209l10 34v175l10 62v-221l10 13v161l10-43v-132l10 27v132l10 32v-185l10-9v210l10 37v-242l10-33v275l10-44v-231l10 32v230l10 0v-230l10-26v143l10 95v-181l10-33v214l10-2v-212l10 8v174l10 18v-211l10 0v211l10 4v-169l10-18v123l10 11v-237l10 0v237l10-13v-204l10 42v141l10 28v-231l10 0v296l10 0v-233l10 0v221l10-15v-153l10-22v123l10 36v-159l10-3v198l10 33v-231l10 27v173l10 0v-164l10-25v189l10-3v-215l10-39v293l10-98v-115l10-16v131l10 6v-159l10 0v188l10 6v-212l10 0v223l10 52v-250l10 22v228l10-45v-175l10 0v165l10 0v-203l10-2v200l10 0v-200l10 47v99l10 40v-205l10 0v214l10-12v-201l10 72v111l10 29v-170l10-12v220l10 28v-271l10 0v271l10-14v-231l10 34v160l10-28v-132l10-23v155l10 0v-155l10 9v144l10-23v-119l10-18v182l10 0v-157l10 0v136l10 76v-278l10 56v222l10-64v-162l10-14v176l10-6v-170l10 16v188l10 0v-188l10 25v149l10 0v-172l10-2v197l10-86v-176l10 15v161l10-20v-138l10 16v206l10 0v-213l10-10v243l10 0v-151l10-5v136l10 30v-164l10-51v215l10-43v-182l10 9v173l10 81v-254l10 2v252l10-92v-160l10-7v214l10-50v-164l10 3v222l10 0v-235l10 0v223l10 0v-232l10-15v287l10 0v-263l10-9v242l10-36v-206l10-26v230l10-7v-223l10-28v249l10-9v-240l10 19v214l10 0v-123l10-43v159l10 42v-201l10 5v141l10 5v-139l10-20v190l10 2v-192l10 14v139l10-24v-134l10 10v187l10 19v-202l10 5v197l10 33v-230l10 4v207l10-70v-138l10 22v132l10 25v-188l10 0v188l10-10v-176l10 2v221l10 0v-221l10 22v187l10-22v-200l10 0v156l10 43v-202l10 25v219l10 0v-210l10 14v123l10 2v-130l10-18v131l10 0v-174l10-11v267l10 12v-279l10 13v200l10 0v-182l10 0v190l10 9v-161l10 0v163l10 6v-205l10 65v140l10 3v-199l10-31v217l10 18v-233l10 14v242l10-67v-175l10 43v143l10 0v-174l10 0v160l10 10v-182l10 0v183l10 0v-141l10-35v168l10 13v-174l10 0v185l10 50v-223l10-45v255l10-30v-225l10 3v209l10-17v-192l10 48v153l10 0v-153l10 5v143l10 26v-240l10 39v201l10-18v-194l10 0v194l10 17v-185l10 1v138l10 45v-228l10 0v179l10 70v-220l10 53v167l10-36v-156l10-38v194l10-33v-161l10 33v157l10 1v-194l10 0v177l10 60v-199l10 0v214l10-67v-121l10 45v112l10 37v-222l10-30v225l10-39v-186l10 28v162l10-11v-151l10 0v189l10-48v-119l10-20v166l10-6v-160l10-40v193l10 0v-193l10 8v222l10-26v-210l10 0v210l10 22v-176l10-32v217l10 0v-231l10-25v245l10 0v-245l10 47v274l10 0v-274l10 6v163l10 41v-217l10 40v177l10-44v-251l10 0v312l10 0v-210l10-24v213l10-18v-195l10-3v177l10 40v-217l10 0v217l10-1v-203l10-32v187l10-3v-212l10 0v228l10 13v-135l10-89v208l10 26v-234l10-21v233l10-5v-228l10 71v171l10 18v-228l10 25v176l10 1v-177l10 18v159l10 45v-225l10 0v150l10 17v-134l10-45v244l10 0v-198l10-18v264l10 0v-264l10 42v122l10-3v-166l10 0v190l10 11v-191l10 0v128l10 43v-148l10-33v181l10-29v-119l10 4v142l10 0v-175l10-40v241l10 0v-236l10 62v202l10 0v-202l10 7v124l10 2v-137l10-36v245l10 0v-264l10 0v200l10-5v-182l10 21v196l10-53v-143l10-57v227l10 3v-221l10 0v227l10 10v-221l10 3v225l10-42v-157l10-44v220l10 23v-243l10-5v248l10 68v-316l10 39v277l10-117v-141l10 13v202l10 0v-189l10-20v194l10 0v-200l10 38v83l10 8v-127l10 0v187l10 0v-185l10 0v194l10 0v-190l10-31v195l10 0v-228l10 0v215l10 10v-206" stroke-width="13" stroke-dasharray="13 21.45"/><path d="M5720 2457v-107m10 154v-143m10 150v-154m10 140v-122m10 90v-100m10 100v-95m10 95v-130m10 107v-121m10 111v-79m10 95v-97m10 109v-128m10 99v-101m10 108v-84m10 77v-60m10 92v-83m10 82v-88m10 86v-114m10 114v-115m10 110v-111m10 123v-113m10 119v-77m10 82v-109m10 109v-121m10 105v-114m10 121v-116m10 97v-69m10 72v-88m10 79v-86m10 86v-118m10 148v-131m10 124v-137m10 137v-82m10 96v-96m10 57v-103m10 103v-98m10 138v-151m10 150v-150m10 113v-92m10 121v-112m10 103v-125m10 117v-88m10 107v-91m10 73v-79m10 69v-83m10 91v-111m10 103v-104m10 100v-74m10 117v-114m10 135v-141m10 84v-84m10 123v-114m10 88v-91m10 91v-108m10 43v-42m10 133v-104m10 70v-97m10 97v-97m10 127v-94m10 65v-85m10 68v-87m10 132v-175m10 173v-192m10 189v-151m10 159v-102m10 95v-114m10 89v-87m10 82v-76m10 99v-158m10 117v-107m10 97v-84m10 100v-99m10 147v-108m10 106v-98m10 64v-97m10 97v-105m10 114v-109m10 112v-98m10 59v-84m10 126v-105m10 108v-117m10 125v-130m10 115v-130m10 115v-121m10 121v-81m10 86v-99m10 112v-101m10 83v-77m10 54v-54m10 56v-64m10 122v-147m10 99v-74m10 91v-83m10 72v-75m10 109v-107m10 90v-97m10 114v-159m10 195v-161m10 121v-114m10 115v-108m10 77v-120m10 121v-100m10 114v-109m10 124v-96m10 96v-96m10 83v-127m10 127v-98m10 133v-107m10 94v-95m10 91v-132m10 142v-142m10 152v-131m10 91v-92m10 90v-92m10 92v-114m10 131v-110m10 91v-77m10 81v-107m10 116v-133m10 133v-150m10 110v-77m10 111v-112m10 113v-91m10 70v-114m10 91v-91m10 85v-69m10 83v-108m10 136v-94m10 114v-84m10 84v-93m10 59v-91m10 85v-85m10 75v-80m10 93v-94m10 118v-135m10 124v-71m10 78v-87m10 87v-106m10 92v-83m10 69v-71m10 91v-111m10 118v-87m10 85v-89m10 100v-134m10 122v-108m10 106v-117m10 126v-89m10 91v-131m10 130v-94m10 132v-128m10 128v-135m10 110v-119m10 119v-116m10 123v-116m10 74v-56m10 60v-89m10 118v-126m10 126v-110m10 89v-92m10 78v-50m10 108v-128m10 77v-93m10 139v-125m10 137v-122m10 50v-86m10 108v-85m10 81v-81m10 105v-99m10 99v-101m10 90v-85m10 116v-127m10 91v-123m10 130v-117m10 137v-130m10 123v-117m10 106v-87m10 84v-108m10 80v-104m10 102v-107m10 135v-122m10 149v-95m10 76v-112m10 65v-65m10 142v-128m10 151v-166m10 153v-207m10 164v-133m10 119v-111m10 117v-111m10 103v-103m10 112v-99m10 104v-121m10 141v-114m10 104v-87m10 76v-77m10 66v-88m10 88v-100m10 92v-114m10 149v-145m10 187v-163m10 123v-119m10 123v-123m10 88v-123m10 117v-114m10 103v-101m10 112v-99m10 99v-84m10 65v-65m10 90v-91m10 68v-88m10 105v-105m10 105v-76m10 54v-84m10 88v-111m10 148v-141m10 144v-120m10 107v-93m10 81v-93m10 116v-100m10 100v-116m10 156v-177m10 162v-94m10 102v-149m10 122v-131m10 131v-103m10 93v-103m10 67v-75m10 99v-72m10 88v-131m10 166v-112m10 78v-121m10 102v-116m10 133v-108m10 114v-85m10 58v-76m10 63v-79m10 80v-172m10 174v-84m10 82v-81m10 84v-84m10 84v-58m10 73v-74m10 83v-83m10 77v-89m10 72v-82m10 96v-81m10 120v-128m10 98v-102m10 141v-140m10 156v-125m10 102v-119m10 88v-103m10 103v-108m10 95v-65m10 52v-67m10 96v-102m10 110v-110m10 127v-119m10 112v-122m10 163v-164m10 166v-166m10 80v-56m10 63v-71m10 107v-132m10 140v-111m10 102v-124m10 98v-73m10 67v-72m10 83v-129m10 129v-110m10 94v-73m10 94v-94m10 117v-116m10 116v-104m10 112v-133m10 110v-110m10 110v-104m10 100v-92m10 92v-92m10 77v-90m10 88v-67m10 63v-69m10 87v-96m10 86v-70m10 78v-82m10 104v-109m10 109v-134m10 127v-105m10 84v-84m10 85v-89m10 114v-78m10 78v-108m10 102v-100m10 76v-74m10 58v-84m10 87v-118m10 124v-123m10 101v-76m10 128v-132m10 131v-131m10 118v-107m10 131v-98m10 62v-67m10 109v-105m10 105v-138m10 115v-132m10 131v-107m10 89v-90m10 132v-132m10 99v-85m10 73v-92m10 81v-91m10 137v-103m10 112v-110m10 104v-104m10 72v-83m10 106v-81m10 153v-159m10 123v-172m10 168v-159m10 136v-141m10 141v-141m10 140v-134m10 95v-67m10 74v-70m10 73v-73m10 55v-75m10 83v-120m10 120v-102m10 91v-48m10 112v-114m10 107v-152m10 89v-89m10 75v-89m10 135v-96m10 127v-99m10 84v-118m10 178v-178m10 99v-107m10 105v-103m10 113v-106m10 100v-104m10 118v-136m10 136v-136m10 146v-119m10 128v-134m10 134v-118m10 76v-111m10 101v-101m10 127v-113m10 128v-132m10 143v-80m10 41v-71m10 70v-97m10 98v-102m10 102v-124m10 116v-146m10 184v-169m10 169v-133m10 93v-89m10 129v-109m10 108v-117m10 117v-122m10 140v-128m10 118v-91m10 91v-89m10 62v-100m10 86v-80m10 115v-161m10 130v-116m10 117v-95m10 97v-101m10 100v-100m10 117v-106m10 91v-95m10 118v-99m10 67v-64m10 64v-86m10 95v-108m10 92v-108m10 138v-136m10 150v-146m10 121v-123m10 124v-123m10 125v-125m10 124v-100m10 104v-75m10 85v-134m10 133v-96m10 73v-77m10 76v-119m10 123v-108m10 93v-71m10 70v-57m10 58v-71m10 82v-89m10 113v-93m10 98v-117m10 95v-91m10 84v-118m10 114v-86m10 88v-97m10 104v-116m10 150v-116m10 64v-95m10 93v-67m10 131v-72m10 75v-91m10 77v-133m10 92v-98m10 112v-106m10 114v-108m10 110v-115m10 93v-81m10 111v-102m10 102v-139m10 140v-97m10 88v-122m10 119v-123m10 109v-109m10 120v-115m10 160v-155m10 138v-141m10 90v-90m10 115v-103m10 103v-128m10 153v-126m10 121v-76m10 38v-91m10 119v-121m10 121v-120m10 62v-68m10 137v-137m10 173v-133m10 109v-109m10 104v-156m10 100v-101m10 108v-84m10 140v-140m10 81v-108m10 126v-126m10 126v-159m10 186v-100m10 100v-99m10 69v-125m10 119v-137m10 169v-173m10 153v-146m10 164v-114m10 114v-118m10 91v-91m10 70v-96m10 119v-107m10 103v-109m10 102v-115m10 142v-115m10 135v-149m10 149v-131m10 104v-105m10 130v-112m10 96v-96m10 62v-77m10 89v-82m10 63v-74m10 80v-85m10 105v-84m10 82v-91m10 83v-82m10 109v-93m10 93v-118m10 83v-137m10 163v-106m10 106v-94m10 92v-96m10 106v-106m10 106v-107m10 117v-133m10 137v-66m10 51v-133m10 94v-96m10 137v-128m10 83v-93m10 105v-113m10 119v-111m10 141v-107m10 102v-102m10 84v-82m10 100v-124m10 132v-150m10 150v-168m10 177v-180m10 180v-177m10 123v-82m10 59v-58m10 106v-103m10 153v-127m10 135v-137m10 102v-98m10 46v-56m10 49v-50m10 101v-109m10 102v-102m10 119v-100m10 99v-85m10 75v-132m10 144v-158m10 128v-141m10 162v-105" stroke-width="13"/></g></g>
<g opacity="0.35" fill="none" stroke="#ff7f0e" stroke-linejoin="bevel" clip-path="url(#cr1)"><g transform="scale(0.1)"><path d="M5720 2481v-184l10 24v198l10-19v-179l10-3v204l10 0v-204l10 6v203l10-10v-200l10-26v194l10 2v-196l10-23v242l10-10v-232l10 26v206l10-37v-169l10 25v207l10-17v-222l10 0v207l10 12v-208l10 0v190l10 0v-175l10-19v179l10-7v-256l10 103v153l10 0v-130l10-5v141l10 34v-180l10 34v174l10 0v-206l10-12v235l10 0v-270l10 0v208l10 0v-181l10-77v243l10 0v-243l10 74v237l10 0v-237l10 0v196l10 0v-150l10-6v180l10 0v-223l10 0v183l10 36v-178l10 6v142l10-1v-130l10-52v195l10 0v-195l10-27v228l10 6v-234l10 44v139l10 13v-165l10 0v124l10 49v-116l10-71v215l10 12v-227l10 45v108l10 18v-183l10 41v169l10 0v-179l10-14v192l10 23v-215l10-29v196l10 29v-225l10 63v181l10 0v-202l10 39v127l10 38v-266l10 77v189l10 42v-231l10 29v122l10-35v-138l10 30v137l10 34v-226l10 34v158l10 0v-174l10 0v197l10 38v-205l10-21v191l10-7v-198l10 0v258l10-6v-223l10 21v202l10-14v-229l10-10v239l10-21v-218l10-20v228l10 4v-232l10 31v201l10-39v-162l10 29v133l10 10v-186l10-12v202l10 19v-221l10 17v208l10 29v-231l10 0v215l10-31v-170l10 5v170l10-52v-123l10-22v263l10-45v-218l10 38v180l10-35v-149l10 0v184l10 0v-195l10-10v166l10 14v-180l10-52v232l10 47v-279l10 62v162l10 48v-171l10-8v143l10-37v-166l10 0v166l10 38v-189l10 0v207l10 43v-305l10 62v148l10 59v-209l10-27v190l10 35v-225l10 30v195l10-20v-168l10 0v216l10 0v-215l10 0v220l10-19v-241l10 61v180l10 8v-217l10 0v217l10 29v-239l10 0v225l10-47v-147l10-46v262l10-107v-124l10 0v149l10 8v-128l10-26v160l10 0v-223l10 0v218l10-2v-215l10 46v157l10 13v-226l10 0v257l10 15v-224l10 30v194l10-58v-151l10 0v190l10 0v-167l10-97v287l10 0v-211l10 0v163l10-25v-179l10 26v164l10 75v-260l10 25v235l10-45v-158l10 0v158l10-45v-168l10 1v184l10 12v-146l10-45v191l10 1v-202l10 47v155l10 8v-173l10-9v262l10 0v-279l10-2v241l10-45v-196l10 23v190l10-40v-150l10-19v175l10 14v-189l10 44v145l10 66v-261l10 21v240l10-28v-259l10 75v184l10-31v-216l10-7v263l10 0v-206l10 0v176l10 0v-254l10 0v220l10-9v-165l10 64v141l10 41v-250l10 22v228l10-110v-183l10 0v233l10 11v-168l10 0v168l10-25v-130l10-47v177l10 33v-210l10 13v197l10 38v-235l10 2v154l10 79v-272l10-5v277l10-75v-202l10 26v176l10 13v-176l10 10v200l10 0v-200l10-27v201l10-15v-106l10-81v179l10 20v-178l10 25v153l10-37v-116l10 4v152l10 43v-197l10-77v274l10-25v-249l10 82v162l10-11v-194l10-32v244l10 0v-164l10 16v97l10 18v-200l10-26v279l10-22v-186l10-14v136l10 64v-236l10 0v236l10-34v-235l10 115v116l10 44v-160l10-5v165l10-48v-173l10 33v170l10 0v-180l10 0v173l10-3v-193l10 0v193l10-1v-156l10 35v148l10 0v-177l10 0v173l10-17v-258l10 66v192l10 52v-219l10 0v219l10-69v-154l10-18v182l10 42v-246l10-21v216l10 5v-221l10 51v201l10-35v-166l10-1v180l10 16v-196l10-7v194l10 5v-254l10 84v180l10-4v-247l10 0v200l10 45v-193l10-11v163l10-11v-152l10-7v194l10 3v-197l10 71v126l10 39v-176l10-2v132l10 16v-213l10 0v248l10 0v-188l10-55v205l10-8v-196l10-25v221l10-2v-199l10 58v108l10 57v-251l10 30v221l10-18v-192l10 0v198l10-21v-221l10 0v261l10 0v-192l10-52v190l10-1v-189l10 75v172l10 0v-191l10-2v243l10 0v-243l10 56v115l10-41v-135l10-22v166l10 50v-217l10 33v204l10 0v-219l10 0v151l10 20v-207l10 0v189l10 26v-229l10 0v229l10-24v-236l10 124v105l10 35v-142l10-5v125l10-33v-153l10 44v149l10 13v-206l10 0v206l10-29v-135l10-28v245l10-38v-218l10 49v129l10 51v-231l10 0v235l10 0v-188l10-44v214l10-22v-161l10 36v120l10-20v-167l10 1v195l10 0v-199l10 0v228l10 0v-203l10 15v159l10 0v-140l10-99v223l10 37v-186l10 0v208l10 0v-228l10 0v178l10 23v-215l10 7v208l10 8v-216l10-7v228l10-80v-116l10-4v183l10-29v-154l10 21v163l10 36v-203l10 25v178l10-12v-183l10-50v175l10 59v-234l10 14v195l10 15v-237l10 0v237l10 9v-293l10 109v184l10-2v-164l10-42v206l10-1v-205l10 20v159l10 0v-152l10 11v171l10 0v-258l10 51v141l10 0v-136l10-76v207l10 56v-263l10-16v279l10-2v-158l10-52v210l10-21v-203l10 46v181l10 0v-175l10-79v256l10 0v-256l10 84v177l10 0v-249l10 52v181l10-8v-180l10 0v166l10-20v-235l10 50v185l10 45v-230l10 47v139l10 8v-154l10 8v162l10-3v-167l10-35v198l10-12v-169l10 22v150l10 36v-186l10 36v223l10 0v-233l10-23v176l10 0v-205l10-18v160l10 78v-272l10 0v219l10 97v-219l10-23v242l10-52v-166l10-10v176l10-15v-169l10 63v106l10-5v-260l10 79v136l10 71v-196l10-51v247l10-26v-194l10 0v148l10 74v-203l10-2v205l10-36v-129l10-27v155l10 27v-188l10 20v168l10-40v-128l10 3v161l10-58v-128l10-4v163l10 0v-205l10 0v197l10 84v-217l10-70v287l10-48v-239l10 7v275l10-36v-239l10 8v188l10-7v-124l10 21v107l10 21v-124l10-42v146l10 23v-222l10 52v172l10 26v-229l10 0v232l10-45v-174l10 7v167l10-47v-120l10 35v171l10 0v-188l10 6v143l10 33v-176l10-1v177l10-18v-200l10 0v200l10-19v-206l10 48v172l10-24v-148l10 19v160l10-25v-221l10 0v316l10 0v-246l10-28v205l10-5v-200l10 22v178l10-18v-160l10 26v137l10-10v-128l10-79v191l10 61v-252l10 8v244l10-18v-226l10 49v177l10-34v-150l10 0v156l10 39v-232l10 0v271l10 0v-222l10 15v110l10 61v-171l10-18v168l10 9v-177l10 18v160l10 53v-279l10 40v239l10-88v-129l10 10v127l10-10v-130l10 0v203l10-35v-209l10 56v149l10-9v-140l10-39v171l10 0v-183l10 0v169l10 11v-129l10-41v180l10-2v-159l10 4v139l10 40v-197l10 16v181l10-52v-127l10-8v162l10 39v-202l10 33v169l10-7v-226l10 0v205l10-2v-199l10 44v133l10 11v-159l10-16v175l10 5v-176l10-35v211l10-8v-203l10-13v265l10-55v-121l10 1v132l10-11v-162l10-26v201l10-28v-152l10 2v159l10 12v-171l10 5v166l10-2v-142l10 0v184l10 19v-183l10-57v207l10-36v-156" stroke-width="13" stroke-dasharray="48.1 20.8"/><path d="M5720 2461v-136m10 156v-156m10 142v-142m10 142v-100m10 91v-120m10 179v-170m10 138v-163m10 146v-134m10 91v-94m10 156v-163m10 137v-183m10 160v-116m10 115v-118m10 168v-156m10 163v-157m10 110v-123m10 115v-115m10 159v-170m10 160v-124m10 119v-134m10 128v-168m10 144v-102m10 102v-93m10 121v-120m10 126v-141m10 183v-143m10 154v-191m10 191v-135m10 114v-190m10 166v-129m10 129v-128m10 111v-155m10 153v-136m10 182v-185m10 201v-201m10 168v-129m10 135v-139m10 139v-145m10 86v-92m10 99v-110m10 179v-164m10 141v-130m10 122v-112m10 112v-133m10 150v-155m10 155v-213m10 178v-178m10 172v-105m10 94v-101m10 89v-99m10 93v-54m10 136v-173m10 175v-158m10 92v-94m10 113v-139m10 124v-116m10 160v-151m10 142v-137m10 86v-86m10 98v-119m10 156v-190m10 205v-161m10 135v-118m10 102v-91m10 83v-100m10 91v-74m10 154v-160m10 91v-89m10 74v-89m10 110v-110m10 99v-128m10 152v-136m10 117v-117m10 156v-145m10 162v-163m10 130v-142m10 149v-139m10 154v-170m10 206v-184m10 160v-160m10 160v-161m10 167v-188m10 148v-148m10 148v-130m10 160v-193m10 190v-190m10 127v-121m10 148v-120m10 126v-117m10 114v-175m10 190v-175m10 194v-194m10 211v-176m10 113v-138m10 135v-115m10 150v-150m10 91v-106m10 191v-196m10 154v-145m10 152v-126m10 121v-116m10 110v-130m10 123v-129m10 118v-131m10 145v-144m10 144v-160m10 162v-172m10 172v-125m10 140v-104m10 71v-90m10 88v-96m10 76v-88m10 148v-136m10 144v-154m10 150v-135m10 105v-134m10 157v-171m10 142v-144m10 162v-159m10 137v-121m10 135v-129m10 129v-98m10 127v-127m10 127v-166m10 144v-144m10 143v-115m10 137v-123m10 86v-91m10 181v-208m10 158v-158m10 158v-135m10 133v-142m10 102v-99m10 99v-99m10 133v-101m10 101v-125m10 132v-155m10 153v-161m10 149v-149m10 138v-125m10 118v-139m10 139v-147m10 132v-119m10 174v-155m10 122v-124m10 166v-141m10 141v-144m10 136v-157m10 148v-148m10 115v-129m10 129v-144m10 153v-133m10 149v-150m10 119v-119m10 126v-108m10 112v-94m10 84v-132m10 119v-119m10 159v-111m10 123v-109m10 109v-130m10 86v-100m10 100v-113m10 166v-173m10 198v-201m10 171v-194m10 176v-141m10 141v-141m10 126v-133m10 126v-114m10 137v-137m10 137v-130m10 177v-178m10 178v-179m10 124v-124m10 128v-92m10 92v-191m10 248v-248m10 248v-198m10 175v-148m10 107v-172m10 172v-172m10 155v-147m10 189v-126m10 140v-187m10 185v-153m10 77v-92m10 123v-129m10 157v-157m10 143v-123m10 123v-122m10 119v-143m10 117v-109m10 145v-137m10 143v-175m10 147v-135m10 135v-127m10 120v-120m10 120v-158m10 156v-127m10 144v-144m10 188v-159m10 139v-153m10 145v-192m10 172v-93m10 93v-153m10 177v-160m10 161v-126m10 82v-105m10 137v-134m10 149v-137m10 155v-206m10 158v-158m10 176v-122m10 122v-151m10 180v-209m10 180v-116m10 83v-75m10 103v-148m10 196v-199m10 172v-170m10 119v-132m10 146v-146m10 163v-160m10 156v-166m10 157v-100m10 126v-132m10 132v-127m10 97v-95m10 104v-104m10 109v-132m10 132v-130m10 107v-130m10 167v-173m10 164v-143m10 141v-108m10 102v-112m10 116v-129m10 137v-137m10 137v-133m10 162v-167m10 120v-120m10 132v-123m10 123v-154m10 164v-180m10 152v-150m10 134v-134m10 187v-177m10 156v-156m10 156v-120m10 144v-159m10 114v-124m10 165v-161m10 176v-163m10 129v-152m10 135v-169m10 177v-144m10 132v-151m10 151v-151m10 182v-165m10 170v-116m10 107v-103m10 104v-121m10 121v-126m10 99v-121m10 168v-168m10 132v-115m10 125v-181m10 187v-129m10 136v-125m10 102v-118m10 84v-71m10 110v-179m10 188v-144m10 144v-153m10 148v-138m10 138v-178m10 191v-191m10 191v-137m10 103v-113m10 111v-126m10 183v-133m10 133v-120m10 113v-172m10 167v-159m10 159v-110m10 52v-97m10 123v-140m10 144v-166m10 183v-143m10 120v-120m10 122v-132m10 132v-175m10 174v-96m10 107v-118m10 118v-183m10 169v-169m10 169v-98m10 118v-100m10 84v-106m10 82v-102m10 135v-116m10 130v-167m10 145v-168m10 160v-98m10 156v-202m10 147v-147m10 156v-114m10 114v-123m10 123v-163m10 206v-165m10 143v-150m10 145v-140m10 140v-113m10 89v-162m10 166v-140m10 164v-111m10 106v-90m10 90v-141m10 136v-135m10 135v-119m10 90v-120m10 148v-118m10 155v-180m10 140v-120m10 91v-132m10 186v-186m10 187v-183m10 183v-183m10 168v-165m10 84v-68m10 150v-142m10 131v-131m10 132v-103m10 133v-163m10 161v-113m10 80v-113m10 96v-153m10 170v-127m10 119v-134m10 177v-180m10 140v-138m10 135v-64m10 86v-137m10 159v-142m10 142v-147m10 112v-142m10 142v-123m10 152v-138m10 111v-112m10 94v-132m10 141v-136m10 136v-127m10 101v-110m10 162v-162m10 162v-135m10 142v-134m10 134v-140m10 105v-159m10 152v-93m10 122v-124m10 71v-71m10 58v-64m10 155v-155m10 155v-192m10 187v-161m10 143v-137m10 90v-96m10 96v-124m10 149v-166m10 168v-168m10 168v-121m10 121v-138m10 146v-108m10 117v-156m10 144v-170m10 165v-157m10 162v-101m10 104v-123m10 167v-156m10 156v-167m10 116v-107m10 107v-140m10 101v-141m10 189v-189m10 172v-142m10 153v-114m10 137v-137m10 127v-114m10 101v-128m10 134v-134m10 148v-90m10 84v-175m10 126v-115m10 160v-156m10 156v-144m10 123v-140m10 120v-120m10 125v-126m10 164v-167m10 161v-119m10 95v-122m10 151v-155m10 142v-118m10 107v-110m10 103v-103m10 73v-77m10 100v-125m10 125v-117m10 117v-107m10 130v-120m10 135v-153m10 160v-197m10 215v-145m10 108v-188m10 181v-152m10 146v-95m10 101v-99m10 103v-100m10 89v-110m10 106v-131m10 170v-158m10 160v-202m10 228v-215m10 168v-144m10 144v-122m10 74v-109m10 158v-119m10 139v-151m10 113v-113m10 110v-97m10 86v-108m10 144v-171m10 152v-152m10 152v-139m10 154v-153m10 120v-120m10 143v-121m10 72v-94m10 149v-155m10 181v-148m10 137v-151m10 155v-155m10 155v-143m10 115v-115m10 127v-120m10 105v-119m10 107v-83m10 113v-113m10 113v-189m10 181v-181m10 181v-134m10 107v-107m10 125v-144m10 163v-148m10 174v-131m10 83v-116m10 94v-94m10 124v-120m10 140v-147m10 149v-150m10 159v-155m10 145v-180m10 180v-153m10 121v-111m10 117v-110m10 107v-118m10 155v-155m10 155v-172m10 135v-103m10 100v-109m10 130v-157m10 157v-169m10 155v-141m10 153v-116m10 124v-158m10 158v-153m10 127v-109m10 150v-150m10 150v-169m10 126v-111m10 124v-131m10 150v-166m10 167v-129m10 135v-190m10 188v-136m10 108v-127m10 119v-78m10 70v-124m10 137v-151m10 167v-128m10 102v-109m10 72v-118m10 212v-212m10 157v-85m10 104v-103m10 98v-105m10 123v-179m10 145v-106m10 109v-125m10 148v-155m10 155v-155m10 152v-103m10 103v-116m10 161v-161m10 134v-157m10 117v-117" stroke-width="13"/></g></g>
<g opacity="0.35" fill="none" stroke="#ff7f0e" stroke-linejoin="bevel" clip-path="url(#cr1)"><g transform="scale(0.1)"><path d="M5720 2531v-232l10 0v232l10-85v-191l10 112v121l10 0v-175l10-6v171l10 86v-280l10 0v230l10-8v-291l10 0v252l10 6v-207l10 0v247l10-62v-181l10 0v198l10 15v-177l10 0v177l10 55v-232l10 0v232l10-11v-225l10 0v225l10-9v-213l10 0v213l10-32v-170l10 8v179l10 13v-159l10-1v94l10 66v-160l10-29v216l10 0v-211l10-81v242l10 0v-118l10-82v184l10 25v-209l10 44v172l10 12v-202l10-4v206l10-60v-220l10 0v278l10 0v-235l10-13v209l10 14v-223l10 73v168l10-43v-147l10-16v167l10-3v-156l10-28v223l10 0v-223l10 21v189l10 0v-165l10 0v165l10-39v-115l10-76v249l10 0v-231l10 21v166l10-16v-111l10-39v175l10 22v-169l10-13v203l10 0v-203l10 28v137l10-10v-122l10-28v152l10-5v-140l10 0v181l10 0v-139l10-119v278l10 0v-179l10-24v155l10 6v-161l10 33v156l10-12v-149l10-59v191l10-2v-189l10 18v163l10 0v-150l10 0v235l10 0v-271l10 12v203l10 0v-203l10 29v134l10 25v-180l10-5v198l10 65v-263l10 28v235l10-112v-190l10 0v256l10 0v-176l10-32v203l10 32v-218l10-76v204l10 0v-107l10 2v206l10-40v-166l10-31v181l10-7v-170l10 3v179l10-17v-162l10-77v249l10 10v-224l10-7v231l10-33v-216l10 88v116l10 20v-180l10-1v181l10-17v-185l10 0v178l10 19v-167l10 28v213l10 28v-247l10-49v296l10-103v-193l10 24v150l10 12v-162l10 11v242l10 0v-242l10 7v196l10-33v-163l10-2v174l10-18v-195l10 43v163l10 0v-150l10-52v183l10 33v-216l10 27v189l10-24v-169l10 35v185l10 0v-218l10 0v149l10-13v-141l10-18v225l10-51v-174l10 16v171l10-17v-180l10 15v193l10-16v-177l10 30v162l10 49v-237l10 0v185l10 28v-191l10 0v191l10-25v-154l10-91v265l10 0v-204l10 32v150l10-14v-150l10-13v198l10-49v-178l10 0v151l10 107v-224l10-2v226l10-84v-222l10 0v240l10-14v-144l10-2v251l10 0v-251l10-6v172l10-18v-170l10 0v186l10 20v-196l10 41v155l10-17v-147l10 4v169l10 0v-216l10 35v101l10 92v-238l10-33v227l10 19v-246l10 95v155l10 0v-180l10 0v188l10 0v-219l10 0v212l10 5v-150l10-19v197l10 0v-200l10 0v150l10 37v-199l10 0v174l10 0v-142l10-28v153l10-33v-138l10 0v181l10 31v-194l10-13v207l10-29v-178l10 48v157l10-17v-186l10 14v210l10 0v-205l10-24v274l10 0v-287l10 16v188l10 0v-194l10 5v133l10 40v-256l10 150v120l10 18v-230l10 0v230l10-45v-164l10 0v186l10 0v-177l10-18v156l10 80v-236l10 12v224l10-36v-185l10-29v214l10 4v-218l10 53v151l10-7v-140l10 6v203l10 0v-215l10 33v201l10-53v-180l10-28v208l10 27v-264l10 29v235l10-27v-176l10 0v111l10 9v-107l10-26v181l10-22v-185l10 3v182l10-1v-178l10 6v182l10 0v-162l10 0v121l10 48v-199l10 29v166l10-32v-154l10 0v221l10 0v-192l10-30v218l10 0v-181l10-40v177l10 80v-257l10 16v171l10 1v-172l10 0v180l10 0v-145l10-58v185l10-21v-167l10-8v230l10 0v-205l10-24v212l10-14v-198l10 37v161l10 30v-178l10-9v209l10-100v-170l10 70v119l10 45v-214l10 0v181l10 26v-167l10-21v245l10 0v-271l10 0v207l10-45v-131l10 6v148l10 0v-166l10 22v190l10-61v-137l10 0v228l10-87v-100l10-13v182l10 0v-202l10 0v197l10-27v-178l10 23v155l10 16v-222l10 10v212l10-12v-198l10 72v126l10-18v-135l10-11v151l10 0v-203l10 59v130l10 56v-186l10-55v241l10-11v-170l10-50v220l10-14v-206l10 13v179l10 0v-146l10-2v116l10 36v-152l10 7v134l10 24v-145l10-18v182l10 0v-202l10 15v122l10 44v-184l10 0v170l10 2v-168l10 0v209l10 0v-176l10-28v189l10-15v-174l10-2v162l10 40v-214l10-4v167l10 81v-248l10-78v326l10-43v-208l10-4v167l10 2v-203l10 0v255l10 0v-213l10 9v157l10 26v-137l10-46v218l10 0v-207l10-27v171l10 20v-188l10 25v163l10-59v-126l10 25v101l10 60v-186l10 0v186l10 32v-184l10-35v219l10 28v-325l10 55v194l10-21v-116l10-46v171l10 95v-282l10 0v282l10-69v-188l10-31v235l10 0v-152l10-32v134l10 32v-185l10-32v217l10-38v-193l10 0v193l10 9v-215l10 0v267l10 0v-224l10 9v149l10 0v-149l10 20v152l10-5v-184l10 0v184l10 55v-210l10 2v208l10 19v-218l10-8v226l10-78v-165l10 53v142l10-10v-145l10-25v161l10 37v-198l10 43v155l10 8v-172l10-30v202l10-43v-159l10 7v184l10 0v-192l10-26v192l10 26v-218l10 5v196l10 0v-171l10-31v235l10-3v-187l10 0v158l10 39v-233l10-16v234l10 0v-234l10-3v303l10 0v-303l10 48v193l10-14v-190l10 0v194l10 0v-203l10 0v197l10 0v-202l10 27v173l10 0v-160l10-19v225l10 0v-242l10 22v134l10 38v-172l10-8v180l10 5v-185l10-57v237l10 33v-270l10 68v202l10 32v-246l10-26v272l10-73v-199l10-31v209l10 53v-207l10 0v209l10-32v-275l10 0v269l10 0v-181l10 27v152l10-14v-129l10-5v143l10-6v-142l10-28v216l10 0v-216l10 16v167l10-7v-172l10 0v166l10 0v-179l10 41v140l10 0v-144l10 13v176l10 36v-214l10 0v214l10-88v-120l10-39v165l10 11v-176l10-92v268l10 38v-306l10 93v195l10 0v-184l10 0v191l10 25v-183l10-100v283l10-82v-201l10 96v105l10 8v-134l10 0v165l10-32v-142l10-31v195l10 11v-206l10-43v249l10-19v-230l10 72v208l10-32v-217l10 8v215l10 0v-144l10-19v134l10 0v-134l10-54v224l10-48v-176l10 74v139l10-41v-98l10-42v140l10 79v-262l10 68v194l10-6v-148l10-67v215l10-19v-220l10 94v126l10-37v-191l10 21v222l10 56v-268l10-28v296l10-102v-185l10 4v172l10-28v-131l10 28v167l10 10v-177l10-13v190l10-60v-130l10-33v146l10 32v-178l10 33v170l10-11v-155l10 0v129l10 29v-193l10 0v193l10 20v-177l10-17v194l10-25v-185l10 0v176l10-14v-104l10-17v112l10 20v-150l10 0v144l10 57v-193l10-4v134l10 5v-139l10-40v179l10 83v-210l10-40v202l10 39v-256l10 24v232l10-55v-191l10-8v201l10 15v-222l10 63v163l10 0v-202l10 0v209l10 5v-208l10 0v208l10-32v-201l10-8v287l10 0v-326l10 71v200l10-1v-159l10-20v179l10 3v-182l10-5v187l10-30v-181l10 0v192l10 3v-219l10 46v168l10-8v-160l10 6v144l10 16v-160l10 31v149l10-11v-178l10 11v198l10 0v-180" stroke-width="13" stroke-dasharray="83.2 20.8 13 20.8"/><path d="M5720 2491v-177m10 177v-169m10 120v-120m10 164v-111m10 111v-167m10 158v-164m10 165v-171m10 199v-195m10 183v-182m10 133v-149m10 177v-154m10 151v-139m10 112v-166m10 190v-149m10 164v-114m10 98v-137m10 148v-144m10 171v-138m10 133v-135m10 99v-128m10 113v-139m10 177v-177m10 141v-133m10 154v-115m10 147v-144m10 75v-56m10 83v-83m10 131v-177m10 177v-168m10 143v-112m10 91v-80m10 81v-121m10 157v-194m10 196v-145m10 145v-181m10 181v-181m10 100v-120m10 160v-160m10 179v-135m10 121v-155m10 175v-175m10 183v-128m10 98v-111m10 117v-118m10 95v-118m10 176v-204m10 204v-204m10 182v-144m10 157v-156m10 140v-138m10 115v-111m10 169v-169m10 169v-192m10 126v-126m10 126v-88m10 109v-141m10 141v-129m10 161v-169m10 152v-137m10 136v-130m10 118v-116m10 119v-132m10 125v-125m10 129v-136m10 165v-126m10 85v-121m10 122v-104m10 106v-114m10 142v-142m10 158v-140m10 123v-127m10 127v-184m10 176v-176m10 166v-141m10 141v-141m10 139v-118m10 137v-164m10 164v-164m10 130v-110m10 116v-125m10 153v-164m10 164v-164m10 195v-136m10 95v-124m10 96v-125m10 142v-126m10 161v-141m10 141v-158m10 176v-176m10 115v-174m10 171v-99m10 165v-162m10 121v-119m10 138v-170m10 135v-123m10 118v-117m10 115v-114m10 151v-204m10 201v-187m10 187v-194m10 172v-186m10 180v-109m10 117v-157m10 158v-163m10 150v-154m10 157v-145m10 158v-131m10 138v-124m10 200v-204m10 91v-147m10 161v-161m10 161v-107m10 117v-104m10 126v-130m10 167v-183m10 144v-145m10 145v-145m10 129v-137m10 120v-126m10 124v-114m10 135v-128m10 90v-129m10 175v-175m10 143v-108m10 118v-139m10 184v-148m10 111v-113m10 105v-131m10 119v-79m10 79v-134m10 138v-141m10 159v-145m10 110v-84m10 115v-149m10 145v-145m10 161v-130m10 145v-162m10 147v-124m10 136v-136m10 139v-139m10 132v-126m10 117v-151m10 143v-143m10 151v-135m10 126v-128m10 123v-136m10 126v-122m10 105v-82m10 181v-177m10 177v-157m10 66v-151m10 170v-191m10 185v-128m10 156v-164m10 149v-149m10 140v-129m10 129v-155m10 168v-169m10 178v-174m10 166v-116m10 111v-129m10 143v-138m10 124v-110m10 70v-81m10 129v-117m10 73v-150m10 179v-152m10 186v-132m10 92v-130m10 172v-160m10 131v-172m10 189v-189m10 189v-127m10 147v-161m10 132v-132m10 130v-126m10 135v-153m10 148v-137m10 137v-119m10 111v-140m10 115v-115m10 147v-152m10 163v-139m10 112v-131m10 139v-138m10 159v-122m10 94v-102m10 140v-167m10 150v-116m10 116v-154m10 149v-169m10 150v-142m10 128v-134m10 129v-122m10 157v-149m10 149v-95m10 126v-122m10 67v-143m10 130v-111m10 125v-119m10 119v-118m10 112v-130m10 200v-206m10 184v-181m10 181v-149m10 134v-138m10 147v-149m10 147v-147m10 132v-120m10 130v-117m10 127v-144m10 182v-154m10 105v-143m10 179v-200m10 134v-144m10 210v-163m10 162v-169m10 89v-89m10 112v-103m10 128v-137m10 137v-179m10 181v-178m10 168v-162m10 158v-126m10 147v-138m10 99v-109m10 154v-154m10 134v-123m10 111v-150m10 143v-143m10 147v-114m10 97v-105m10 144v-127m10 123v-123m10 123v-157m10 150v-137m10 158v-125m10 126v-137m10 123v-116m10 114v-112m10 96v-163m10 178v-181m10 205v-182m10 162v-162m10 162v-142m10 126v-126m10 151v-142m10 169v-178m10 96v-105m10 105v-95m10 87v-126m10 137v-137m10 137v-105m10 163v-139m10 132v-181m10 178v-176m10 132v-123m10 135v-109m10 111v-111m10 106v-104m10 102v-126m10 133v-109m10 99v-87m10 141v-148m10 168v-177m10 153v-170m10 124v-124m10 155v-120m10 128v-192m10 192v-190m10 182v-168m10 147v-86m10 93v-116m10 128v-143m10 134v-140m10 115v-86m10 113v-120m10 141v-179m10 179v-135m10 143v-160m10 159v-192m10 171v-120m10 87v-95m10 89v-99m10 112v-108m10 82v-71m10 94v-83m10 137v-149m10 141v-160m10 110v-109m10 109v-109m10 145v-140m10 146v-142m10 115v-123m10 178v-139m10 124v-147m10 114v-112m10 119v-134m10 135v-151m10 132v-144m10 175v-175m10 201v-205m10 154v-142m10 123v-138m10 163v-201m10 255v-255m10 208v-156m10 144v-105m10 120v-96m10 119v-156m10 128v-138m10 130v-123m10 139v-146m10 146v-148m10 97v-97m10 97v-93m10 96v-89m10 147v-127m10 127v-144m10 171v-171m10 158v-221m10 127v-124m10 159v-76m10 87v-133m10 150v-179m10 197v-143m10 130v-139m10 132v-136m10 151v-128m10 94v-120m10 143v-152m10 152v-158m10 115v-160m10 174v-147m10 151v-162m10 177v-175m10 219v-194m10 120v-120m10 116v-114m10 114v-75m10 95v-133m10 133v-142m10 184v-182m10 191v-182m10 157v-154m10 137v-131m10 123v-140m10 168v-124m10 117v-138m10 124v-124m10 136v-132m10 95v-77m10 147v-159m10 159v-161m10 129v-151m10 136v-135m10 157v-163m10 139v-139m10 156v-141m10 141v-116m10 129v-129m10 135v-135m10 135v-145m10 128v-128m10 114v-158m10 203v-210m10 210v-187m10 144v-129m10 184v-193m10 179v-160m10 87v-87m10 87v-83m10 89v-94m10 150v-150m10 134v-150m10 121v-108m10 102v-92m10 92v-111m10 113v-113m10 119v-107m10 152v-169m10 138v-145m10 150v-138m10 135v-135m10 167v-169m10 159v-158m10 168v-178m10 113v-116m10 152v-124m10 119v-182m10 210v-161m10 191v-191m10 121v-94m10 106v-157m10 172v-172m10 172v-131m10 120v-65m10 70v-132m10 130v-140m10 115v-115m10 155v-144m10 137v-137m10 105v-128m10 128v-134m10 135v-113m10 135v-132m10 132v-125m10 163v-163m10 175v-176m10 124v-126m10 93v-68m10 59v-105m10 153v-143m10 112v-117m10 138v-138m10 138v-126m10 158v-158m10 158v-141m10 157v-157m10 99v-199m10 199v-199m10 191v-89m10 99v-99m10 106v-133m10 123v-114m10 111v-130m10 164v-152m10 132v-177m10 166v-135m10 158v-157m10 162v-196m10 175v-141m10 141v-97m10 78v-78m10 100v-122m10 122v-125m10 114v-114m10 114v-89m10 88v-88m10 88v-132m10 115v-146m10 174v-120m10 148v-102m10 102v-177m10 128v-128m10 148v-67m10 67v-141m10 152v-156m10 208v-208m10 191v-156m10 118v-172m10 166v-166m10 142v-104m10 136v-129m10 151v-143m10 143v-143m10 88v-90m10 86v-119m10 124v-114m10 132v-112m10 113v-110m10 97v-109m10 95v-107m10 115v-120m10 123v-112m10 122v-122m10 143v-137m10 123v-111m10 101v-90m10 90v-99m10 108v-120m10 120v-130m10 112v-69m10 71v-71m10 79v-102m10 102v-83m10 141v-141m10 100v-151m10 164v-164m10 166v-161m10 126v-142m10 179v-193m10 193v-201m10 216v-151m10 135v-143m10 153v-152m10 154v-154m10 163v-152m10 130v-198m10 201v-203m10 224v-203m10 203v-193m10 157v-93m10 102v-109m10 133v-173m10 173v-173m10 120v-129m10 129v-123m10 162v-163m10 149v-155m10 147v-147m10 147v-107m10 81v-81m10 125v-119m10 115v-154m10 182v-176m10 152v-127" stroke-width="13"/></g></g>
<polyline points="39.58,526.17 41.13,526.15 42.67,526.13 44.21,526.08 45.75,526.05 47.3,526 48.84,525.94 50.38,525.88 51.92,525.81 53.46,525.73 55.01,525.63 56.55,525.52 58.09,525.39 59.63,525.25 61.18,525.08 62.72,524.91 64.26,524.69 65.8,524.47 67.35,524.23 68.89,523.94 70.43,523.65 71.97,523.32 73.52,522.96 75.06,522.56 76.6,522.13 78.14,521.66 79.68,521.15 81.23,520.58 82.77,519.97 84.31,519.33 85.85,518.61 87.4,517.85 88.94,517.05 90.48,516.19 92.02,515.25 93.57,514.27 95.11,513.2 96.65,512.08 98.19,510.88 99.74,509.61 101.28,508.27 102.82,506.86 104.36,505.39 105.9,503.84 107.45,502.24 108.99,500.56 110.53,498.8 112.07,496.96 113.62,495.08 115.16,493.12 116.7,491.1 118.24,489.01 119.79,486.87 121.33,484.68 122.87,482.42 124.41,480.13 125.95,477.78 127.5,475.4 129.04,472.99 130.58,470.54 132.12,468.08 133.67,465.58 135.21,463.09 136.75,460.59 138.29,458.06 139.84,455.56 141.38,453.06 142.92,450.58 144.46,448.14 146.01,445.72 147.55,443.34 149.09,440.97 150.63,438.66 152.17,436.41 153.72,434.22 155.26,432.09 156.8,430.05 158.34,428.11 159.89,426.22 161.43,424.46 162.97,422.78 164.51,421.18 166.06,419.73 167.6,418.38 169.14,417.16 170.68,416.07 172.23,415.09 173.77,414.2 175.31,413.57 176.85,412.98 178.39,412.56 179.94,412.18 181.48,411.95 183.02,411.94 184.56,412.01 186.11,412.25 187.65,412.61 189.19,413.03 190.73,413.6 192.28,414.28 193.82,415.1 195.36,416.01 196.9,417.03 198.44,418.16 199.99,419.38 201.53,420.72 203.07,422.08 204.61,423.54 206.16,425.1 207.7,426.73 209.24,428.44 210.78,430.16 212.33,431.95 213.87,433.78 215.41,435.67 216.95,437.59 218.5,439.58 220.04,441.57 221.58,443.58 223.12,445.6 224.66,447.64 226.21,449.7 227.75,451.77 229.29,453.83 230.83,455.87 232.38,457.94 233.92,459.98 235.46,461.99 237,463.83 238.55,465.67 240.09,467.46 241.63,469.24 243.17,470.97 244.72,472.68 246.26,474.35 247.8,476 249.34,477.62 250.88,479.2 252.43,480.77 253.97,482.28 255.51,483.79 257.05,485.25 258.6,486.73 260.14,488.23 261.68,489.69 263.22,491.13 264.77,492.52 266.31,493.88 267.85,495.19 269.39,496.46 270.94,497.71 272.48,498.92 274.02,500.1 275.56,501.23 277.1,502.3 278.65,503.38 280.19,504.41 281.73,505.39 283.27,506.34 284.82,507.25 286.36,508.13 287.9,508.97 289.44,509.95 290.99,510.9 292.53,511.8 294.07,512.65 295.61,513.47 297.15,514.24 298.7,514.99 300.24,515.71 301.78,516.38 303.32,517.02 304.87,517.63 306.41,518.19 307.95,518.71 309.49,519.23 311.04,519.71 312.58,520.16 314.12,520.6 315.66,521.01 317.21,521.39 318.75,521.76 320.29,522.06 321.83,522.36 323.37,522.61 324.92,522.86 326.46,523.1 328,523.32 329.54,523.54 331.09,523.73 332.63,523.93 334.17,524.09 335.71,524.26 337.26,524.42 338.8,524.56 340.34,524.7 341.88,524.83 343.43,524.95 344.97,525.07 346.51,525.19 348.05,525.27 349.59,525.35 351.14,525.43 352.68,525.53 354.22,525.58 355.76,525.64 357.31,525.71 358.85,525.76 360.39,525.8 361.93,525.84 363.48,525.88 365.02,525.91 366.56,525.94 368.1,525.97 369.65,526 371.19,526 372.73,526.01 374.27,526.02 375.81,526.02 377.36,526.04 378.9,526.04 380.44,526.04 381.98,526.05 383.53,526.07 385.07,526.08 386.61,526.08 388.15,526.08 389.7,526.09 391.24,526.09 392.78,526.09 394.32,526.09 395.86,526.1 397.41,526.1 398.95,526.13 400.49,526.14 402.03,526.16 403.58,526.16 405.12,526.18 406.66,526.2 408.2,526.23 409.75,526.25 411.29,526.25 412.83,526.27 414.37,526.29 415.92,526.3 417.46,526.3 419,526.3 420.54,526.3 422.08,526.3 423.63,526.3 425.17,526.3 426.71,526.3 428.25,526.3 429.8,526.3 431.34,526.3 432.88,526.3 434.42,526.3 435.97,526.3 437.51,526.3 439.05,526.3 440.59,526.3 442.14,526.3 443.68,526.3 445.22,526.3 446.76,526.3 448.3,526.3 449.85,526.3 451.39,526.3 452.93,526.3 454.47,526.3 456.02,526.3 457.56,526.3 459.1,526.3 460.64,526.29 462.19,526.29 463.73,526.3 465.27,526.28 466.81,526.28 468.36,526.28 469.9,526.3 471.44,526.3 472.98,526.3 474.52,526.3 476.07,526.3 477.61,526.3 479.15,526.3 480.69,526.3 482.24,526.3 483.78,526.3 485.32,526.3 486.86,526.3 488.41,526.3 489.95,526.3 491.49,526.3 493.03,526.3 494.57,526.3 496.12,526.3 497.66,526.3 499.2,526.3 500.74,526.3" fill="none" stroke="#1f77b4" stroke-width="1.95" stroke-linejoin="round" stroke-dasharray="1.95 3.22" clip-path="url(#cl2)"/>
<polyline points="43.31,526.07 44.58,526.03 45.85,526 47.12,525.95 48.39,525.88 49.66,525.82 50.93,525.75 52.19,525.68 53.46,525.61 54.73,525.53 56,525.44 57.27,525.34 58.54,525.24 59.8,525.12 61.07,524.99 62.34,524.85 63.61,524.7 64.88,524.53 66.15,524.34 67.41,524.14 68.68,523.92 69.95,523.68 71.22,523.43 72.49,523.17 73.76,522.86 75.03,522.54 76.29,522.2 77.56,521.84 78.83,521.46 80.1,521.03 81.37,520.57 82.64,520.09 83.9,519.56 85.17,519 86.44,518.41 87.71,517.77 88.98,517.1 90.25,516.39 91.51,515.66 92.78,514.87 94.05,514.04 95.32,513.16 96.59,512.23 97.86,511.27 99.12,510.26 100.39,509.2 101.66,508.09 102.93,506.95 104.2,505.74 105.47,504.48 106.74,503.18 108,501.82 109.27,500.42 110.54,498.99 111.81,497.48 113.08,495.93 114.35,494.32 115.61,492.66 116.88,490.96 118.15,489.25 119.42,487.48 120.69,485.68 121.96,483.83 123.22,481.97 124.49,480.05 125.76,478.12 127.03,476.16 128.3,474.15 129.57,472.1 130.84,470.06 132.1,468.02 133.37,465.94 134.64,463.87 135.91,461.77 137.18,459.67 138.45,457.59 139.71,455.51 140.98,453.44 142.25,451.37 143.52,449.35 144.79,447.32 146.06,445.34 147.32,443.36 148.59,441.45 149.86,439.56 151.13,437.72 152.4,435.91 153.67,434.14 154.93,432.43 156.2,430.76 157.47,429.14 158.74,427.61 160.01,426.12 161.28,424.67 162.55,423.3 163.81,422.01 165.08,420.73 166.35,419.59 167.62,418.5 168.89,417.5 170.16,416.61 171.42,415.78 172.69,415.04 173.96,414.42 175.23,413.89 176.5,413.45 177.77,413.07 179.03,412.78 180.3,412.54 181.57,412.42 182.84,412.37 184.11,412.42 185.38,412.54 186.65,412.76 187.91,413.03 189.18,413.45 190.45,413.95 191.72,414.53 192.99,415.14 194.26,415.81 195.52,416.61 196.79,417.47 198.06,418.4 199.33,419.38 200.6,420.4 201.87,421.46 203.13,422.61 204.4,423.84 205.67,425.04 206.94,426.35 208.21,427.65 209.48,429.01 210.74,430.39 212.01,431.82 213.28,433.29 214.55,434.78 215.82,436.29 217.09,437.85 218.36,439.44 219.62,441.03 220.89,442.63 222.16,444.24 223.43,445.88 224.7,447.53 225.97,449.24 227.23,450.92 228.5,452.59 229.77,454.27 231.04,455.94 232.31,457.62 233.58,459.32 234.84,461.01 236.11,462.59 237.38,464.11 238.65,465.63 239.92,467.14 241.19,468.63 242.46,470.13 243.72,471.58 244.99,473.02 246.26,474.43 247.53,475.83 248.8,477.2 250.07,478.57 251.33,479.88 252.6,481.18 253.87,482.45 255.14,483.69 256.41,484.91 257.68,486.1 258.94,487.36 260.21,488.6 261.48,489.81 262.75,490.97 264.02,492.11 265.29,493.23 266.55,494.32 267.82,495.39 269.09,496.43 270.36,497.43 271.63,498.41 272.9,499.36 274.17,500.29 275.43,501.19 276.7,502.07 277.97,502.92 279.24,503.76 280.51,504.57 281.78,505.35 283.04,506.12 284.31,506.86 285.58,507.57 286.85,508.27 288.12,508.96 289.39,509.77 290.65,510.57 291.92,511.33 293.19,512.06 294.46,512.74 295.73,513.41 297,514.07 298.27,514.7 299.53,515.3 300.8,515.89 302.07,516.43 303.34,516.97 304.61,517.46 305.88,517.94 307.14,518.41 308.41,518.86 309.68,519.29 310.95,519.69 312.22,520.06 313.49,520.4 314.75,520.73 316.02,521.05 317.29,521.36 318.56,521.66 319.83,521.89 321.1,522.12 322.36,522.33 323.63,522.53 324.9,522.72 326.17,522.91 327.44,523.07 328.71,523.24 329.98,523.4 331.24,523.56 332.51,523.71 333.78,523.84 335.05,523.98 336.32,524.12 337.59,524.24 338.85,524.36 340.12,524.49 341.39,524.6 342.66,524.73 343.93,524.83 345.2,524.94 346.46,525.05 347.73,525.16 349,525.25 350.27,525.35 351.54,525.44 352.81,525.51 354.07,525.59 355.34,525.67 356.61,525.75 357.88,525.83 359.15,525.88 360.42,525.96 361.69,526.03 362.95,526.08 364.22,526.14 365.49,526.19 366.76,526.24 368.03,526.29 369.3,526.3 370.56,526.3 371.83,526.3 373.1,526.3 374.37,526.3 375.64,526.3 376.91,526.3 378.17,526.3 379.44,526.3 380.71,526.3 381.98,526.3 383.25,526.3 384.52,526.3 385.79,526.3 387.05,526.3 388.32,526.3 389.59,526.3 390.86,526.3 392.13,526.3 393.4,526.3 394.66,526.3 395.93,526.3 397.2,526.3 398.47,526.3 399.74,526.3 401.01,526.3 402.27,526.3 403.54,526.3 404.81,526.3 406.08,526.3 407.35,526.3 408.62,526.3 409.88,526.3 411.15,526.28 412.42,526.26 413.69,526.25 414.96,526.24 416.23,526.23 417.5,526.22 418.76,526.21 420.03,526.21 421.3,526.21 422.57,526.2" fill="none" stroke="#1f77b4" stroke-width="1.95" stroke-linejoin="round" stroke-dasharray="7.21 3.12" clip-path="url(#cl2)"/>
<polyline points="40.26,525.88 41.49,525.83 42.73,525.79 43.97,525.75 45.21,525.72 46.45,525.68 47.68,525.64 48.92,525.58 50.16,525.52 51.4,525.45 52.63,525.39 53.87,525.33 55.11,525.25 56.35,525.17 57.58,525.06 58.82,524.95 60.06,524.84 61.3,524.7 62.54,524.57 63.77,524.43 65.01,524.27 66.25,524.1 67.49,523.91 68.72,523.7 69.96,523.5 71.2,523.27 72.44,523.02 73.67,522.74 74.91,522.45 76.15,522.11 77.39,521.76 78.63,521.39 79.86,521.01 81.1,520.59 82.34,520.13 83.58,519.66 84.81,519.13 86.05,518.57 87.29,517.98 88.53,517.35 89.77,516.67 91,515.98 92.24,515.23 93.48,514.42 94.72,513.56 95.95,512.67 97.19,511.73 98.43,510.74 99.67,509.72 100.9,508.65 102.14,507.53 103.38,506.36 104.62,505.14 105.86,503.87 107.09,502.56 108.33,501.18 109.57,499.78 110.81,498.33 112.04,496.83 113.28,495.3 114.52,493.7 115.76,492.09 117,490.43 118.23,488.74 119.47,487.02 120.71,485.25 121.95,483.46 123.18,481.6 124.42,479.74 125.66,477.89 126.9,475.97 128.13,474.04 129.37,472.08 130.61,470.12 131.85,468.17 133.09,466.18 134.32,464.2 135.56,462.18 136.8,460.19 138.04,458.19 139.27,456.2 140.51,454.21 141.75,452.24 142.99,450.28 144.23,448.28 145.46,446.35 146.7,444.45 147.94,442.58 149.18,440.73 150.41,438.9 151.65,437.11 152.89,435.39 154.13,433.69 155.36,432.04 156.6,430.42 157.84,428.87 159.08,427.37 160.32,425.91 161.55,424.51 162.79,423.17 164.03,421.97 165.27,420.8 166.5,419.68 167.74,418.67 168.98,417.68 170.22,416.79 171.45,415.99 172.69,415.29 173.93,414.65 175.17,414.12 176.41,413.64 177.64,413.26 178.88,412.97 180.12,412.77 181.36,412.67 182.59,412.65 183.83,412.71 185.07,412.85 186.31,413.06 187.55,413.4 188.78,413.76 190.02,414.25 191.26,414.78 192.5,415.37 193.73,416.05 194.97,416.8 196.21,417.56 197.45,418.45 198.68,419.39 199.92,420.39 201.16,421.43 202.4,422.58 203.64,423.75 204.87,424.98 206.11,426.23 207.35,427.51 208.59,428.82 209.82,430.17 211.06,431.55 212.3,432.99 213.54,434.41 214.78,435.88 216.01,437.38 217.25,438.91 218.49,440.42 219.73,441.97 220.96,443.54 222.2,445.11 223.44,446.69 224.68,448.25 225.91,449.85 227.15,451.45 228.39,453.04 229.63,454.64 230.87,456.23 232.1,457.81 233.34,459.37 234.58,460.97 235.82,462.49 237.05,463.94 238.29,465.35 239.53,466.76 240.77,468.13 242,469.52 243.24,470.89 244.48,472.26 245.72,473.58 246.96,474.88 248.19,476.19 249.43,477.48 250.67,478.76 251.91,479.98 253.14,481.22 254.38,482.45 255.62,483.65 256.86,484.82 258.1,486.01 259.33,487.21 260.57,488.39 261.81,489.57 263.05,490.7 264.28,491.82 265.52,492.93 266.76,494.01 268,495.07 269.23,496.1 270.47,497.1 271.71,498.1 272.95,499.05 274.19,499.99 275.42,500.92 276.66,501.82 277.9,502.67 279.14,503.53 280.37,504.36 281.61,505.17 282.85,505.95 284.09,506.71 285.33,507.43 286.56,508.14 287.8,508.83 289.04,509.62 290.28,510.43 291.51,511.19 292.75,511.93 293.99,512.64 295.23,513.33 296.46,513.97 297.7,514.59 298.94,515.2 300.18,515.78 301.42,516.33 302.65,516.86 303.89,517.36 305.13,517.84 306.37,518.29 307.6,518.75 308.84,519.16 310.08,519.56 311.32,519.93 312.56,520.28 313.79,520.62 315.03,520.93 316.27,521.22 317.51,521.5 318.74,521.77 319.98,521.97 321.22,522.18 322.46,522.37 323.69,522.55 324.93,522.72 326.17,522.9 327.41,523.05 328.65,523.2 329.88,523.36 331.12,523.51 332.36,523.64 333.6,523.77 334.83,523.9 336.07,524.01 337.31,524.12 338.55,524.23 339.78,524.33 341.02,524.42 342.26,524.5 343.5,524.6 344.74,524.69 345.97,524.79 347.21,524.88 348.45,524.95 349.69,525.03 350.92,525.1 352.16,525.18 353.4,525.23 354.64,525.3 355.88,525.36 357.11,525.44 358.35,525.49 359.59,525.55 360.83,525.61 362.06,525.66 363.3,525.7 364.54,525.73 365.78,525.77 367.01,525.81 368.25,525.83 369.49,525.86 370.73,525.89 371.97,525.92 373.2,525.95 374.44,525.98 375.68,525.99 376.92,526.02 378.15,526.04 379.39,526.06 380.63,526.1 381.87,526.11 383.11,526.13 384.34,526.14 385.58,526.15 386.82,526.14 388.06,526.16 389.29,526.17 390.53,526.18 391.77,526.19 393.01,526.19 394.24,526.22 395.48,526.22 396.72,526.23 397.96,526.24 399.2,526.25 400.43,526.25 401.67,526.26 402.91,526.28 404.15,526.28 405.38,526.28 406.62,526.28 407.86,526.29 409.1,526.3 410.34,526.3" fill="none" stroke="#1f77b4" stroke-width="1.95" stroke-linejoin="round" clip-path="url(#cl2)"/>
<polyline points="49.43,525.73 50.6,525.69 51.76,525.64 52.93,525.59 54.1,525.53 55.26,525.46 56.43,525.39 57.59,525.31 58.76,525.22 59.93,525.13 61.09,525.02 62.26,524.91 63.43,524.78 64.59,524.65 65.76,524.49 66.92,524.32 68.09,524.14 69.26,523.94 70.42,523.71 71.59,523.47 72.75,523.2 73.92,522.92 75.09,522.61 76.25,522.27 77.42,521.93 78.58,521.54 79.75,521.13 80.92,520.71 82.08,520.25 83.25,519.77 84.42,519.26 85.58,518.72 86.75,518.14 87.91,517.53 89.08,516.89 90.25,516.23 91.41,515.52 92.58,514.79 93.74,514.01 94.91,513.22 96.08,512.37 97.24,511.5 98.41,510.61 99.58,509.66 100.74,508.68 101.91,507.65 103.07,506.58 104.24,505.48 105.41,504.33 106.57,503.14 107.74,501.93 108.9,500.68 110.07,499.39 111.24,498.04 112.4,496.66 113.57,495.24 114.73,493.78 115.9,492.28 117.07,490.74 118.23,489.18 119.4,487.56 120.57,485.9 121.73,484.22 122.9,482.53 124.06,480.81 125.23,479.06 126.4,477.28 127.56,475.47 128.73,473.62 129.89,471.75 131.06,469.91 132.23,468.02 133.39,466.15 134.56,464.24 135.72,462.33 136.89,460.39 138.06,458.48 139.22,456.57 140.39,454.65 141.56,452.74 142.72,450.82 143.89,448.94 145.05,447.09 146.22,445.22 147.39,443.38 148.55,441.56 149.72,439.77 150.88,438.01 152.05,436.33 153.22,434.63 154.38,432.94 155.55,431.34 156.71,429.74 157.88,428.18 159.05,426.69 160.21,425.25 161.38,423.84 162.55,422.34 163.71,420.75 164.88,419.19 166.04,417.59 167.21,416.07 168.38,414.57 169.54,413.08 170.71,411.6 171.87,410.2 173.04,408.81 174.21,407.41 175.37,406.05 176.54,404.84 177.7,403.68 178.87,402.62 180.04,401.68 181.2,400.83 182.37,400.19 183.54,399.72 184.7,399.41 185.87,399.71 187.03,400.53 188.2,401.46 189.37,402.56 190.53,403.76 191.7,405.09 192.86,406.51 194.03,408.01 195.2,409.53 196.36,411.08 197.53,412.65 198.69,414.24 199.86,415.83 201.03,417.4 202.19,418.99 203.36,420.6 204.53,422.21 205.69,423.79 206.86,425.37 208.02,426.93 209.19,428.35 210.36,429.71 211.52,431.13 212.69,432.53 213.85,433.98 215.02,435.46 216.19,436.93 217.35,438.43 218.52,439.95 219.69,441.5 220.85,443.05 222.02,444.59 223.18,446.18 224.35,447.72 225.52,449.3 226.68,450.88 227.85,452.47 229.01,454.06 230.18,455.64 231.35,457.27 232.51,458.85 233.68,460.38 234.84,461.96 236.01,463.43 237.18,464.83 238.34,466.25 239.51,467.65 240.68,469.03 241.84,470.38 243.01,471.75 244.17,473.07 245.34,474.38 246.51,475.66 247.67,476.9 248.84,478.13 250,479.34 251.17,480.55 252.34,481.72 253.5,482.86 254.67,483.98 255.83,485.09 257,486.17 258.17,487.26 259.33,488.38 260.5,489.47 261.67,490.54 262.83,491.59 264,492.61 265.16,493.6 266.33,494.58 267.5,495.55 268.66,496.49 269.83,497.4 270.99,498.3 272.16,499.17 273.33,500.03 274.49,500.84 275.66,501.66 276.82,502.45 277.99,503.23 279.16,503.98 280.32,504.71 281.49,505.44 282.66,506.15 283.82,506.85 284.99,507.52 286.15,508.18 287.32,508.82 288.49,509.5 289.65,510.24 290.82,510.97 291.98,511.66 293.15,512.33 294.32,512.99 295.48,513.6 296.65,514.2 297.81,514.77 298.98,515.33 300.15,515.87 301.31,516.38 302.48,516.89 303.65,517.38 304.81,517.85 305.98,518.3 307.14,518.72 308.31,519.13 309.48,519.53 310.64,519.92 311.81,520.28 312.97,520.63 314.14,520.97 315.31,521.29 316.47,521.59 317.64,521.88 318.81,522.16 319.97,522.38 321.14,522.6 322.3,522.82 323.47,523.01 324.64,523.19 325.8,523.37 326.97,523.54 328.13,523.69 329.3,523.84 330.47,523.98 331.63,524.13 332.8,524.25 333.96,524.37 335.13,524.48 336.3,524.58 337.46,524.66 338.63,524.73 339.8,524.79 340.96,524.86 342.13,524.91 343.29,524.97 344.46,525.01 345.63,525.05 346.79,525.11 347.96,525.14 349.12,525.16 350.29,525.2 351.46,525.22 352.62,525.25 353.79,525.27 354.95,525.3 356.12,525.33 357.29,525.35 358.45,525.37 359.62,525.38 360.79,525.39 361.95,525.41 363.12,525.44 364.28,525.47 365.45,525.48 366.62,525.53 367.78,525.55 368.95,525.58 370.11,525.6 371.28,525.63 372.45,525.65 373.61,525.69 374.78,525.72 375.94,525.77 377.11,525.8 378.28,525.83 379.44,525.86 380.61,525.9 381.78,525.92 382.94,525.95 384.11,525.99 385.27,526.03 386.44,526.06 387.61,526.09 388.77,526.13 389.94,526.16 391.1,526.18 392.27,526.21 393.44,526.23 394.6,526.28 395.77,526.3 396.93,526.3 398.1,526.3" fill="none" stroke="#1f77b4" stroke-width="1.2" stroke-linejoin="round" stroke-dasharray="7.68 1.92 1.2 1.92" clip-path="url(#cl2)"/>
<g opacity="0.35" fill="none" stroke="#1f77b4" stroke-linejoin="bevel" clip-path="url(#cr2)"><g transform="scale(0.1)"><path d="M5720 4938v-186l10-62v330l10 0v-287l10-58v253l10 99v-404l10-40v444l10 26v-470l10 73v293l10 9v-288l10 0v264l10-6v-228l10-88v323l10 8v-243l10 4v234l10 80v-314l10-92v406l10-54v-307l10-17v319l10 19v-606l10 0v606l10 43v-446l10-25v471l10-46v-376l10 0v471l10-41v-401l10 0v337l10 13v-394l10 133v309l10 14v-404l10-2v353l10-25v-328l10 22v303l10-33v-299l10 0v294l10 114v-364l10-59v397l10 0v-320l10-106v468l10 4v-472l10 44v428l10-119v-353l10 0v477l10-64v-428l10 0v543l10-88v-328l10-24v412l10 0v-364l10-79v437l10-2v-435l10-56v491l10-77v-414l10 31v327l10 38v-297l10-49v291l10 15v-346l10 54v292l10 2v-323l10 69v352l10 0v-352l10-185v485l10-5v-480l10 141v294l10-47v-288l10-10v308l10 137v-346l10-162v508l10 41v-458l10-77v489l10 0v-489l10 95v336l10 0v-336l10 11v247l10 10v-323l10 0v338l10 1v-326l10 47v288l10 90v-378l10 67v285l10 0v-497l10 0v472l10 0v-329l10-111v431l10 59v-470l10 0v470l10-29v-386l10-116v534l10-128v-406l10 170v283l10 79v-373l10-3v376l10-35v-503l10 0v437l10 268v-1184l10 0v1184l10-231v-290l10-53v343l10-22v-321l10-14v315l10 0v-411l10 0v448l10 0v-289l10-63v379l10 10v-389l10 8v332l10 2v-354l10 0v354l10-14v-340l10-117v430l10 29v-459l10 137v395l10 0v-398l10 92v242l10 3v-295l10-4v299l10 84v-411l10 0v411l10 161v-478l10-145v623l10-269v-354l10-27v360l10 65v-425l10 150v235l10 9v-227l10 41v279l10 0v-275l10-143v368l10 64v-420l10-107v478l10 35v-513l10 130v383l10-74v-448l10 0v448l10-7v-245l10-119v393l10-62v-338l10 36v316l10 140v-456l10 68v301l10 0v-439l10 0v367l10 55v-317l10-41v358l10-8v-366l10 0v501l10 0v-456l10 15v300l10-3v-308l10 0v308l10-65v-293l10 0v355l10 9v-309l10 35v331l10 0v-428l10 0v395l10-4v-362l10 0v398l10-135v-179l10 34v265l10-74v-251l10-103v377l10 138v-515l10 100v337l10 17v-364l10 0v433l10 0v-457l10 67v338l10-72v-302l10-44v332l10 3v-272l10-49v321l10 34v-374l10-126v500l10-7v-493l10 43v520l10 0v-520l10 81v329l10 25v-287l10 45v281l10 0v-481l10 0v470l10-25v-315l10 0v315l10-15v-269l10-25v292l10-57v-410l10 0v545l10-22v-269l10-114v408l10 59v-592l10 0v592l10-110v-343l10-14v357l10-53v-288l10-79v472l10-11v-410l10 0v452l10 0v-457l10 0v331l10-6v-287l10-315v578l10 21v-342l10 0v351l10 98v-520l10 0v397l10 115v-416l10 123v293l10-125v-247l10-14v289l10 79v-470l10 0v394l10 0v-233l10-201v441l10 63v-504l10 61v443l10-60v-296l10-115v485l10 0v-485l10-12v449l10 45v-494l10 99v395l10 76v-440l10-66v448l10-42v-327l10-19v290l10 13v-303l10 20v331l10 14v-328l10-13v450l10-103v-423l10 15v400l10-51v-292l10-57v451l10 0v-441l10 9v343l10-13v-274l10 0v274l10-7v-205l10-90v300l10 0v-309l10 54v217l10 33v-423l10 0v456l10 0v-374l10 82v287l10-6v-378l10-394v772l10-50v-290l10 0v422l10 0v-386l10-137v499l10-92v-359l10 79v362l10 7v-388l10 0v388l10-100v-376l10 67v329l10 33v-298l10-4v302l10 18v-321l10 86v250l10 0v-344l10-46v342l10 0v-433l10 0v436l10 0v-363l10 9v299l10 52v-351l10 114v237l10 19v-332l10 0v332l10-35v-476l10 0v476l10-70v-243l10-55v454l10-63v-391l10 98v318l10 0v-318l10 35v287l10 57v-456l10 0v456l10 0v-349l10-148v363l10 145v-327l10-80v407l10-58v-450l10 52v320l10 81v-419l10 0v396l10 21v-437l10 28v409l10-18v-347l10 0v330l10-42v-282l10-176v458l10 41v-499l10 224v275l10 30v-307l10-56v278l10 56v-334l10 51v301l10 0v-349l10-4v296l10-36v-260l10-77v436l10 33v-403l10-8v411l10-92v-498l10 0v498l10-24v-464l10 60v466l10 0v-296l10 0v274l10 0v-464l10 187v241l10 137v-403l10 29v374l10-74v-381l10 19v391l10 0v-353l10 22v335l10-49v-325l10-66v391l10 127v-518l10 70v463l10-133v-294l10-92v435l10 0v-435l10-12v361l10 0v-310l10-65v373l10 0v-373l10 57v388l10 0v-311l10-49v393l10 0v-395l10 0v365l10-55v-296l10-105v405l10 0v-380l10 0v304l10 96v-364l10-1v360l10 77v-556l10 0v469l10 35v-346l10 9v337l10-37v-273l10 0v314l10 19v-281l10-49v330l10 0v-354l10-161v438l10 18v-456l10 145v330l10-60v-270l10 38v364l10-51v-484l10 104v329l10 0v-287l10-1v371l10-57v-262l10-100v322l10 0v-384l10 16v417l10 0v-435l10 0v427l10 0v-304l10 75v236l10 20v-401l10-71v472l10 54v-391l10-174v490l10 0v-353l10-26v331l10-9v-377l10 75v409l10 0v-409l10-48v434l10-66v-368l10-15v383l10-14v-280l10-59v368l10 15v-484l10 103v452l10-35v-417l10 178v239l10-17v-379l10-28v349l10 58v-439l10 148v274l10-8v-355l10 39v316l10 73v-363l10-134v497l10-20v-477l10 57v319l10 20v-339l10 5v453l10 0v-426l10 0v379l10 0v-432l10 58v329l10-29v-355l10-41v408l10 0v-408l10 169v202l10 103v-371l10-15v386l10-1v-373l10 0v294l10 45v-374l10-88v536l10 0v-374l10-111v380l10 17v-397l10 59v352l10 85v-437l10-74v425l10 0v-511l10 136v366l10 63v-429l10 140v353l10-61v-454l10 32v422l10-86v-336l10-73v421l10 0v-483l10 0v513l10 0v-397l10 32v306l10-1v-280l10-10v334l10-22v-312l10-19v420l10 0v-420l10 32v356l10 0v-440l10 0v328l10 30v-273l10-4v277l10 2v-265l10-126v391l10 95v-448l10 0v448l10-86v-323l10 16v368l10-66v-300l10-12v343l10 0v-340l10-24v345l10 0v-359l10 104v224l10 5v-362l10 0v325l10 0v-286l10 0v437l10 0v-407l10 48v305l10 32v-326l10 11v315l10-32v-310l10-67v355l10 14v-369l10 108v261l10-52v-275l10 6v311l10 212v-520l10-95v615l10-202v-413l10 1v368l10 30v-354l10-12v385l10 0v-385l10 22v306l10 13v-319l10 82v319l10-41v-302l10-90v386l10 25v-411l10 0v375l10 0v-397l10 0v496l10 0v-460l10 36v376l10-62v-314l10 70v248l10 57v-428l10 66v369l10 0v-426l10 0v303l10 81v-347l10-125v479l10 42v-521l10 157v395l10 0v-395l10 2v359l10-46v-313l10-71v366l10 113v-624l10 0v624l10-76v-373l10-207v580l10-34v-546l10 149v446l10 8v-365l10-28v393l10-80v-313" stroke-width="13"/></g></g>
<g opacity="0.35" fill="none" stroke="#1f77b4" stroke-linejoin="bevel" clip-path="url(#cr2)"><g transform="scale(0.1)"><path d="M5720 5013v-555l10 187v247l10 102v-322l10-84v383l10 3v-255l10-60v457l10 0v-855l10 0v688l10 10v-365l10 0v365l10 22v-230l10-41v271l10 20v-423l10 0v412l10 1v-360l10-87v447l10 45v-492l10 136v356l10-31v-296l10 0v328l10-51v-306l10-364v687l10 0v-687l10 313v338l10 96v-558l10 0v426l10 16v-313l10 18v295l10-117v-357l10 185v226l10 180v-406l10-184v590l10-3v-587l10 189v295l10 0v-393l10 0v386l10 0v-418l10 99v404l10 16v-388l10 0v388l10-63v-318l10-12v372l10 0v-406l10-33v369l10 67v-493l10 121v372l10 0v-372l10-148v520l10-24v-416l10 37v309l10 79v-359l10-179v470l10 61v-405l10-61v466l10 19v-485l10 194v250l10 38v-423l10 27v416l10 0v-401l10 26v297l10-65v-315l10 0v363l10-57v-295l10 41v298l10-3v-312l10 0v339l10 3v-324l10-27v416l10-4v-706l10 0v708l10-63v-376l10 13v375l10 60v-371l10 1v250l10 25v-350l10-237v630l10-53v-577l10 197v402l10-10v-361l10 24v324l10 54v-392l10 0v392l10-31v-413l10 0v561l10 0v-601l10-3v499l10 17v-420l10-22v425l10 75v-534l10 0v450l10-63v-325l10 0v289l10 106v-416l10-98v514l10-6v-301l10 0v301l10-77v-297l10-1v421l10 0v-548l10 114v396l10 0v-417l10 0v502l10 0v-579l10 162v308l10-31v-273l10-204v478l10 28v-506l10 140v366l10-2v-366l10 116v288l10-33v-277l10 29v372l10-177v-327l10-13v427l10 39v-466l10 5v461l10-74v-387l10 5v441l10 0v-451l10 17v379l10-43v-336l10 50v294l10 109v-419l10 0v380l10 0v-418l10 31v343l10 10v-358l10-103v447l10-52v-395l10 155v261l10 56v-404l10 0v430l10 33v-376l10-7v383l10-21v-421l10-27v400l10 43v-338l10-165v503l10 0v-498l10 40v458l10 55v-513l10 111v402l10-83v-419l10 0v377l10 0v-283l10-155v435l10 38v-340l10 5v335l10 18v-280l10-3v344l10 0v-310l10-95v320l10-9v-498l10 201v311l10-22v-376l10 0v356l10-10v-324l10-136v540l10 0v-540l10 210v394l10 0v-401l10-107v480l10-44v-436l10-22v437l10 0v-430l10 0v429l10-72v-231l10 5v326l10 8v-449l10 0v449l10-9v-439l10 34v468l10 0v-762l10 248v457l10 12v-494l10 195v299l10-91v-379l10-19v446l10 21v-467l10 50v402l10-120v-252l10 0v349l10 37v-492l10 0v492l10-2v-406l10-60v418l10 0v-291l10-153v406l10-28v-547l10 0v643l10-78v-289l10 0v249l10 82v-304l10-105v482l10 0v-482l10 116v265l10 129v-457l10 0v457l10-82v-286l10 0v286l10-12v-363l10 0v350l10 88v-386l10-5v335l10 94v-488l10 0v488l10-54v-736l10 0v716l10-23v-429l10-116v554l10-42v-364l10 0v383l10 0v-377l10 94v301l10 0v-318l10-50v327l10-1v-326l10 29v344l10-59v-312l10-42v425l10 24v-376l10 0v310l10 19v-315l10-77v287l10 127v-418l10 0v342l10 28v-279l10 87v263l10 0v-343l10-15v256l10-4v-229l10 89v173l10 148v-356l10-152v508l10-100v-318l10-119v437l10-29v-408l10 56v352l10 17v-313l10-117v430l10-70v-334l10-37v396l10 0v-353l10 0v490l10-95v-400l10 0v363l10-23v-281l10-11v394l10 0v-487l10 68v379l10 62v-441l10 22v434l10 0v-394l10-127v368l10 138v-572l10 0v571l10-67v-321l10-61v491l10-117v-383l10 72v352l10 0v-311l10-31v300l10 43v-296l10-99v395l10-15v-380l10 11v383l10 10v-423l10-19v442l10-72v-375l10 0v358l10 133v-466l10 96v370l10 6v-482l10 0v482l10-65v-331l10-124v352l10 70v-422l10 91v290l10 52v-253l10-94v281l10 151v-432l10 92v340l10-50v-290l10-291v581l10-14v-327l10 77v250l10-13v-290l10-195v485l10-28v-457l10-9v470l10 108v-578l10 36v542l10 67v-646l10 101v381l10 5v-424l10-22v446l10 9v-294l10 0v276l10 23v-440l10 0v418l10-45v-315l10 19v361l10 14v-375l10-60v446l10 15v-461l10-43v516l10-56v-460l10 117v367l10 0v-343l10-73v370l10 121v-484l10 97v387l10-56v-376l10-34v387l10 0v-415l10-20v383l10 32v-415l10 28v387l10 108v-450l10 10v440l10-111v-315l10-99v403l10-35v-461l10 87v359l10 59v-418l10 38v380l10 20v-406l10 0v406l10 0v-391l10 25v366l10-2v-361l10 0v267l10 88v-299l10-5v304l10-70v-323l10 0v429l10 0v-322l10-127v410l10-60v-352l10 41v376l10 21v-361l10 6v355l10-101v-279l10-116v463l10 0v-538l10 0v509l10 148v-615l10 0v615l10-62v-379l10-123v502l10-66v-270l10 56v225l10 0v-322l10-163v478l10 0v-353l10 39v349l10 0v-409l10 89v307l10 1v-626l10 0v646l10 0v-390l10 18v453l10 0v-467l10-194v563l10-81v-482l10 35v471l10 0v-471l10 33v471l10 81v-598l10 20v578l10 42v-466l10 0v340l10 1v-408l10 0v412l10-16v-260l10-11v266l10 46v-373l10 0v331l10 0v-338l10-42v520l10 0v-520l10 147v235l10 25v-408l10 0v441l10 83v-463l10-146v609l10-177v-432l10 135v333l10 0v-403l10 0v446l10 0v-435l10 31v369l10-64v-328l10 3v302l10 69v-371l10 62v324l10 5v-329l10 30v349l10-50v-397l10 46v260l10 22v-267l10-149v476l10 0v-277l10-90v476l10-58v-418l10 93v316l10-39v-355l10-85v477l10 110v-587l10 72v515l10-219v-328l10-240v574l10 55v-629l10 230v399l10 25v-424l10 53v348l10 1v-315l10-65v390l10 64v-454l10 75v379l10-45v-360l10 0v318l10 35v-302l10-155v523l10 0v-412l10-108v453l10-7v-446l10-80v461l10 115v-576l10 186v413l10 0v-413l10 42v353l10 0v-390l10-8v328l10 9v-337l10 35v302l10 45v-316l10-29v320l10-51v-269l10-31v291l10 132v-390l10-83v380l10 27v-407l10-13v420l10 0v-400l10 33v389l10 0v-389l10 65v267l10 32v-341l10-40v418l10 0v-550l10 0v508l10 33v-435l10 0v382l10-26v-383l10 0v396l10 0v-345l10 0v292l10 54v-325l10 8v369l10 0v-400l10-19v390l10 59v-449l10 38v411l10-162v-249l10 62v212l10 84v-501l10 60v441l10-26v-321l10 51v270l10-50v-208l10-123v395l10 19v-371l10-55v398l10-4v-394l10 58v349l10 27v-407l10 0v407l10 5v-355l10-188v582l10 23v-605l10 156v449l10-97v-406l10 0v409l10 0v-464l10 156v345l10 59v-480l10 0v480l10-74v-313l10-147v428l10 61v-547l10 41v506l10 24v-530l10 66v464l10-70v-271l10-91v378l10 69v-447l10-121v568l10-77v-409l10-25v373l10 0v-373l10 44v394l10 0v-308l10-33v292l10 18v-348l10-22v323l10 0v-323" stroke-width="13" stroke-dasharray="13 21.45"/><path d="M5720 4852v-207m10 207v-126m10 183v-137m10 137v-152m10 195v-180m10 197v-243m10 226v-226m10 180v-241m10 269v-269m10 270v-244m10 208v-126m10 149v-171m10 176v-217m10 216v-241m10 226v-108m10 109v-256m10 261v-254m10 320v-221m10 167v-139m10 153v-214m10 186v-181m10 160v-214m10 261v-238m10 236v-278m10 231v-231m10 217v-232m10 277v-246m10 203v-201m10 146v-146m10 151v-139m10 201v-219m10 273v-284m10 278v-302m10 282v-221m10 211v-245m10 217v-228m10 228v-192m10 228v-148m10 159v-245m10 245v-245m10 235v-195m10 223v-207m10 122v-163m10 175v-175m10 196v-176m10 117v-146m10 247v-247m10 268v-370m10 345v-274m10 231v-222m10 241v-183m10 187v-219m10 211v-216m10 276v-281m10 282v-237m10 237v-186m10 125v-171m10 180v-191m10 228v-234m10 202v-229m10 180v-180m10 200v-276m10 267v-205m10 191v-144m10 140v-146m10 185v-214m10 200v-204m10 179v-226m10 286v-201m10 239v-353m10 302v-151m10 140v-225m10 215v-215m10 231v-191m10 195v-194m10 171v-298m10 261v-301m10 308v-168m10 220v-141m10 143v-143m10 135v-209m10 213v-209m10 199v-207m10 215v-207m10 241v-272m10 272v-290m10 250v-250m10 287v-264m10 313v-310m10 247v-264m10 231v-199m10 170v-170m10 195v-129m10 149v-329m10 352v-228m10 219v-216m10 126v-134m10 186v-234m10 266v-302m10 321v-296m10 324v-275m10 275v-244m10 254v-308m10 216v-146m10 170v-170m10 145v-313m10 356v-299m10 319v-228m10 160v-159m10 240v-212m10 186v-178m10 161v-160m10 160v-230m10 236v-267m10 268v-114m10 88v-172m10 186v-184m10 279v-279m10 253v-349m10 306v-256m10 212v-241m10 231v-137m10 199v-224m10 191v-166m10 215v-215m10 203v-205m10 156v-194m10 190v-191m10 176v-165m10 215v-214m10 213v-213m10 240v-229m10 239v-265m10 265v-256m10 207v-265m10 297v-333m10 333v-187m10 125v-344m10 344v-289m10 305v-274m10 296v-258m10 332v-225m10 144v-180m10 161v-226m10 245v-197m10 215v-243m10 241v-218m10 224v-185m10 210v-201m10 216v-204m10 165v-140m10 135v-168m10 144v-220m10 274v-226m10 183v-296m10 271v-286m10 271v-150m10 203v-183m10 182v-231m10 206v-206m10 216v-203m10 224v-188m10 171v-290m10 324v-219m10 220v-266m10 230v-239m10 204v-200m10 211v-160m10 200v-327m10 327v-295m10 324v-231m10 231v-277m10 271v-239m10 236v-207m10 200v-390m10 388v-173m10 122v-126m10 88v-114m10 241v-378m10 312v-261m10 203v-165m10 210v-210m10 213v-244m10 260v-247m10 247v-192m10 139v-162m10 162v-182m10 205v-231m10 213v-366m10 435v-276m10 219v-196m10 163v-166m10 197v-193m10 240v-231m10 222v-269m10 231v-227m10 261v-173m10 202v-197m10 201v-243m10 206v-227m10 193v-193m10 244v-167m10 172v-154m10 169v-240m10 256v-330m10 330v-310m10 246v-173m10 161v-191m10 232v-223m10 227v-304m10 214v-214m10 205v-171m10 228v-137m10 160v-180m10 186v-220m10 196v-277m10 294v-294m10 297v-189m10 159v-242m10 236v-219m10 311v-311m10 249v-224m10 224v-182m10 78v-196m10 290v-290m10 277v-223m10 223v-141m10 190v-148m10 148v-242m10 197v-218m10 221v-137m10 142v-93m10 130v-167m10 173v-196m10 173v-202m10 153v-153m10 191v-210m10 235v-274m10 281v-193m10 143v-210m10 199v-259m10 233v-208m10 264v-264m10 280v-340m10 369v-285m10 228v-194m10 188v-172m10 190v-190m10 251v-255m10 242v-218m10 232v-293m10 226v-220m10 212v-168m10 134v-163m10 196v-236m10 306v-306m10 264v-220m10 221v-278m10 278v-289m10 270v-207m10 226v-161m10 173v-218m10 177v-143m10 146v-166m10 166v-255m10 249v-163m10 198v-198m10 207v-258m10 221v-280m10 244v-208m10 220v-199m10 209v-161m10 253v-290m10 306v-306m10 282v-295m10 176v-185m10 254v-211m10 189v-172m10 158v-131m10 130v-175m10 208v-130m10 127v-170m10 168v-184m10 220v-220m10 215v-180m10 145v-119m10 119v-119m10 154v-228m10 206v-181m10 190v-264m10 268v-235m10 245v-247m10 250v-399m10 323v-172m10 232v-217m10 217v-344m10 377v-172m10 148v-179m10 192v-205m10 122v-218m10 241v-226m10 253v-210m10 166v-207m10 316v-267m10 267v-206m10 187v-376m10 354v-354m10 373v-262m10 250v-235m10 166v-235m10 267v-201m10 195v-106m10 107v-166m10 155v-244m10 240v-206m10 183v-222m10 225v-178m10 214v-271m10 271v-237m10 305v-214m10 172v-211m10 195v-260m10 245v-288m10 249v-161m10 161v-240m10 300v-300m10 336v-283m10 279v-328m10 298v-270m10 329v-317m10 196v-201m10 180v-149m10 207v-168m10 177v-172m10 170v-245m10 253v-238m10 305v-238m10 174v-216m10 184v-253m10 287v-273m10 297v-217m10 175v-170m10 139v-139m10 154v-258m10 291v-360m10 360v-215m10 273v-266m10 161v-160m10 243v-228m10 225v-223m10 164v-189m10 196v-113m10 118v-123m10 163v-290m10 281v-185m10 194v-230m10 230v-269m10 267v-231m10 208v-241m10 211v-267m10 222v-127m10 202v-170m10 122v-177m10 220v-235m10 185v-157m10 179v-173m10 210v-360m10 336v-263m10 335v-323m10 249v-193m10 255v-310m10 261v-261m10 266v-171m10 180v-214m10 230v-231m10 225v-226m10 226v-236m10 231v-235m10 255v-272m10 253v-298m10 216v-144m10 192v-165m10 188v-236m10 236v-165m10 231v-298m10 161v-198m10 226v-196m10 185v-182m10 204v-222m10 222v-316m10 365v-250m10 218v-217m10 187v-276m10 275v-176m10 227v-170m10 170v-237m10 260v-178m10 178v-216m10 141v-191m10 181v-205m10 230v-230m10 242v-189m10 237v-142m10 176v-225m10 205v-193m10 190v-190m10 187v-147m10 147v-259m10 248v-248m10 187v-216m10 175v-166m10 186v-189m10 264v-174m10 174v-300m10 263v-289m10 289v-218m10 222v-206m10 209v-268m10 255v-260m10 313v-278m10 256v-256m10 235v-202m10 185v-150m10 191v-206m10 231v-246m10 207v-210m10 210v-177m10 131v-223m10 289v-270m10 235v-227m10 227v-186m10 214v-160m10 186v-222m10 162v-245m10 293v-257m10 257v-205m10 174v-147m10 138v-186m10 175v-154m10 160v-174m10 232v-242m10 240v-279m10 279v-301m10 284v-347m10 329v-221m10 214v-212m10 131v-110m10 119v-120m10 136v-136m10 141v-147m10 161v-172m10 205v-205m10 241v-232m10 234v-234m10 169v-254m10 254v-192m10 207v-201m10 157v-157m10 181v-155m10 202v-197m10 152v-196m10 204v-257m10 344v-299m10 196v-196m10 179v-165m10 165v-125m10 116v-172m10 201v-201m10 221v-123m10 84v-159m10 138v-87m10 168v-174m10 218v-314m10 274v-278m10 263v-250m10 274v-170m10 155v-238m10 213v-227m10 267v-182m10 142v-227m10 331v-360m10 299v-155m10 179v-324m10 324v-258m10 233v-233m10 233v-170m10 157v-157m10 95v-114m10 165v-165m10 162v-170m10 255v-291m10 291v-290m10 233v-233m10 254v-228m10 236v-187m10 148v-195m10 234v-265m10 286v-274m10 200v-196m10 195v-109m10 104v-213m10 202v-202m10 248v-209m10 130v-180m10 180v-213m10 243v-281m10 248v-129" stroke-width="13"/></g></g>
<g opacity="0.35" fill="none" stroke="#1f77b4" stroke-linejoin="bevel" clip-path="url(#cr2)"><g transform="scale(0.1)"><path d="M5720 5068v-354l10-17v237l10 59v-424l10-11v435l10-52v-312l10-64v481l10-18v-387l10-113v500l10-147v-353l10 35v399l10 4v-403l10-32v472l10 0v-472l10 98v371l10 0v-293l10-60v341l10-45v-350l10 0v397l10 0v-420l10 47v523l10-152v-406l10-9v397l10-56v-341l10-2v343l10 92v-494l10 0v437l10-2v-364l10 0v364l10 27v-331l10 0v331l10 26v-442l10 14v445l10 0v-445l10 25v354l10 66v-399l10-6v426l10-131v-265l10 0v289l10 63v-404l10-105v462l10 14v-476l10 162v361l10-14v-473l10 0v437l10 42v-442l10 0v442l10-83v-385l10 0v535l10-61v-335l10 0v264l10 54v-276l10 40v236l10-64v-300l10-59v411l10 12v-423l10-14v437l10 9v-446l10 44v429l10 7v-507l10 39v468l10 2v-440l10 0v270l10 40v-309l10 0v300l10 40v-325l10-53v489l10 0v-489l10 129v209l10 120v-428l10 0v428l10-55v-370l10-45v415l10-10v-236l10-62v348l10 0v-348l10-16v361l10 0v-382l10 0v337l10 31v-317l10-64v381l10-53v-302l10 62v256l10-9v-306l10-93v399l10-53v-453l10 0v467l10-3v-252l10-54v358l10 0v-358l10-69v443l10 0v-443l10 50v371l10-30v-341l10 102v303l10-9v-254l10-105v364l10 9v-373l10 53v303l10 19v-320l10-76v395l10-35v-246l10-106v338l10 81v-419l10 104v317l10 18v-474l10 88v386l10-24v-404l10 0v409l10 0v-374l10 0v378l10 0v-406l10-69v512l10 0v-385l10-195v515l10-3v-498l10 33v404l10-34v-262l10 56v206l10 11v-317l10-20v337l10 60v-397l10 87v397l10 0v-397l10 53v186l10 155v-516l10 212v315l10-92v-482l10 0v453l10 57v-414l10 142v272l10 27v-371l10-234v603l10-94v-509l10 192v358l10-24v-318l10-48v366l10-1v-365l10 61v307l10-58v-436l10 0v505l10 45v-420l10-43v489l10 2v-491l10 120v284l10 0v-310l10 0v291l10 64v-325l10 0v294l10-60v-200l10-77v366l10 38v-404l10 42v362l10-6v-493l10 0v493l10-14v-485l10 0v470l10 22v-408l10 73v332l10-1v-342l10 28v376l10 0v-500l10 45v403l10-38v-365l10-115v448l10 16v-255l10-27v315l10 19v-334l10-159v531l10-20v-445l10 82v363l10-52v-383l10 79v294l10-12v-395l10 0v404l10 0v-388l10-39v398l10 18v-416l10 154v262l10-16v-246l10-110v404l10 0v-418l10 0v361l10 82v-364l10 18v389l10-139v-462l10 0v548l10 0v-372l10-10v307l10-25v-282l10-6v359l10 52v-551l10 46v505l10 29v-400l10-119v519l10-73v-446l10 104v342l10-15v-316l10 65v326l10 0v-326l10-190v443l10-6v-312l10-96v461l10 0v-461l10 31v377l10 0v-336l10-52v345l10-6v-339l10 113v241l10 23v-405l10 0v359l10 106v-407l10-48v455l10 70v-456l10 5v451l10-101v-371l10 103v268l10 78v-507l10 0v507l10-69v-499l10 133v350l10-29v-321l10 53v268l10 0v-369l10-259v754l10-88v-666l10 293v428l10-100v-281l10-244v580l10 0v-580l10 129v427l10 18v-365l10 0v480l10-163v-366l10 0v406l10 0v-294l10-82v440l10 0v-389l10-81v470l10-59v-587l10-96v712l10-92v-313l10 26v412l10 0v-446l10 8v423l10-114v-317l10-67v363l10 118v-434l10-9v443l10 32v-534l10 0v519l10-45v-560l10 222v379l10 4v-383l10 43v340l10 23v-486l10 0v500l10-142v-327l10 0v327l10 144v-464l10 40v424l10 10v-415l10 43v271l10-41v-273l10 0v297l10 7v-325l10-63v430l10 0v-319l10 0v298l10-12v-331l10-51v486l10 0v-486l10 53v292l10 96v-458l10 0v458l10-38v-344l10 66v226l10-14v-345l10 0v467l10-168v-303l10 117v371l10 62v-658l10 181v477l10-44v-469l10 0v469l10-78v-516l10 110v356l10 0v-356l10-6v461l10 0v-461l10-57v412l10 55v-524l10 140v384l10-9v-289l10-65v354l10 37v-487l10 63v424l10-59v-507l10 0v507l10 54v-315l10-76v398l10 0v-301l10-131v360l10 21v-381l10-26v409l10 84v-585l10 0v440l10 16v-329l10 35v248l10 34v-485l10 0v474l10 104v-397l10 32v365l10 24v-517l10 0v517l10-26v-317l10-103v386l10-4v-382l10-6v388l10-35v-353l10-44v453l10-107v-255l10 0v355l10 0v-460l10 0v472l10-101v-272l10 9v363l10 51v-568l10 98v470l10-96v-321l10 44v366l10-105v-325l10-14v406l10 0v-312l10-12v238l10 51v-452l10 17v512l10 0v-428l10-37v399l10 72v-485l10 0v370l10 17v-416l10 124v299l10-8v-322l10-184v492l10-16v-476l10 158v381l10-55v-452l10 0v515l10-52v-381l10 0v416l10 0v-302l10-42v292l10-6v-397l10-87v435l10 171v-482l10 0v482l10-17v-415l10 27v309l10 45v-354l10 21v328l10-20v-416l10 9v401l10 0v-288l10-69v403l10 0v-403l10-60v406l10 6v-412l10 121v435l10 0v-454l10-66v410l10-80v-287l10-72v503l10 0v-503l10-23v357l10 139v-502l10 0v502l10-15v-429l10 18v292l10 14v-300l10-47v426l10 61v-487l10-29v432l10-67v-365l10 62v247l10 80v-372l10 0v393l10 15v-351l10 0v385l10 0v-346l10-2v431l10-50v-381l10 21v351l10-86v-236l10-150v508l10-93v-415l10 19v339l10 76v-445l10 0v376l10 79v-316l10-135v451l10-20v-551l10 162v389l10 35v-342l10 11v331l10-30v-301l10 33v268l10-33v-289l10 21v298l10 41v-446l10 0v408l10 17v-348l10 2v232l10 173v-405l10 0v405l10-66v-334l10-8v323l10-63v-382l10-117v517l10 114v-631l10 7v624l10-133v-491l10 167v339l10 72v-411l10 30v381l10-41v-358l10 7v392l10 0v-577l10 0v571l10-69v-378l10 24v380l10 139v-500l10 0v495l10 0v-462l10 1v359l10 98v-462l10 0v306l10 95v-275l10-35v310l10-27v-341l10-3v367l10 22v-396l10 51v345l10-94v-613l10 0v794l10 0v-562l10 0v430l10 0v-304l10-40v319l10-4v-302l10 17v345l10 10v-369l10-8v380l10-7v-373l10 67v344l10-133v-315l10 64v332l10 54v-356l10-309v665l10-128v-537l10 195v320l10 80v-530l10 0v570l10 25v-504l10 0v473l10 0v-394l10 0v305l10 149v-850l10 291v559l10-104v-455l10 31v424l10 49v-398l10 0v355l10 12v-422l10 0v422l10-48v-238l10-237v475l10-19v-456l10 80v368l10 36v-404l10-45v449l10-16v-310l10 0v310l10-11v-291l10-17v311l10 45v-404l10 0v423l10 22v-428l10 80v348l10-4v-389l10 0v409l10 0v-391l10-64v488l10 0v-491l10 0v421l10-23v-346l10-51v301l10-1v-300l10 66v324l10 100v-424l10-94v518l10-63v-455l10 10v474l10-79v-451l10 0v554l10 0v-438l10 13v365l10 103v-468" stroke-width="13" stroke-dasharray="48.1 20.8"/><path d="M5720 4908v-155m10 178v-192m10 199v-250m10 253v-340m10 334v-245m10 242v-341m10 329v-189m10 242v-230m10 131v-346m10 409v-287m10 312v-296m10 308v-308m10 302v-339m10 339v-299m10 319v-281m10 203v-203m10 199v-259m10 312v-318m10 318v-318m10 277v-268m10 320v-368m10 234v-254m10 329v-284m10 262v-182m10 211v-347m10 362v-327m10 307v-222m10 193v-197m10 197v-227m10 251v-248m10 284v-279m10 335v-335m10 316v-384m10 346v-254m10 253v-242m10 317v-326m10 213v-213m10 234v-236m10 258v-258m10 245v-281m10 280v-302m10 330v-306m10 317v-399m10 382v-382m10 382v-225m10 187v-256m10 252v-264m10 310v-274m10 274v-261m10 190v-173m10 268v-221m10 221v-211m10 142v-282m10 302v-309m10 312v-261m10 160v-221m10 283v-283m10 408v-370m10 370v-427m10 408v-425m10 297v-186m10 166v-221m10 258v-258m10 260v-285m10 316v-256m10 281v-370m10 370v-370m10 305v-171m10 180v-282m10 289v-257m10 257v-156m10 199v-355m10 355v-224m10 229v-229m10 226v-271m10 205v-218m10 289v-316m10 296v-266m10 248v-235m10 235v-312m10 297v-204m10 235v-235m10 230v-251m10 250v-278m10 203v-190m10 225v-241m10 221v-197m10 256v-257m10 271v-342m10 304v-304m10 346v-354m10 348v-348m10 317v-240m10 302v-269m10 266v-233m10 199v-217m10 259v-287m10 268v-290m10 278v-240m10 246v-246m10 232v-227m10 219v-289m10 294v-231m10 240v-220m10 222v-267m10 317v-317m10 317v-369m10 388v-362m10 340v-340m10 263v-173m10 271v-368m10 368v-368m10 354v-306m10 275v-474m10 474v-398m10 322v-322m10 313v-217m10 222v-189m10 160v-160m10 198v-306m10 308v-236m10 306v-292m10 292v-196m10 103v-117m10 263v-313m10 313v-249m10 135v-299m10 248v-364m10 449v-333m10 389v-243m10 243v-271m10 229v-293m10 266v-279m10 280v-280m10 273v-242m10 246v-336m10 336v-336m10 355v-301m10 242v-245m10 239v-255m10 341v-337m10 337v-399m10 463v-369m10 254v-217m10 190v-190m10 177v-172m10 223v-205m10 178v-217m10 214v-195m10 192v-216m10 311v-314m10 324v-331m10 268v-330m10 401v-350m10 327v-424m10 424v-424m10 352v-272m10 370v-313m10 226v-244m10 288v-247m10 258v-214m10 224v-317m10 238v-238m10 229v-190m10 164v-159m10 251v-251m10 284v-279m10 298v-383m10 373v-373m10 343v-241m10 228v-259m10 256v-282m10 269v-287m10 300v-355m10 356v-306m10 247v-321m10 377v-358m10 342v-227m10 177v-196m10 260v-283m10 313v-400m10 340v-209m10 209v-257m10 346v-294m10 181v-229m10 242v-242m10 287v-319m10 274v-282m10 267v-228m10 304v-296m10 224v-265m10 356v-409m10 409v-281m10 282v-383m10 370v-341m10 332v-306m10 283v-283m10 301v-247m10 249v-252m10 246v-401m10 350v-232m10 276v-303m10 362v-362m10 292v-258m10 221v-221m10 227v-311m10 286v-275m10 299v-216m10 217v-217m10 208v-207m10 234v-233m10 242v-336m10 339v-286m10 286v-286m10 267v-294m10 290v-184m10 231v-375m10 355v-355m10 368v-400m10 400v-296m10 275v-253m10 253v-253m10 211v-224m10 309v-417m10 355v-355m10 366v-275m10 275v-263m10 300v-358m10 358v-427m10 404v-238m10 228v-260m10 263v-263m10 239v-319m10 358v-369m10 369v-257m10 252v-295m10 333v-273m10 273v-273m10 227v-286m10 329v-587m10 514v-280m10 254v-236m10 382v-423m10 367v-343m10 200v-226m10 288v-331m10 447v-389m10 338v-338m10 403v-453m10 419v-318m10 308v-318m10 318v-288m10 257v-263m10 318v-284m10 265v-317m10 255v-249m10 249v-249m10 202v-270m10 270v-219m10 273v-265m10 265v-258m10 266v-187m10 162v-205m10 217v-255m10 292v-307m10 314v-325m10 258v-180m10 195v-198m10 245v-312m10 329v-334m10 307v-305m10 272v-271m10 260v-257m10 282v-280m10 280v-250m10 242v-195m10 190v-292m10 308v-239m10 173v-246m10 265v-190m10 320v-332m10 332v-350m10 321v-339m10 359v-350m10 276v-293m10 293v-293m10 316v-292m10 321v-321m10 349v-337m10 259v-323m10 338v-341m10 290v-222m10 297v-184m10 184v-289m10 223v-202m10 273v-329m10 192v-192m10 305v-340m10 340v-228m10 278v-293m10 310v-239m10 155v-240m10 281v-369m10 374v-405m10 416v-416m10 327v-294m10 313v-185m10 150v-227m10 241v-241m10 222v-260m10 301v-201m10 188v-218m10 222v-275m10 394v-338m10 275v-247m10 247v-283m10 218v-278m10 247v-281m10 283v-245m10 313v-269m10 204v-236m10 311v-311m10 324v-315m10 341v-400m10 298v-218m10 231v-220m10 320v-363m10 290v-295m10 295v-286m10 314v-272m10 184v-189m10 195v-261m10 312v-208m10 165v-163m10 202v-363m10 414v-351m10 362v-347m10 320v-320m10 304v-370m10 340v-264m10 242v-223m10 267v-264m10 274v-288m10 279v-318m10 295v-302m10 326v-291m10 261v-282m10 306v-227m10 229v-202m10 240v-290m10 290v-268m10 166v-209m10 256v-298m10 228v-318m10 348v-251m10 405v-415m10 360v-322m10 265v-198m10 271v-328m10 308v-302m10 283v-388m10 383v-296m10 296v-251m10 265v-301m10 294v-305m10 305v-371m10 374v-374m10 374v-261m10 298v-325m10 245v-264m10 251v-268m10 354v-354m10 354v-328m10 225v-264m10 378v-359m10 320v-375m10 329v-311m10 284v-278m10 277v-219m10 320v-308m10 286v-374m10 284v-275m10 242v-247m10 226v-160m10 158v-245m10 354v-348m10 363v-290m10 330v-319m10 319v-302m10 298v-230m10 267v-358m10 343v-255m10 122v-169m10 203v-208m10 225v-233m10 206v-276m10 290v-343m10 310v-233m10 302v-229m10 270v-312m10 276v-410m10 329v-205m10 284v-224m10 187v-232m10 237v-189m10 189v-173m10 149v-217m10 268v-228m10 271v-409m10 348v-266m10 231v-243m10 227v-174m10 174v-172m10 284v-334m10 315v-222m10 165v-264m10 233v-235m10 260v-411m10 411v-411m10 391v-307m10 324v-294m10 296v-296m10 349v-289m10 289v-305m10 272v-325m10 351v-263m10 286v-380m10 310v-365m10 365v-304m10 293v-288m10 347v-263m10 265v-315m10 328v-351m10 351v-238m10 186v-250m10 250v-250m10 312v-195m10 203v-222m10 182v-196m10 139v-244m10 338v-341m10 341v-293m10 240v-472m10 522v-522m10 522v-365m10 358v-291m10 234v-225m10 266v-302m10 298v-240m10 228v-228m10 304v-290m10 229v-298m10 281v-209m10 197v-179m10 155v-226m10 247v-223m10 260v-200m10 200v-517m10 479v-479m10 460v-308m10 339v-339m10 365v-309m10 381v-374m10 315v-221m10 221v-278m10 212v-255m10 329v-326m10 326v-412m10 396v-407m10 418v-367m10 343v-266m10 266v-310m10 346v-346m10 298v-343m10 343v-214m10 207v-307m10 305v-305m10 283v-239m10 286v-314m10 297v-297m10 213v-154m10 233v-293m10 230v-223m10 253v-253m10 289v-236m10 192v-298m10 406v-326m10 314v-294m10 272v-267m10 319v-371m10 287v-248m10 235v-238m10 294v-394m10 394v-345m10 285v-250m10 214v-245m10 226v-226m10 315v-302m10 365v-365m10 365v-310m10 247v-330m10 327v-342m10 342v-380m10 471v-471m10 471v-396m10 289v-289m10 289v-213" stroke-width="13"/></g></g>
<g opacity="0.35" fill="none" stroke="#1f77b4" stroke-linejoin="bevel" clip-path="url(#cr2)"><g transform="scale(0.1)"><path d="M5720 4905v-359l10 80v319l10-32v-287l10 18v361l10 4v-478l10 0v432l10 59v-500l10-2v403l10-7v-307l10 0v331l10-20v-370l10 104v462l10 0v-532l10 95v259l10 0v-328l10-140v507l10 0v-457l10 54v353l10 0v-353l10 27v377l10-77v-266l10 4v301l10 0v-322l10 0v374l10 0v-323l10 7v254l10 167v-421l10-176v597l10-124v-473l10 194v306l10 0v-378l10-3v385l10 0v-434l10 0v399l10 0v-385l10 17v345l10-19v-479l10 173v306l10 77v-421l10-125v546l10-54v-285l10-40v290l10 9v-335l10-104v544l10-78v-466l10-17v526l10 0v-248l10-175v321l10 2v-323l10-5v388l10 57v-371l10 51v320l10 52v-408l10-116v487l10-94v-393l10-47v524l10-18v-506l10 133v290l10 0v-450l10 0v608l10 0v-411l10-57v535l10 0v-535l10 23v370l10-22v-276l10-19v223l10 64v-404l10 42v308l10 48v-335l10-43v366l10 22v-318l10-15v333l10 69v-617l10 143v474l10-31v-311l10-43v354l10-141v-171l10-51v440l10 0v-613l10 0v475l10-11v-295l10-3v269l10-23v-311l10 80v283l10 48v-331l10-48v504l10-187v-333l10 0v401l10 0v-351l10-34v309l10 23v-332l10 57v329l10 46v-375l10-126v501l10-151v-350l10 27v369l10 87v-456l10 75v381l10-8v-373l10 31v372l10 0v-529l10 0v462l10 50v-426l10 61v261l10 30v-516l10 0v595l10 67v-429l10 35v271l10 0v-381l10-32v467l10-27v-428l10 32v396l10-55v-385l10 0v388l10 8v-343l10-217v550l10 0v-318l10-17v328l10 0v-333l10-6v353l10-74v-288l10 0v372l10-7v-299l10 0v340l10 38v-383l10 0v383l10-153v-182l10-61v301l10-37v-315l10 0v343l10 3v-358l10 0v358l10 87v-499l10 95v386l10 0v-464l10 0v392l10 54v-423l10 0v375l10 0v-367l10-35v382l10 47v-429l10 70v392l10 9v-320l10-14v271l10 0v-498l10 0v508l10 43v-356l10-110v486l10 0v-486l10 66v417l10-100v-317l10 94v371l10 0v-457l10 0v347l10 44v-316l10-66v354l10 57v-473l10 0v421l10-52v-273l10-153v501l10 0v-492l10 63v416l10-19v-416l10-51v469l10 0v-489l10 0v456l10 102v-418l10 47v371l10-96v-275l10-35v263l10 44v-536l10 211v389l10-63v-422l10 0v511l10 0v-448l10 0v444l10 39v-469l10-56v441l10 17v-458l10 63v395l10-26v-440l10-48v488l10-16v-472l10 164v316l10 179v-517l10-3v520l10-190v-447l10 0v471l10 67v-302l10-263v547l10-73v-341l10-54v395l10 31v-426l10 54v453l10-127v-330l10 42v391l10 102v-443l10-133v576l10-133v-367l10-82v402l10 73v-475l10 136v345l10 0v-452l10-63v554l10 0v-591l10 156v401l10 0v-413l10 0v398l10-75v-418l10 0v425l10 0v-373l10 76v264l10 54v-318l10-84v326l10 42v-368l10 130v184l10 110v-339l10 0v332l10-63v-384l10 0v488l10-32v-301l10-18v319l10-54v-280l10-93v418l10-36v-382l10 4v427l10 0v-427l10 28v341l10-30v-273l10-2v301l10 49v-374l10 0v340l10-25v-321l10 32v389l10-30v-350l10 27v341l10-97v-244l10-409v710l10 0v-415l10-44v364l10 44v-266l10-61v354l10 31v-385l10 65v309l10 25v-353l10-34v387l10-19v-434l10 0v434l10-27v-317l10 46v239l10 43v-432l10 76v441l10 0v-441l10 32v367l10 0v-435l10 0v369l10 53v-326l10 94v232l10-1v-316l10-75v406l10 0v-406l10 25v383l10-69v-345l10 19v346l10 109v-455l10-65v520l10-50v-593l10 0v558l10 0v-323l10 30v267l10-37v-273l10 32v318l10 38v-511l10 0v511l10-53v-258l10-230v441l10 52v-505l10 0v505l10 17v-423l10-95v400l10 99v-499l10 125v295l10 0v-320l10-35v342l10 78v-420l10 97v312l10 30v-368l10-68v360l10 0v-360l10 65v349l10 0v-349l10-148v435l10 41v-476l10 174v378l10 0v-347l10-140v484l10 50v-606l10 0v539l10-12v-438l10 28v410l10-95v-240l10-81v329l10 48v-377l10 22v355l10 43v-433l10-86v519l10-6v-429l10 115v349l10 0v-484l10 0v438l10 9v-370l10-71v461l10 0v-392l10-41v375l10 35v-386l10-170v599l10 0v-599l10 65v458l10 0v-458l10 213v307l10-59v-337l10 0v383l10 36v-348l10-30v378l10-47v-337l10 0v266l10 15v-343l10 0v473l10 0v-479l10 0v338l10-74v-183l10-17v307l10 0v-459l10 90v421l10 4v-425l10-87v512l10-22v-490l10 158v332l10-35v-317l10-158v452l10 103v-555l10 171v313l10 51v-373l10 0v281l10 47v-319l10-121v440l10-70v-339l10 21v338l10 0v-553l10 0v609l10 0v-340l10-137v421l10 124v-545l10 47v424l10-3v-360l10 0v382l10 34v-411l10-49v460l10-49v-403l10 68v394l10 0v-418l10-103v523l10 96v-599l10 5v402l10 12v-274l10-68v395l10 0v-395l10 10v307l10 24v-301l10-1v314l10 0v-314l10-71v382l10 0v-576l10 0v614l10 84v-384l10-28v412l10-134v-381l10 0v340l10 79v-388l10-213v579l10 22v-516l10 0v596l10 0v-410l10-111v387l10 5v-392l10 74v387l10 0v-387l10 58v351l10-5v-428l10-33v435l10-17v-401l10 61v340l10-30v-277l10-83v351l10 41v-367l10 0v398l10-43v-352l10 63v303l10 0v-589l10 0v603l10-41v-367l10-17v339l10 180v-519l10-25v544l10-151v-393l10 101v237l10 112v-333l10-137v447l10-10v-437l10 109v328l10 24v-352l10 11v341l10 5v-449l10 36v413l10-17v-327l10-1v439l10 0v-415l10 32v268l10 0v-393l10 55v318l10-9v-306l10-3v335l10-114v-239l10 57v328l10 68v-405l10-12v417l10-23v-395l10 0v296l10 58v-504l10-7v511l10 38v-549l10 9v460l10 55v-515l10 139v376l10-116v-260l10 34v292l10-21v-271l10 36v302l10 0v-477l10 0v435l10 0v-292l10-44v322l10 0v-370l10 0v386l10 0v-217l10-55v305l10-31v-453l10 0v423l10-15v-312l10-17v420l10 0v-420l10-179v556l10 3v-496l10 141v331l10-25v-282l10-142v437l10-54v-276l10-102v533l10 0v-377l10 13v234l10-24v-205l10 0v212l10-15v-171l10-40v273l10 0v-235l10-206v451l10 8v-459l10 111v348l10 56v-342l10-65v327l10-7v-253l10 1v278l10 0v-403l10 0v438l10 0v-487l10 0v382l10 35v-379l10-104v511l10 0v-390l10 60v402l10 0v-451l10-32v465l10 114v-579l10 14v392l10-26v-347l10 113v234l10-22v-466l10 111v388l10 0v-394l10 0v479l10 0v-317l10-33v353l10 0v-409l10 0v448l10 0v-527l10 0v401l10 21v-306l10 41v268l10 29v-320l10 0v285l10-5v-323l10-22v487l10 0v-459l10 41v301l10-32v-267l10-45v343l10 0v-415" stroke-width="13" stroke-dasharray="83.2 20.8 13 20.8"/><path d="M5720 4883v-196m10 218v-169m10 148v-211m10 233v-233m10 228v-354m10 366v-366m10 376v-278m10 235v-358m10 383v-223m10 234v-274m10 265v-250m10 305v-242m10 278v-344m10 275v-231m10 207v-269m10 310v-426m10 426v-308m10 285v-285m10 264v-245m10 225v-247m10 236v-203m10 233v-220m10 255v-297m10 300v-223m10 223v-259m10 218v-210m10 210v-207m10 261v-305m10 305v-294m10 315v-268m10 238v-238m10 266v-350m10 350v-370m10 323v-340m10 362v-345m10 298v-284m10 265v-254m10 274v-145m10 199v-333m10 329v-367m10 364v-275m10 239v-277m10 268v-277m10 364v-464m10 367v-367m10 426v-328m10 330v-202m10 124v-177m10 194v-194m10 251v-309m10 309v-269m10 264v-244m10 304v-304m10 273v-420m10 376v-247m10 316v-302m10 234v-254m10 225v-231m10 199v-209m10 321v-321m10 401v-346m10 346v-374m10 311v-370m10 348v-305m10 275v-221m10 162v-187m10 190v-318m10 312v-257m10 323v-313m10 271v-285m10 309v-260m10 264v-256m10 286v-399m10 402v-315m10 315v-241m10 201v-260m10 187v-144m10 266v-251m10 251v-384m10 336v-336m10 315v-172m10 146v-240m10 240v-184m10 191v-218m10 266v-234m10 282v-371m10 307v-315m10 329v-248m10 248v-282m10 242v-254m10 274v-244m10 261v-259m10 319v-283m10 198v-246m10 205v-205m10 252v-342m10 384v-273m10 267v-267m10 248v-247m10 333v-314m10 226v-314m10 361v-376m10 415v-323m10 188v-185m10 212v-370m10 415v-272m10 351v-336m10 205v-191m10 201v-201m10 226v-361m10 361v-329m10 341v-273m10 222v-157m10 192v-316m10 280v-236m10 279v-308m10 308v-262m10 252v-238m10 238v-315m10 270v-269m10 265v-264m10 266v-269m10 300v-223m10 269v-197m10 238v-344m10 232v-232m10 154v-102m10 177v-187m10 196v-252m10 255v-226m10 263v-240m10 232v-165m10 165v-165m10 216v-283m10 263v-337m10 311v-281m10 284v-341m10 304v-324m10 337v-297m10 297v-231m10 218v-249m10 345v-314m10 321v-309m10 221v-221m10 221v-260m10 288v-288m10 304v-290m10 333v-443m10 461v-348m10 235v-211m10 211v-195m10 207v-201m10 291v-313m10 245v-173m10 157v-157m10 178v-288m10 308v-347m10 354v-320m10 270v-225m10 293v-250m10 250v-419m10 397v-249m10 226v-304m10 257v-346m10 385v-436m10 406v-307m10 426v-310m10 310v-293m10 199v-199m10 145v-234m10 293v-304m10 307v-226m10 219v-318m10 410v-289m10 289v-323m10 263v-281m10 342v-398m10 338v-370m10 359v-383m10 400v-266m10 233v-331m10 348v-424m10 413v-450m10 464v-291m10 296v-262m10 206v-262m10 262v-212m10 257v-412m10 485v-280m10 232v-366m10 313v-207m10 208v-232m10 195v-273m10 368v-366m10 318v-324m10 352v-275m10 352v-333m10 302v-367m10 342v-257m10 227v-341m10 349v-349m10 386v-282m10 264v-390m10 390v-392m10 375v-438m10 386v-235m10 301v-335m10 335v-335m10 284v-236m10 236v-337m10 311v-293m10 293v-215m10 244v-248m10 214v-276m10 323v-323m10 245v-114m10 248v-325m10 219v-219m10 254v-271m10 295v-295m10 317v-241m10 178v-203m10 195v-201m10 252v-329m10 326v-331m10 343v-343m10 334v-259m10 229v-274m10 267v-232m10 187v-166m10 259v-316m10 287v-309m10 304v-304m10 326v-293m10 293v-268m10 297v-256m10 171v-139m10 117v-279m10 297v-297m10 295v-318m10 301v-198m10 261v-291m10 329v-329m10 329v-181m10 190v-287m10 274v-315m10 315v-349m10 341v-329m10 226v-198m10 261v-227m10 237v-293m10 326v-278m10 329v-367m10 367v-358m10 270v-270m10 282v-267m10 280v-267m10 316v-229m10 129v-198m10 235v-253m10 256v-306m10 324v-207m10 196v-210m10 222v-284m10 317v-320m10 320v-392m10 317v-360m10 406v-322m10 322v-270m10 255v-238m10 201v-223m10 227v-216m10 307v-352m10 206v-291m10 327v-141m10 147v-221m10 284v-284m10 305v-342m10 342v-342m10 222v-280m10 306v-319m10 319v-226m10 235v-298m10 298v-298m10 328v-274m10 278v-272m10 270v-270m10 245v-277m10 280v-285m10 335v-322m10 286v-222m10 170v-233m10 277v-416m10 455v-271m10 275v-272m10 231v-355m10 448v-467m10 420v-403m10 403v-375m10 374v-299m10 239v-155m10 156v-305m10 311v-311m10 258v-177m10 229v-247m10 273v-367m10 369v-254m10 314v-314m10 277v-236m10 240v-414m10 430v-335m10 350v-350m10 345v-307m10 251v-246m10 284v-287m10 307v-386m10 428v-373m10 268v-254m10 233v-181m10 266v-266m10 208v-201m10 249v-261m10 261v-261m10 234v-260m10 260v-290m10 226v-191m10 194v-248m10 294v-290m10 279v-279m10 268v-221m10 150v-155m10 204v-210m10 250v-292m10 292v-292m10 296v-200m10 223v-238m10 238v-344m10 342v-203m10 191v-220m10 157v-286m10 338v-305m10 315v-288m10 288v-291m10 271v-238m10 238v-184m10 177v-354m10 326v-305m10 305v-225m10 208v-335m10 367v-367m10 336v-203m10 217v-295m10 330v-218m10 265v-324m10 322v-305m10 305v-305m10 329v-338m10 323v-362m10 328v-301m10 303v-239m10 239v-239m10 211v-382m10 382v-161m10 177v-253m10 262v-253m10 265v-292m10 248v-288m10 299v-202m10 232v-221m10 233v-311m10 311v-276m10 252v-336m10 329v-329m10 329v-325m10 411v-289m10 289v-318m10 209v-266m10 211v-207m10 319v-316m10 280v-330m10 363v-227m10 227v-304m10 288v-288m10 255v-256m10 276v-310m10 365v-365m10 365v-343m10 379v-314m10 288v-378m10 325v-365m10 293v-280m10 354v-305m10 305v-264m10 229v-221m10 270v-276m10 298v-364m10 320v-288m10 320v-234m10 154v-252m10 313v-338m10 297v-297m10 297v-334m10 336v-336m10 445v-406m10 257v-306m10 306v-166m10 215v-215m10 218v-301m10 303v-303m10 303v-255m10 247v-219m10 260v-310m10 285v-286m10 286v-263m10 251v-265m10 292v-292m10 292v-240m10 207v-202m10 219v-298m10 309v-306m10 291v-266m10 235v-235m10 184v-212m10 340v-281m10 308v-332m10 377v-382m10 306v-267m10 201v-186m10 229v-208m10 265v-322m10 250v-268m10 287v-373m10 385v-385m10 382v-248m10 188v-202m10 249v-256m10 245v-260m10 198v-148m10 160v-262m10 327v-327m10 327v-254m10 219v-158m10 158v-280m10 297v-238m10 252v-166m10 201v-275m10 239v-244m10 243v-326m10 289v-227m10 206v-206m10 298v-290m10 237v-440m10 432v-308m10 279v-233m10 270v-251m10 202v-226m10 226v-214m10 240v-233m10 236v-223m10 188v-167m10 142v-146m10 183v-183m10 159v-139m10 220v-226m10 220v-218m10 218v-344m10 332v-305m10 305v-243m10 262v-257m10 247v-250m10 250v-249m10 244v-192m10 198v-268m10 263v-259m10 292v-343m10 246v-246m10 308v-297m10 297v-383m10 328v-247m10 377v-347m10 354v-416m10 324v-341m10 374v-392m10 376v-357m10 337v-319m10 319v-179m10 159v-181m10 188v-342m10 342v-315m10 340v-223m10 216v-135m10 221v-285m10 285v-339m10 284v-213m10 225v-295m10 236v-357m10 409v-301m10 303v-215m10 233v-263m10 173v-173m10 236v-230m10 294v-386m10 348v-316m10 257v-232m10 228v-211m10 242v-302m10 292v-302" stroke-width="13"/></g></g>
<g style="filter:grayscale(1)">
<rect x="16.5" y="32.8" width="507.3" height="131" fill="none" stroke="#262626" stroke-width="1.1"/>
<rect x="571.5" y="32.8" width="507.3" height="131" fill="none" stroke="#262626" stroke-width="1.1"/>
<text x="250.7" y="24.8" style="font-size:14.6px;letter-spacing:0.3px">alpha</text>
<text x="805.7" y="24.8" style="font-size:14.6px;letter-spacing:0.3px">alpha</text>
<path d="M571.5 163.8v5M672.98 163.8v5M774.46 163.8v5M875.94 163.8v5M977.42 163.8v5" stroke="#262626" stroke-width="1.0" fill="none"/>
<text x="571.5" y="181.8" text-anchor="middle">0</text>
<text x="672.98" y="181.8" text-anchor="middle">1000</text>
<text x="774.46" y="181.8" text-anchor="middle">2000</text>
<text x="875.94" y="181.8" text-anchor="middle">3000</text>
<text x="977.42" y="181.8" text-anchor="middle">4000</text>
<rect x="16.5" y="214" width="507.3" height="131.2" fill="none" stroke="#262626" stroke-width="1.1"/>
<rect x="571.5" y="214" width="507.3" height="131.2" fill="none" stroke="#262626" stroke-width="1.1"/>
<text x="252.9" y="206" style="font-size:14.6px;letter-spacing:0.95px">beta</text>
<text x="807.9" y="206" style="font-size:14.6px;letter-spacing:0.95px">beta</text>
<path d="M571.5 345.2v5M672.98 345.2v5M774.46 345.2v5M875.94 345.2v5M977.42 345.2v5" stroke="#262626" stroke-width="1.0" fill="none"/>
<text x="571.5" y="363.2" text-anchor="middle">0</text>
<text x="672.98" y="363.2" text-anchor="middle">1000</text>
<text x="774.46" y="363.2" text-anchor="middle">2000</text>
<text x="875.94" y="363.2" text-anchor="middle">3000</text>
<text x="977.42" y="363.2" text-anchor="middle">4000</text>
<rect x="16.5" y="395.4" width="507.3" height="130.9" fill="none" stroke="#262626" stroke-width="1.1"/>
<rect x="571.5" y="395.4" width="507.3" height="130.9" fill="none" stroke="#262626" stroke-width="1.1"/>
<text x="247.8" y="387.4" style="font-size:14.6px;letter-spacing:0.4px">sigma</text>
<text x="802.8" y="387.4" style="font-size:14.6px;letter-spacing:0.4px">sigma</text>
<path d="M571.5 526.3v5M672.98 526.3v5M774.46 526.3v5M875.94 526.3v5M977.42 526.3v5" stroke="#262626" stroke-width="1.0" fill="none"/>
<text x="571.5" y="544.3" text-anchor="middle">0</text>
<text x="672.98" y="544.3" text-anchor="middle">1000</text>
<text x="774.46" y="544.3" text-anchor="middle">2000</text>
<text x="875.94" y="544.3" text-anchor="middle">3000</text>
<text x="977.42" y="544.3" text-anchor="middle">4000</text>
<path d="M42.5 163.8v5M99.54 163.8v5M156.58 163.8v5M213.62 163.8v5M270.66 163.8v5M327.7 163.8v5M384.74 163.8v5M441.78 163.8v5M498.82 163.8v5" stroke="#262626" stroke-width="1.0" fill="none"/>
<text x="41.6" y="181.8" text-anchor="middle">0.5</text>
<text x="98.64" y="181.8" text-anchor="middle">0.6</text>
<text x="155.68" y="181.8" text-anchor="middle">0.7</text>
<text x="212.72" y="181.8" text-anchor="middle">0.8</text>
<text x="269.76" y="181.8" text-anchor="middle">0.9</text>
<text x="326.8" y="181.8" text-anchor="middle">1.0</text>
<text x="383.84" y="181.8" text-anchor="middle">1.1</text>
<text x="440.88" y="181.8" text-anchor="middle">1.2</text>
<text x="497.92" y="181.8" text-anchor="middle">1.3</text>
<path d="M16.4 345.2v5M115.38 345.2v5M214.36 345.2v5M313.34 345.2v5M412.32 345.2v5M511.3 345.2v5" stroke="#262626" stroke-width="1.0" fill="none"/>
<text x="16.4" y="363.2" text-anchor="middle">0.5</text>
<text x="115.38" y="363.2" text-anchor="middle">1.0</text>
<text x="214.36" y="363.2" text-anchor="middle">1.5</text>
<text x="313.34" y="363.2" text-anchor="middle">2.0</text>
<text x="412.32" y="363.2" text-anchor="middle">2.5</text>
<text x="511.3" y="363.2" text-anchor="middle">3.0</text>
<path d="M73.9 526.3v5M135.07 526.3v5M196.24 526.3v5M257.41 526.3v5M318.58 526.3v5M379.75 526.3v5M440.92 526.3v5M502.09 526.3v5" stroke="#262626" stroke-width="1.0" fill="none"/>
<text x="73" y="544.3" text-anchor="middle">0.8</text>
<text x="134.17" y="544.3" text-anchor="middle">0.9</text>
<text x="195.34" y="544.3" text-anchor="middle">1.0</text>
<text x="256.51" y="544.3" text-anchor="middle">1.1</text>
<text x="317.68" y="544.3" text-anchor="middle">1.2</text>
<text x="378.85" y="544.3" text-anchor="middle">1.3</text>
<text x="440.02" y="544.3" text-anchor="middle">1.4</text>
<text x="501.19" y="544.3" text-anchor="middle">1.5</text>
<path d="M571.5 141.78h-5M571.5 112.34h-5M571.5 82.9h-5M571.5 53.46h-5" stroke="#262626" stroke-width="1.0" fill="none"/>
<text x="560.9" y="146.63" text-anchor="end">0.6</text>
<text x="560.9" y="117.19" text-anchor="end">0.8</text>
<text x="560.9" y="87.75" text-anchor="end">1.0</text>
<text x="560.9" y="58.31" text-anchor="end">1.2</text>
<path d="M571.5 318.65h-5M571.5 267.5h-5M571.5 216.35h-5" stroke="#262626" stroke-width="1.0" fill="none"/>
<text x="562.4" y="323.5" text-anchor="end">1</text>
<text x="562.4" y="272.35" text-anchor="end">2</text>
<text x="562.4" y="221.2" text-anchor="end">3</text>
<path d="M571.5 510.12h-5M571.5 478.7h-5M571.5 447.28h-5M571.5 415.86h-5" stroke="#262626" stroke-width="1.0" fill="none"/>
<text x="560.9" y="514.97" text-anchor="end">0.8</text>
<text x="560.9" y="483.55" text-anchor="end">1.0</text>
<text x="560.9" y="452.13" text-anchor="end">1.2</text>
<text x="560.9" y="420.71" text-anchor="end">1.4</text>
</g>
</svg></body></html>
